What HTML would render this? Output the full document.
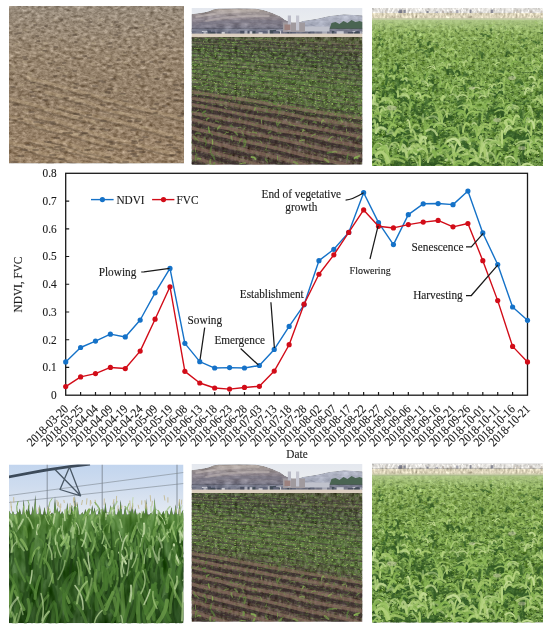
<!DOCTYPE html>
<html><head><meta charset="utf-8"><style>
html,body{margin:0;padding:0;background:#fff;}
svg{display:block;}
text{font-family:"Liberation Serif","Times New Roman",serif;font-size:11.3px;fill:#1a1a1a;stroke:#1a1a1a;stroke-width:0.12px;}
</style></head><body>
<svg width="550" height="630" viewBox="0 0 550 630">
<rect width="550" height="630" fill="#fff"/>
<defs><filter id="ftl" x="0" y="0" width="1" height="1" color-interpolation-filters="sRGB"><feTurbulence type="fractalNoise" baseFrequency="0.22 0.33" numOctaves="3" seed="4" result="n"/><feColorMatrix in="n" type="matrix" values="0.33 0.33 0.33 0 0 0.33 0.33 0.33 0 0 0.33 0.33 0.33 0 0 0 0 0 0 1" result="g"/><feComposite in="SourceGraphic" in2="g" operator="arithmetic" k1="0" k2="1" k3="0.75" k4="-0.375" result="c"/><feComposite in="c" in2="SourceGraphic" operator="in"/></filter><clipPath id="ctl"><rect width="175" height="157.5"/></clipPath><clipPath id="ctm"><rect width="171.0" height="156.7"/></clipPath><linearGradient id="tmsky" x1="0" y1="0" x2="0" y2="1"><stop offset="0" stop-color="#e4e8ef"/><stop offset="1" stop-color="#f2f2f0"/></linearGradient><linearGradient id="tmhill" x1="0" y1="0" x2="0" y2="1"><stop offset="0" stop-color="#aaa099"/><stop offset="0.45" stop-color="#908890"/><stop offset="1" stop-color="#707284"/></linearGradient><linearGradient id="tmhill2" x1="0" y1="0" x2="0" y2="1"><stop offset="0" stop-color="#b8bccb"/><stop offset="1" stop-color="#9a9fb0"/></linearGradient><linearGradient id="tmfield" gradientUnits="userSpaceOnUse" x1="100" y1="29" x2="78" y2="156.7"><stop offset="0" stop-color="#55583f"/><stop offset="0.12" stop-color="#4f5a3e"/><stop offset="0.35" stop-color="#5a7040"/><stop offset="0.5" stop-color="#55613e"/><stop offset="0.62" stop-color="#5b4c44"/><stop offset="1" stop-color="#574640"/></linearGradient><filter id="ftm" x="0" y="0" width="1" height="1" color-interpolation-filters="sRGB"><feTurbulence type="fractalNoise" baseFrequency="0.3 0.18" numOctaves="3" seed="9" result="n"/><feColorMatrix in="n" type="matrix" values="0.33 0.33 0.33 0 0 0.33 0.33 0.33 0 0 0.33 0.33 0.33 0 0 0 0 0 0 1" result="g"/><feComposite in="SourceGraphic" in2="g" operator="arithmetic" k1="0" k2="1" k3="0.7" k4="-0.35" result="c"/><feComposite in="c" in2="SourceGraphic" operator="in"/></filter><filter id="ftmh" x="0" y="0" width="1" height="1" color-interpolation-filters="sRGB"><feTurbulence type="fractalNoise" baseFrequency="0.12 0.3" numOctaves="3" seed="5" result="n"/><feColorMatrix in="n" type="matrix" values="0.33 0.33 0.33 0 0 0.33 0.33 0.33 0 0 0.33 0.33 0.33 0 0 0 0 0 0 1" result="g"/><feComposite in="SourceGraphic" in2="g" operator="arithmetic" k1="0" k2="1" k3="0.5" k4="-0.25" result="c"/><feComposite in="c" in2="SourceGraphic" operator="in"/></filter><linearGradient id="tmpm" gradientUnits="userSpaceOnUse" x1="100" y1="30" x2="78" y2="156.7"><stop offset="0" stop-color="#fff" stop-opacity="0.55"/><stop offset="0.2" stop-color="#fff" stop-opacity="0.75"/><stop offset="0.45" stop-color="#fff" stop-opacity="1"/><stop offset="0.6" stop-color="#fff" stop-opacity="0.35"/><stop offset="1" stop-color="#fff" stop-opacity="0.25"/></linearGradient><filter id="stm" x="0" y="0" width="1" height="1" color-interpolation-filters="sRGB"><feTurbulence type="fractalNoise" baseFrequency="0.22 0.5" numOctaves="2" seed="31"/><feColorMatrix type="matrix" values="0 0 0 0 0.392 0 0 0 0 0.541 0 0 0 0 0.259 1.5 0 0 0 -0.25"/><feComponentTransfer><feFuncA type="table" tableValues="0 0 0 0 0.4 1 1"/></feComponentTransfer><feComposite in2="SourceGraphic" operator="in"/></filter><filter id="stmb" x="0" y="0" width="1" height="1" color-interpolation-filters="sRGB"><feTurbulence type="fractalNoise" baseFrequency="0.35 0.7" numOctaves="2" seed="8"/><feColorMatrix type="matrix" values="0 0 0 0 0.588 0 0 0 0 0.725 0 0 0 0 0.373 1.5 0 0 0 -0.25"/><feComponentTransfer><feFuncA type="table" tableValues="0 0 0 0 0 0.6 1"/></feComponentTransfer><feComposite in2="SourceGraphic" operator="in"/></filter><clipPath id="ctr"><rect width="171" height="158"/></clipPath><linearGradient id="trg" x1="0" y1="0" x2="0" y2="1"><stop offset="0" stop-color="#9cbc6a"/><stop offset="0.2" stop-color="#82a552"/><stop offset="0.5" stop-color="#729a46"/><stop offset="1" stop-color="#668e3e"/></linearGradient><filter id="ftr" x="0" y="0" width="1" height="1" color-interpolation-filters="sRGB"><feTurbulence type="fractalNoise" baseFrequency="0.3 0.24" numOctaves="3" seed="13" result="n"/><feColorMatrix in="n" type="matrix" values="0.33 0.33 0.33 0 0 0.33 0.33 0.33 0 0 0.33 0.33 0.33 0 0 0 0 0 0 1" result="g"/><feComposite in="SourceGraphic" in2="g" operator="arithmetic" k1="0" k2="1" k3="0.8" k4="-0.4" result="c"/><feComposite in="c" in2="SourceGraphic" operator="in"/></filter><filter id="ftrt" x="0" y="0" width="1" height="1" color-interpolation-filters="sRGB"><feTurbulence type="fractalNoise" baseFrequency="0.5 0.25" numOctaves="2" seed="3" result="n"/><feColorMatrix in="n" type="matrix" values="0.33 0.33 0.33 0 0 0.33 0.33 0.33 0 0 0.33 0.33 0.33 0 0 0 0 0 0 1" result="g"/><feComposite in="SourceGraphic" in2="g" operator="arithmetic" k1="0" k2="1" k3="0.8" k4="-0.4" result="c"/><feComposite in="c" in2="SourceGraphic" operator="in"/></filter><filter id="strd" x="0" y="0" width="1" height="1" color-interpolation-filters="sRGB"><feTurbulence type="fractalNoise" baseFrequency="0.28 0.5" numOctaves="2" seed="41"/><feColorMatrix type="matrix" values="0 0 0 0 0.149 0 0 0 0 0.267 0 0 0 0 0.102 1.5 0 0 0 -0.25"/><feComponentTransfer><feFuncA type="table" tableValues="0 0 0 0 0.35 0.9 1"/></feComponentTransfer><feComposite in2="SourceGraphic" operator="in"/></filter><filter id="strl" x="0" y="0" width="1" height="1" color-interpolation-filters="sRGB"><feTurbulence type="fractalNoise" baseFrequency="0.4 0.7" numOctaves="2" seed="12"/><feColorMatrix type="matrix" values="0 0 0 0 0.647 0 0 0 0 0.776 0 0 0 0 0.439 1.5 0 0 0 -0.25"/><feComponentTransfer><feFuncA type="table" tableValues="0 0 0 0 0.15 0.8 1"/></feComponentTransfer><feComposite in2="SourceGraphic" operator="in"/></filter><linearGradient id="trm" x1="0" y1="0" x2="0" y2="1"><stop offset="0" stop-color="#fff" stop-opacity="0.45"/><stop offset="1" stop-color="#fff" stop-opacity="1"/></linearGradient><linearGradient id="trhz" x1="0" y1="0" x2="0" y2="1"><stop offset="0" stop-color="#b8cc94" stop-opacity="0.75"/><stop offset="1" stop-color="#a8c47e" stop-opacity="0"/></linearGradient><clipPath id="cbl"><rect width="174.5" height="158.79999999999995"/></clipPath><linearGradient id="blsky" x1="0" y1="0" x2="0" y2="1"><stop offset="0" stop-color="#c2d5ee"/><stop offset="0.15" stop-color="#d0ddef"/><stop offset="0.3" stop-color="#e3e9f1"/><stop offset="1" stop-color="#eef0f2"/></linearGradient><linearGradient id="blg" x1="0" y1="0" x2="0" y2="1"><stop offset="0" stop-color="#76a05a"/><stop offset="0.2" stop-color="#58863e"/><stop offset="0.5" stop-color="#3a6429"/><stop offset="1" stop-color="#2a4c1e"/></linearGradient><filter id="fbl" x="0" y="0" width="1" height="1" color-interpolation-filters="sRGB"><feTurbulence type="fractalNoise" baseFrequency="0.12 0.041999999999999996" numOctaves="3" seed="17" result="n"/><feColorMatrix in="n" type="matrix" values="0.33 0.33 0.33 0 0 0.33 0.33 0.33 0 0 0.33 0.33 0.33 0 0 0 0 0 0 1" result="g"/><feComposite in="SourceGraphic" in2="g" operator="arithmetic" k1="0" k2="1" k3="0.8" k4="-0.4" result="c"/><feComposite in="c" in2="SourceGraphic" operator="in"/></filter><clipPath id="cbm"><rect width="171.0" height="157.79999999999995"/></clipPath><linearGradient id="bmsky" x1="0" y1="0" x2="0" y2="1"><stop offset="0" stop-color="#e4e8ef"/><stop offset="1" stop-color="#f2f2f0"/></linearGradient><linearGradient id="bmhill" x1="0" y1="0" x2="0" y2="1"><stop offset="0" stop-color="#aaa099"/><stop offset="0.45" stop-color="#908890"/><stop offset="1" stop-color="#707284"/></linearGradient><linearGradient id="bmhill2" x1="0" y1="0" x2="0" y2="1"><stop offset="0" stop-color="#b8bccb"/><stop offset="1" stop-color="#9a9fb0"/></linearGradient><linearGradient id="bmfield" gradientUnits="userSpaceOnUse" x1="100" y1="29" x2="78" y2="157.79999999999995"><stop offset="0" stop-color="#55583f"/><stop offset="0.12" stop-color="#4f5a3e"/><stop offset="0.35" stop-color="#5a7040"/><stop offset="0.5" stop-color="#55613e"/><stop offset="0.62" stop-color="#5b4c44"/><stop offset="1" stop-color="#574640"/></linearGradient><filter id="fbm" x="0" y="0" width="1" height="1" color-interpolation-filters="sRGB"><feTurbulence type="fractalNoise" baseFrequency="0.3 0.18" numOctaves="3" seed="9" result="n"/><feColorMatrix in="n" type="matrix" values="0.33 0.33 0.33 0 0 0.33 0.33 0.33 0 0 0.33 0.33 0.33 0 0 0 0 0 0 1" result="g"/><feComposite in="SourceGraphic" in2="g" operator="arithmetic" k1="0" k2="1" k3="0.7" k4="-0.35" result="c"/><feComposite in="c" in2="SourceGraphic" operator="in"/></filter><filter id="fbmh" x="0" y="0" width="1" height="1" color-interpolation-filters="sRGB"><feTurbulence type="fractalNoise" baseFrequency="0.12 0.3" numOctaves="3" seed="5" result="n"/><feColorMatrix in="n" type="matrix" values="0.33 0.33 0.33 0 0 0.33 0.33 0.33 0 0 0.33 0.33 0.33 0 0 0 0 0 0 1" result="g"/><feComposite in="SourceGraphic" in2="g" operator="arithmetic" k1="0" k2="1" k3="0.5" k4="-0.25" result="c"/><feComposite in="c" in2="SourceGraphic" operator="in"/></filter><linearGradient id="bmpm" gradientUnits="userSpaceOnUse" x1="100" y1="30" x2="78" y2="157.79999999999995"><stop offset="0" stop-color="#fff" stop-opacity="0.55"/><stop offset="0.2" stop-color="#fff" stop-opacity="0.75"/><stop offset="0.45" stop-color="#fff" stop-opacity="1"/><stop offset="0.6" stop-color="#fff" stop-opacity="0.35"/><stop offset="1" stop-color="#fff" stop-opacity="0.25"/></linearGradient><filter id="sbm" x="0" y="0" width="1" height="1" color-interpolation-filters="sRGB"><feTurbulence type="fractalNoise" baseFrequency="0.22 0.5" numOctaves="2" seed="31"/><feColorMatrix type="matrix" values="0 0 0 0 0.392 0 0 0 0 0.541 0 0 0 0 0.259 1.5 0 0 0 -0.25"/><feComponentTransfer><feFuncA type="table" tableValues="0 0 0 0 0.4 1 1"/></feComponentTransfer><feComposite in2="SourceGraphic" operator="in"/></filter><filter id="sbmb" x="0" y="0" width="1" height="1" color-interpolation-filters="sRGB"><feTurbulence type="fractalNoise" baseFrequency="0.35 0.7" numOctaves="2" seed="8"/><feColorMatrix type="matrix" values="0 0 0 0 0.588 0 0 0 0 0.725 0 0 0 0 0.373 1.5 0 0 0 -0.25"/><feComponentTransfer><feFuncA type="table" tableValues="0 0 0 0 0 0.6 1"/></feComponentTransfer><feComposite in2="SourceGraphic" operator="in"/></filter><clipPath id="cbr"><rect width="171" height="159.0"/></clipPath><linearGradient id="brg" x1="0" y1="0" x2="0" y2="1"><stop offset="0" stop-color="#9cbc6a"/><stop offset="0.2" stop-color="#82a552"/><stop offset="0.5" stop-color="#729a46"/><stop offset="1" stop-color="#668e3e"/></linearGradient><filter id="fbr" x="0" y="0" width="1" height="1" color-interpolation-filters="sRGB"><feTurbulence type="fractalNoise" baseFrequency="0.3 0.24" numOctaves="3" seed="13" result="n"/><feColorMatrix in="n" type="matrix" values="0.33 0.33 0.33 0 0 0.33 0.33 0.33 0 0 0.33 0.33 0.33 0 0 0 0 0 0 1" result="g"/><feComposite in="SourceGraphic" in2="g" operator="arithmetic" k1="0" k2="1" k3="0.8" k4="-0.4" result="c"/><feComposite in="c" in2="SourceGraphic" operator="in"/></filter><filter id="fbrt" x="0" y="0" width="1" height="1" color-interpolation-filters="sRGB"><feTurbulence type="fractalNoise" baseFrequency="0.5 0.25" numOctaves="2" seed="3" result="n"/><feColorMatrix in="n" type="matrix" values="0.33 0.33 0.33 0 0 0.33 0.33 0.33 0 0 0.33 0.33 0.33 0 0 0 0 0 0 1" result="g"/><feComposite in="SourceGraphic" in2="g" operator="arithmetic" k1="0" k2="1" k3="0.8" k4="-0.4" result="c"/><feComposite in="c" in2="SourceGraphic" operator="in"/></filter><filter id="sbrd" x="0" y="0" width="1" height="1" color-interpolation-filters="sRGB"><feTurbulence type="fractalNoise" baseFrequency="0.28 0.5" numOctaves="2" seed="41"/><feColorMatrix type="matrix" values="0 0 0 0 0.149 0 0 0 0 0.267 0 0 0 0 0.102 1.5 0 0 0 -0.25"/><feComponentTransfer><feFuncA type="table" tableValues="0 0 0 0 0.35 0.9 1"/></feComponentTransfer><feComposite in2="SourceGraphic" operator="in"/></filter><filter id="sbrl" x="0" y="0" width="1" height="1" color-interpolation-filters="sRGB"><feTurbulence type="fractalNoise" baseFrequency="0.4 0.7" numOctaves="2" seed="12"/><feColorMatrix type="matrix" values="0 0 0 0 0.647 0 0 0 0 0.776 0 0 0 0 0.439 1.5 0 0 0 -0.25"/><feComponentTransfer><feFuncA type="table" tableValues="0 0 0 0 0.15 0.8 1"/></feComponentTransfer><feComposite in2="SourceGraphic" operator="in"/></filter><linearGradient id="brm" x1="0" y1="0" x2="0" y2="1"><stop offset="0" stop-color="#fff" stop-opacity="0.45"/><stop offset="1" stop-color="#fff" stop-opacity="1"/></linearGradient><linearGradient id="brhz" x1="0" y1="0" x2="0" y2="1"><stop offset="0" stop-color="#b8cc94" stop-opacity="0.75"/><stop offset="1" stop-color="#a8c47e" stop-opacity="0"/></linearGradient></defs>
<g transform="translate(9,6)"><g clip-path="url(#ctl)"><linearGradient id="tlg" x1="0" y1="0" x2="0" y2="1"><stop offset="0" stop-color="#9a8d7d"/><stop offset="0.3" stop-color="#988670"/><stop offset="0.6" stop-color="#927e67"/><stop offset="1" stop-color="#998268"/></linearGradient>
<linearGradient id="tlm" x1="0" y1="0" x2="0" y2="1"><stop offset="0" stop-color="#fff" stop-opacity="1"/><stop offset="0.25" stop-color="#fff" stop-opacity="0.6"/><stop offset="0.45" stop-color="#fff" stop-opacity="0"/></linearGradient>
<rect width="175" height="157.5" fill="url(#tlg)" filter="url(#ftl)"/>
<path d="M18 71.2L56 81.4L94 91.9L133 102.5L171 111.7L209 123.0M36 85.9L57 90.8L77 95.6L97 103.1L117 108.2L137 111.7M50 100.1L83 109.2L115 116.5L147 124.8L180 135.1L212 142.5M-8 90.3L11 95.2L30 100.2L48 106.4L67 110.5L86 115.9M26 109.6L54 116.5L82 126.3L110 133.8L138 140.9L166 148.1M-9 108.5L16 113.8L40 122.5L64 128.0L89 135.9L113 141.1M41 133.4L59 137.4L77 144.4L95 147.9L113 154.3L131 157.4M23 134.2L58 143.0L94 151.9L129 162.1L164 173.5L199 182.4M-7 135.1L13 139.2L33 146.9L53 150.5L74 157.1L94 162.2M32 154.9L52 160.9L73 165.0L94 171.5L115 176.6L136 182.4M37 168.5L62 176.4L87 181.0L111 188.2L136 196.3L161 202.3M52 178.1L75 183.5L98 191.1L120 195.9L143 202.0L166 207.4" stroke="#cbb38e" stroke-opacity="0.3" stroke-width="3" fill="none"/>
<path d="M15 73.8L53 84.0L91 94.5L130 105.1L168 114.3L206 125.6M33 88.5L54 93.4L74 98.2L94 105.7L114 110.8L134 114.3M47 102.7L80 111.8L112 119.1L144 127.4L177 137.7L209 145.1M-11 92.9L8 97.8L27 102.8L45 109.0L64 113.1L83 118.5M23 112.2L51 119.1L79 128.9L107 136.4L135 143.5L163 150.7M-12 111.1L13 116.4L37 125.1L61 130.6L86 138.5L110 143.7M38 136.0L56 140.0L74 147.0L92 150.5L110 156.9L128 160.0M20 136.8L55 145.6L91 154.5L126 164.7L161 176.1L196 185.0M-10 137.7L10 141.8L30 149.5L50 153.1L71 159.7L91 164.8M29 157.5L49 163.5L70 167.6L91 174.1L112 179.2L133 185.0M34 171.1L59 179.0L84 183.6L108 190.8L133 198.9L158 204.9M49 180.7L72 186.1L95 193.7L117 198.5L140 204.6L163 210.0" stroke="#5a4a3a" stroke-opacity="0.35" stroke-width="1.6" fill="none"/>
<path d="M65 78h4.5M101 138h4.4M159 131h4.4M154 100h4.0M45 132h5.1M31 117h3.7M98 136h5.2M161 42h1.9M78 21h1.8M172 108h4.7M73 127h5.5M127 69h3.9M5 99h4.1M154 68h3.6M124 150h4.8M79 52h2.5M172 78h2.8M153 18h2.7M54 127h3.8M80 16h2.9M25 19h2.6M120 41h2.8M2 81h4.1M48 62h3.7M165 79h4.0M150 63h2.5M96 124h4.7M142 21h3.0M59 127h4.1M166 84h4.7M112 88h4.5M36 136h5.9M100 41h2.9M106 16h3.2M70 129h4.9M121 22h2.5M167 146h4.7M162 31h3.1M34 45h3.3M21 86h3.4M93 76h3.4M38 157h6.2M42 118h4.1M146 73h4.1M70 112h3.5M119 145h6.1M33 22h1.7M97 87h4.0M81 123h4.3M90 75h3.8M123 135h4.3M129 71h2.9M123 137h5.2M122 124h5.2M126 22h2.1M41 149h5.6M115 95h4.1M45 70h2.6M96 86h4.7M174 105h4.9M28 81h3.1M107 21h3.2M92 99h3.9M52 14h1.7M13 144h5.0M106 29h2.8M36 20h2.4M78 109h4.3M102 73h4.1M175 151h5.7M63 52h3.4M104 104h4.7M7 21h1.9M109 27h2.6M65 82h3.2M130 134h4.1M142 103h4.7M74 50h3.6M114 156h5.1M131 146h5.0M17 139h4.2M99 83h4.1M64 29h3.0M161 149h6.0M141 56h2.8M164 142h4.6M64 65h3.2M34 94h4.6M154 53h2.2M91 123h4.5M169 110h4.4M126 115h5.3M92 115h5.1M66 36h2.2M51 153h4.5M20 106h4.8M6 28h1.9M41 116h4.7M55 92h4.6M46 141h5.9M96 151h5.3M9 150h5.8M115 47h2.0M28 35h2.4M14 51h3.5M84 80h4.6M150 56h3.7M160 25h3.1M54 57h2.4M145 107h3.4M124 47h3.1M2 156h6.0M108 54h2.9M45 41h3.3M165 94h4.4M145 25h1.8M119 115h3.9M146 98h3.3M27 30h2.4M134 131h4.6M158 92h3.7M25 116h5.4M110 41h2.0M24 144h5.2M51 143h4.6M145 39h2.9M67 98h4.7M35 80h3.0M100 37h2.8M99 60h3.5M147 136h4.8M99 144h5.2M76 144h4.8M127 143h5.6M132 56h3.4M22 77h3.6M9 113h4.5M54 70h3.0M22 90h4.8M43 56h2.8M157 131h4.6M157 40h3.5M9 27h3.0M158 139h5.4M122 148h5.1M39 57h3.6M65 108h5.1M77 89h4.0M15 53h3.6" stroke="#4a3c30" stroke-opacity="0.5" stroke-width="1.6" stroke-linecap="round" fill="none"/>
<path d="M16 97h3.6M129 149h4.7M7 152h4.8M100 31h2.4M25 17h1.4M123 152h4.4M84 118h4.2M13 91h4.4M129 114h5.0M62 112h5.2M109 68h3.6M14 105h5.2M77 134h4.1M122 84h4.0M45 14h1.8M35 37h3.5M77 142h4.8M35 75h4.2M24 84h4.4M110 84h3.4M110 107h4.9M108 122h4.4M159 25h3.3M23 78h3.9M66 95h4.8M126 131h5.1M37 143h6.0M94 127h4.4M90 117h5.2M39 89h3.5M55 67h4.1M22 75h4.2M83 58h2.6M62 102h3.4M93 35h2.1M112 89h4.6M150 46h3.4M158 58h2.9M88 122h4.7M32 42h3.5M162 26h1.7M90 14h3.0M105 85h4.8M45 145h5.6M143 71h4.3M2 64h3.6M175 105h4.7M172 15h2.5M66 26h2.0M105 122h3.8M115 94h3.6M27 122h4.4M131 19h3.3M170 47h3.0M126 80h4.6M20 142h5.6M44 155h6.2M15 110h4.5M136 23h1.9M14 56h3.6M50 33h2.4M146 94h3.4M95 95h4.9M141 21h2.5M15 24h2.9M15 104h3.6M114 48h2.4M145 109h5.0M146 141h6.0M74 33h3.1M11 79h3.8M32 53h2.5M92 87h3.4M65 128h5.2M152 87h4.1M47 90h3.3M0 132h5.5M95 88h3.2M82 116h4.2M19 69h3.4M52 61h3.1M161 74h3.6M72 14h2.0M172 127h5.1M3 60h3.0M19 67h3.4M144 101h3.5M125 134h4.3M101 113h4.1M63 79h3.0M98 50h3.8M143 100h3.4M6 38h3.7M115 57h3.5M117 33h3.5M82 72h3.8M133 121h4.6M159 153h5.6M74 129h4.3M99 143h4.4M102 19h1.4M54 85h4.6M83 42h2.5M83 37h3.5M35 104h3.7M32 46h3.3M40 56h4.0M48 105h3.5M105 53h2.6M49 92h3.4M173 17h2.2" stroke="#c8b698" stroke-opacity="0.35" stroke-width="1.4" stroke-linecap="round" fill="none"/></g></g>
<g transform="translate(191.5,8)"><g clip-path="url(#ctm)">
<rect width="171.0" height="30" fill="url(#tmsky)"/>
<polygon points="98,24 104,15.5 112,13 125,11 137.5,8.3 152.2,6.6 171,7.5 171,24" fill="url(#tmhill2)" filter="url(#ftmh)"/>
<polygon points="0,24 0,6.3 6,5.6 13,4.6 18,3.2 22,1.4 27,0.8 47.5,0.5 64,0.8 72.1,2.3 80.3,5 88.5,8.5 93.3,12 100.5,15 104,24" fill="url(#tmhill)" filter="url(#ftmh)"/>
<path d="M4,9 Q30,4 55,3.5 M14,13 Q45,7 78,8 M30,3 Q55,1.5 68,3" stroke="#d0c6c0" stroke-opacity="0.4" stroke-width="2.2" fill="none"/>
<path d="M8,16 Q40,12 90,14" stroke="#6b6a7c" stroke-opacity="0.35" stroke-width="3" fill="none"/>
<path d="M138,21 L140,15 L144,14 L148,16 L152,13 L156,15 L160,12 L164,14 L168,13 L171,14 L171,21 Z" fill="#4a6452"/>
<rect x="0" y="20.5" width="171.0" height="5.5" fill="#7a7d8e" filter="url(#ftmh)"/>
<rect x="55.4" y="22.9" width="2.8" height="3.1" fill="#4a5062"/><rect x="140.4" y="23.0" width="2.5" height="3.0" fill="#3f4a55"/><rect x="36.7" y="23.5" width="2.4" height="2.5" fill="#5f6478"/><rect x="15.5" y="22.4" width="4.1" height="3.6" fill="#4a5062"/><rect x="162.0" y="23.0" width="5.2" height="3.0" fill="#4a5062"/><rect x="98.7" y="22.1" width="4.0" height="3.9" fill="#4a5062"/><rect x="95.2" y="23.5" width="2.7" height="2.5" fill="#3f4a55"/><rect x="20.1" y="22.5" width="3.5" height="3.5" fill="#5f6478"/><rect x="17.6" y="24.0" width="4.9" height="2.0" fill="#4a5062"/><rect x="93.7" y="24.4" width="2.3" height="1.6" fill="#5f6478"/><rect x="84.9" y="22.6" width="4.7" height="3.4" fill="#c9cad2"/><rect x="100.1" y="23.8" width="4.3" height="2.2" fill="#5f6478"/><rect x="119.5" y="23.1" width="3.2" height="2.9" fill="#3f4a55"/><rect x="84.7" y="23.4" width="3.7" height="2.6" fill="#3f4a55"/><rect x="167.6" y="23.5" width="2.6" height="2.5" fill="#a9abb8"/><rect x="26.0" y="24.4" width="4.4" height="1.6" fill="#4a5062"/><rect x="130.7" y="22.3" width="4.9" height="3.7" fill="#a9abb8"/><rect x="58.2" y="23.3" width="3.8" height="2.7" fill="#c9cad2"/><rect x="11.8" y="23.8" width="2.5" height="2.2" fill="#4a5062"/><rect x="10.4" y="22.9" width="5.5" height="3.1" fill="#c9cad2"/><rect x="48.7" y="22.8" width="3.9" height="3.2" fill="#4a5062"/><rect x="160.9" y="23.0" width="3.8" height="3.0" fill="#c9cad2"/><rect x="10.1" y="24.2" width="5.8" height="1.8" fill="#5f6478"/><rect x="68.0" y="23.3" width="6.6" height="2.7" fill="#5f6478"/><rect x="76.8" y="22.3" width="4.7" height="3.7" fill="#c9cad2"/><rect x="147.7" y="23.5" width="3.4" height="2.5" fill="#a9abb8"/><rect x="116.7" y="23.9" width="3.9" height="2.1" fill="#4a5062"/><rect x="30.1" y="23.9" width="3.2" height="2.1" fill="#c9cad2"/><rect x="142.1" y="23.8" width="2.9" height="2.2" fill="#5f6478"/><rect x="71.6" y="23.1" width="3.8" height="2.9" fill="#5f6478"/><rect x="118.1" y="23.0" width="4.6" height="3.0" fill="#4a5062"/><rect x="78.1" y="22.1" width="6.4" height="3.9" fill="#3f4a55"/><rect x="67.1" y="24.2" width="4.0" height="1.8" fill="#c9cad2"/><rect x="10.6" y="24.0" width="2.3" height="2.0" fill="#5f6478"/><rect x="18.8" y="24.2" width="5.0" height="1.8" fill="#3f4a55"/><rect x="25.9" y="23.6" width="2.5" height="2.4" fill="#4a5062"/><rect x="12.0" y="23.6" width="3.0" height="2.4" fill="#a9abb8"/><rect x="163.4" y="23.3" width="5.0" height="2.7" fill="#4a5062"/><rect x="145.2" y="23.3" width="7.0" height="2.7" fill="#c9cad2"/><rect x="53.3" y="22.6" width="2.7" height="3.4" fill="#a9abb8"/><rect x="81.8" y="23.2" width="5.5" height="2.8" fill="#5f6478"/><rect x="162.6" y="24.1" width="4.6" height="1.9" fill="#3f4a55"/><rect x="156.3" y="23.8" width="5.8" height="2.2" fill="#4a5062"/><rect x="119.0" y="23.6" width="3.3" height="2.4" fill="#5f6478"/><rect x="60.8" y="23.1" width="3.1" height="2.9" fill="#3f4a55"/>
<rect x="110" y="18.5" width="28" height="5" fill="#c0c2cc"/>
<rect x="91.5" y="14.5" width="22" height="9.5" fill="#a09a9e"/>
<rect x="96.3" y="7.5" width="3.2" height="15" fill="#b9bac6"/>
<rect x="104.5" y="7.5" width="3.2" height="15" fill="#c4c5d0"/>
<rect x="93" y="16.5" width="6" height="5.5" fill="#9c817e"/>
<rect x="0" y="25.6" width="171.0" height="3.6" fill="#dccfc0"/>
<rect x="0" y="29" width="171.0" height="127.69999999999999" fill="url(#tmfield)" filter="url(#ftm)"/>
<path d="M0 29.3L28 30.2L57 31.4L86 33.3L114 34.2L142 35.5L171 36.9M0 34.4L28 35.8L57 37.3L86 39.1L114 40.3L142 41.9L171 43.4M0 50.3L28 53.2L57 55.6L86 57.2L114 59.7L142 62.6L171 64.6M0 53.6L28 57.0L57 59.9L86 62.7L114 64.6L142 68.0L171 70.6M0 58.7L28 61.8L57 63.9L86 67.7L114 70.0L142 73.1L171 76.7M0 67.4L28 71.0L57 74.4L86 77.7L114 81.4L142 85.4L171 88.1M0 72.5L28 75.9L57 80.1L86 84.3L114 88.0L142 91.3L171 96.2" stroke="#8c7668" stroke-opacity="0.45" stroke-width="1" fill="none"/>
<path d="M0 30.3L28 31.4L57 33.3L86 34.8L114 35.8L142 37.0L171 38.2M0 33.3L28 34.1L57 35.8L86 36.9L114 37.9L142 39.3L171 41.0M0 35.4L28 37.4L57 39.3L86 40.2L114 42.3L142 43.9L171 45.4M0 38.4L28 39.9L57 41.6L86 43.3L114 45.0L142 47.2L171 49.2M0 42.0L28 43.5L57 45.6L86 47.6L114 48.6L142 51.2L171 53.4M0 45.3L28 47.3L57 49.0L86 50.7L114 53.5L142 55.0L171 57.7M0 49.0L28 50.6L57 52.9L86 55.8L114 57.8L142 59.4L171 61.6M0 51.8L28 55.2L57 57.6L86 59.3L114 62.6L142 65.2L171 67.3M0 56.1L28 59.0L57 61.3L86 63.8L114 67.7L142 70.0L171 72.6M0 61.1L28 63.5L57 67.0L86 69.9L114 72.1L142 75.1L171 78.2M0 64.9L28 68.5L57 71.4L86 74.8L114 77.7L142 81.9L171 84.5M0 70.1L28 73.8L57 77.7L86 80.6L114 84.8L142 87.8L171 91.4M0 75.5L28 78.7L57 83.0L86 86.6L114 90.2L142 95.0L171 98.1M0 81.1L28 85.6L57 89.5L86 93.4L114 97.8L142 102.0L171 106.5" stroke="#40323a" stroke-opacity="0.55" stroke-width="1.3" fill="none"/>
<path d="M0 88.3L28 90.8L57 95.7L86 99.6L114 105.9L142 109.2L171 113.4M0 93.5L28 99.6L57 104.3L86 107.8L114 112.4L142 119.2L171 123.2M0 101.1L28 105.0L57 110.2L86 117.0L114 121.7L142 126.1L171 133.5M0 108.4L28 114.6L57 118.6L86 126.2L114 130.0L142 137.6L171 142.4M0 115.7L28 122.4L57 129.5L86 134.1L114 140.0L142 147.1L171 152.6M0 123.7L28 130.5L57 136.9L86 144.0L114 150.9L142 157.6L171 165.4M0 133.3L28 141.0L57 147.4L86 155.0L114 161.5L142 169.3L171 175.9M0 144.1L28 151.5L57 158.4L86 166.8L114 175.7L142 181.5L171 191.0M0 153.9L28 162.4L57 171.6L86 178.9L114 187.6L142 196.4L171 205.5M0 164.8L28 175.1L57 183.8L86 192.7L114 201.2L142 210.1L171 218.4M0 176.3L28 185.9L57 197.3L86 205.9L114 215.4L142 224.9L171 236.5M0 191.0L28 201.0L57 210.5L86 220.9L114 231.5L142 242.4L171 252.2M0 203.7L28 214.5L57 227.5L86 238.8L114 249.1L142 259.6L171 272.7" stroke="#30262a" stroke-opacity="0.6" stroke-width="3.6" fill="none"/>
<path d="M0 83.6L28 88.2L57 92.0L86 97.3L114 102.0L142 106.5L171 110.4M0 90.2L28 94.1L57 99.5L86 104.1L114 109.6L142 113.8L171 118.6M0 96.5L28 101.7L57 107.7L86 112.9L114 118.6L142 123.7L171 129.2M0 104.9L28 109.6L57 115.2L86 122.3L114 126.3L142 133.2L171 138.8M0 110.9L28 118.7L57 125.0L86 130.6L114 137.1L142 143.4L171 148.3M0 120.1L28 126.7L57 134.1L86 140.7L114 147.5L142 153.7L171 161.0M0 129.2L28 136.5L57 142.8L86 149.6L114 157.0L142 164.7L171 171.4M0 139.0L28 146.2L57 154.1L86 161.9L114 169.8L142 177.2L171 184.0M0 149.0L28 157.3L57 165.2L86 173.7L114 182.3L142 189.5L171 199.3M0 158.7L28 167.4L57 176.8L86 186.8L114 194.8L142 204.9L171 214.4M0 170.8L28 180.3L57 190.2L86 200.4L114 210.3L142 219.7L171 229.5M0 182.4L28 193.0L57 203.7L86 215.1L114 224.8L142 235.8L171 245.1M0 195.6L28 207.3L57 219.4L86 230.7L114 242.0L142 252.5L171 264.2" stroke="#8e7262" stroke-opacity="0.6" stroke-width="3.4" fill="none"/>
<rect y="30" width="171.0" height="126.69999999999999" fill="url(#tmpm)" filter="url(#stm)"/>
<rect y="30" width="171.0" height="126.69999999999999" fill="url(#tmpm)" filter="url(#stmb)"/>
<path d="M79 124Q78 124 77 125M9 126Q6 124 4 126M125 115Q124 113 122 114M110 112Q112 111 112 110M88 114Q88 115 86 117M48 134Q48 132 50 131M27 114Q26 113 24 113M74 151Q74 152 76 154M86 118Q85 116 85 114M5 146Q4 148 4 152" stroke="#6f9a45" stroke-width="1.5" stroke-opacity="0.6" fill="none" stroke-linecap="round"/><path d="M21 127Q20 125 17 124M156 152Q155 149 157 146M1 104Q-2 103 -2 103M19 144Q19 141 20 139M89 101Q88 100 86 100M15 134Q15 135 14 137M14 108Q13 107 12 107M13 130Q14 132 14 134M167 108Q168 107 169 106M41 119Q40 117 39 118" stroke="#5f8a3c" stroke-width="1.5" stroke-opacity="0.6" fill="none" stroke-linecap="round"/><path d="M157 125Q156 124 155 125M4 140Q4 142 4 144M99 117Q101 116 103 118M50 123Q52 125 52 127M48 112Q48 111 48 110M9 97Q10 96 12 97M4 104Q6 102 7 102M147 98Q147 96 148 95M150 133Q149 131 149 129M54 119Q53 120 52 122M86 152Q86 150 86 148M89 125Q87 125 86 125M168 128Q167 128 165 131M50 120Q49 118 46 120" stroke="#7fa84e" stroke-width="1" stroke-opacity="0.6" fill="none" stroke-linecap="round"/><path d="M63 102Q63 101 64 100M29 118Q28 118 26 121M9 151Q7 150 6 151M18 124Q17 121 17 119" stroke="#7fa84e" stroke-width="1.5" stroke-opacity="0.8" fill="none" stroke-linecap="round"/><path d="M158 113Q160 111 160 111M112 122Q112 123 111 124M176 152Q176 150 174 149M54 155Q50 155 48 156M114 123Q113 121 111 122M136 96Q134 96 134 97" stroke="#8fb656" stroke-width="1" stroke-opacity="0.8" fill="none" stroke-linecap="round"/><path d="M150 112Q150 113 151 114M108 133Q111 132 113 132M137 132Q138 130 140 129M130 115Q130 113 132 112M145 144Q144 143 141 144" stroke="#8fb656" stroke-width="1.5" stroke-opacity="0.6" fill="none" stroke-linecap="round"/><path d="M70 112Q70 114 70 115M134 114Q133 113 131 112M37 124Q35 124 33 126M155 121Q155 122 155 123M126 109Q126 109 128 111M137 120Q135 119 134 120M91 95Q90 95 90 96M33 99Q34 99 35 101" stroke="#8fb656" stroke-width="1" stroke-opacity="0.6" fill="none" stroke-linecap="round"/><path d="M66 105Q67 104 66 103M76 104Q75 103 75 102M162 109Q163 108 163 107M4 132Q2 129 2 128M113 115Q114 115 116 117" stroke="#5f8a3c" stroke-width="1" stroke-opacity="0.8" fill="none" stroke-linecap="round"/><path d="M32 96Q33 95 34 94M84 100Q82 99 81 101M74 142Q75 141 75 139M61 150Q63 149 63 149M140 99Q140 98 139 98M155 131Q157 129 158 129M115 95Q115 97 116 98M142 120Q142 118 143 118M62 118Q61 117 60 116M171 140Q172 137 174 136M114 107Q113 106 113 105M116 135Q118 137 119 139M81 129Q80 130 78 131" stroke="#6f9a45" stroke-width="1" stroke-opacity="0.6" fill="none" stroke-linecap="round"/><path d="M23 155Q22 156 21 158M53 138Q54 136 54 134" stroke="#6f9a45" stroke-width="2" stroke-opacity="0.6" fill="none" stroke-linecap="round"/><path d="M2 143Q1 143 -1 145M86 108Q88 106 88 104M85 96Q86 94 86 93M174 101Q174 102 173 104M15 97Q15 98 14 100M54 105Q55 106 56 108M149 112Q149 110 149 109" stroke="#5f8a3c" stroke-width="1" stroke-opacity="0.6" fill="none" stroke-linecap="round"/><path d="M70 135Q70 134 69 133M7 133Q5 130 4 130M145 105Q145 105 144 106M-5 107Q-7 107 -8 108M120 128Q123 126 124 126" stroke="#7fa84e" stroke-width="1" stroke-opacity="0.8" fill="none" stroke-linecap="round"/><path d="M-1 132Q-1 133 0 135M11 105Q12 104 14 103M52 134Q53 132 54 132M82 96Q84 95 85 97" stroke="#5f8a3c" stroke-width="1.5" stroke-opacity="0.8" fill="none" stroke-linecap="round"/><path d="M173 122Q172 121 171 121M41 132Q39 130 40 128M-4 151Q-5 152 -6 154M46 127Q44 124 43 124M-5 117Q-4 116 -3 115M65 125Q63 124 61 124" stroke="#7fa84e" stroke-width="1.5" stroke-opacity="0.6" fill="none" stroke-linecap="round"/><path d="M171 106Q172 105 173 105" stroke="#6f9a45" stroke-width="1" stroke-opacity="0.8" fill="none" stroke-linecap="round"/><path d="M17 110Q15 111 15 112" stroke="#6f9a45" stroke-width="1.5" stroke-opacity="0.8" fill="none" stroke-linecap="round"/><path d="M19 152Q18 154 19 156M102 154Q104 154 106 156" stroke="#7fa84e" stroke-width="2" stroke-opacity="0.6" fill="none" stroke-linecap="round"/><path d="M60 149Q63 149 64 151" stroke="#8fb656" stroke-width="2" stroke-opacity="0.8" fill="none" stroke-linecap="round"/><path d="M163 150Q164 149 166 150" stroke="#7fa84e" stroke-width="2" stroke-opacity="0.8" fill="none" stroke-linecap="round"/><path d="M133 151Q135 152 137 154" stroke="#8fb656" stroke-width="2" stroke-opacity="0.6" fill="none" stroke-linecap="round"/><path d="M163 150Q166 148 168 148M21 132Q21 134 21 136" stroke="#8fb656" stroke-width="1.5" stroke-opacity="0.8" fill="none" stroke-linecap="round"/><path d="M136 145Q138 144 140 144M23 151Q22 148 20 146" stroke="#5f8a3c" stroke-width="2" stroke-opacity="0.6" fill="none" stroke-linecap="round"/>
</g></g>
<g transform="translate(372,8)"><g clip-path="url(#ctr)">
<rect width="171" height="6" fill="#e4e2de" filter="url(#ftrt)"/>
<rect x="28.2" y="2.2" width="2.7" height="2.8" fill="#b0a8a0" opacity="0.8"/>
<rect x="144.2" y="2.6" width="3.5" height="2.4" fill="#c8c0b4" opacity="0.8"/>
<rect x="31.4" y="1.9" width="2.3" height="3.1" fill="#6f7080" opacity="0.8"/>
<rect x="63.4" y="3.4" width="2.5" height="1.6" fill="#9a9aa6" opacity="0.8"/>
<rect x="157.6" y="2.6" width="2.7" height="2.4" fill="#b0a8a0" opacity="0.8"/>
<rect x="105.3" y="2.8" width="1.1" height="2.2" fill="#b0a8a0" opacity="0.8"/>
<rect x="118.7" y="1.6" width="2.6" height="3.4" fill="#6f7080" opacity="0.8"/>
<rect x="26.5" y="3.3" width="3.0" height="1.7" fill="#6f7080" opacity="0.8"/>
<rect x="77.5" y="2.8" width="2.4" height="2.2" fill="#b0a8a0" opacity="0.8"/>
<rect x="25.8" y="2.6" width="2.7" height="2.4" fill="#9a9aa6" opacity="0.8"/>
<rect x="12.8" y="2.2" width="1.5" height="2.8" fill="#c8c0b4" opacity="0.8"/>
<rect x="169.1" y="2.4" width="1.2" height="2.6" fill="#c8c0b4" opacity="0.8"/>
<rect x="141.4" y="1.7" width="1.5" height="3.3" fill="#c8c0b4" opacity="0.8"/>
<rect x="70.0" y="2.6" width="1.9" height="2.4" fill="#b0a8a0" opacity="0.8"/>
<rect x="54.4" y="3.0" width="2.2" height="2.0" fill="#6f7080" opacity="0.8"/>
<rect x="27.2" y="1.5" width="2.8" height="3.5" fill="#6f7080" opacity="0.8"/>
<rect x="84.1" y="2.0" width="2.4" height="3.0" fill="#9a9aa6" opacity="0.8"/>
<rect x="97.7" y="1.5" width="1.8" height="3.5" fill="#6f7080" opacity="0.8"/>
<rect y="5" width="171" height="7" fill="#dcd4ba" filter="url(#ftrt)"/>
<rect y="10" width="171" height="2.5" fill="#c2c9a2" opacity="0.8"/>
<rect y="12" width="171" height="146" fill="url(#trg)" filter="url(#ftr)"/>
<rect y="13" width="171" height="145" fill="url(#trm)" filter="url(#strd)"/>
<rect y="12" width="171" height="146" fill="url(#trm)" filter="url(#strl)"/>
<rect y="11.5" width="171" height="14" fill="url(#trhz)"/>
<path d="M28 45Q28 40 27 42M59 44Q60 38 61 41M148 52Q148 48 149 49M148 52Q148 48 150 50M8 24Q8 22 7 23M166 36Q167 33 168 34M172 27Q172 23 170 25M174 26Q173 24 171 25M119 23Q119 21 121 22M119 23Q119 20 119 21M36 27Q35 22 33 24" stroke="#2c5220" stroke-width="1" stroke-opacity="0.4" fill="none" stroke-linecap="round"/><path d="M28 45Q29 43 31 44M27 30Q27 26 28 28M61 42Q61 37 61 39M61 42Q61 38 59 40M59 44Q59 39 58 41M134 48Q136 43 140 46M46 34Q48 30 50 32M58 46Q57 39 55 42M105 22Q104 19 104 21M44 25Q44 21 43 22M14 69Q16 61 19 65M172 27Q171 24 168 26M24 69Q26 66 30 68M37 25Q37 24 39 25M2 31Q2 29 3 30M48 39Q48 34 47 36" stroke="#2c5220" stroke-width="1" stroke-opacity="0.6" fill="none" stroke-linecap="round"/><path d="M28 45Q29 39 31 42M151 78Q148 72 143 76M-3 99Q-3 90 -5 93M-1 105Q2 101 7 104M66 112Q63 106 57 110M131 108Q127 101 118 106M23 65Q21 60 17 63M82 68Q80 58 75 63M162 65Q163 60 165 62M43 103Q41 89 37 95M87 101Q89 89 93 94M56 37Q56 34 56 35M8 37Q8 32 8 34M95 106Q94 94 94 99M24 90Q22 78 17 83M151 39Q152 36 153 38M58 46Q56 41 52 44M2 90Q1 80 0 84M93 82Q92 68 90 73M140 99Q141 93 143 95M123 89Q126 82 131 86M89 100Q92 94 97 98M6 38Q8 34 11 37M26 61Q25 53 24 56M119 84Q121 76 123 80M164 35Q163 32 161 34M110 50Q109 41 107 44M110 50Q109 43 108 46M95 113Q97 99 102 105M127 76Q127 70 125 72M55 49Q54 45 53 46M53 72Q50 69 46 72M48 78Q49 69 50 73M172 69Q172 60 173 63M172 69Q170 60 167 64M152 33Q151 30 149 32M13 80Q12 77 9 79M132 66Q132 58 132 61" stroke="#36602a" stroke-width="1.5" stroke-opacity="0.6" fill="none" stroke-linecap="round"/><path d="M25 128Q25 119 25 123M151 78Q148 69 144 73M151 78Q149 69 147 73M0 117Q-0 109 -1 112M-3 99Q-0 92 3 95M126 109Q126 100 125 103M46 134Q49 127 54 131M87 101Q89 85 92 91M61 75Q59 69 56 72M124 157Q121 144 115 150M70 115Q74 109 81 114M152 138Q149 125 144 130M89 100Q88 90 86 94M107 117Q108 100 109 106M40 78Q39 72 37 74M33 145Q38 132 47 140M4 125Q9 115 17 122M63 134Q62 115 60 122M48 114Q46 99 44 105M50 103Q53 95 57 99M120 103Q117 92 111 98M5 126Q2 119 -3 123M-0 90Q2 79 7 84M168 91Q167 84 164 87" stroke="#2c5220" stroke-width="2" stroke-opacity="0.4" fill="none" stroke-linecap="round"/><path d="M25 128Q22 122 16 126M142 163Q144 149 149 155M116 111Q112 105 106 109M59 110Q60 100 62 104M87 153Q87 133 86 141M5 118Q5 104 3 110M39 162Q37 138 33 147M166 108Q167 103 169 105M148 155Q148 144 148 148M60 121Q64 112 71 117" stroke="#36602a" stroke-width="3" stroke-opacity="0.4" fill="none" stroke-linecap="round"/><path d="M25 128Q23 118 20 122M0 117Q-2 110 -5 114M-1 105Q-3 100 -6 103M66 112Q62 105 57 110M66 112Q69 106 74 110M131 108Q128 96 123 102M85 150Q83 138 79 143M152 150Q151 130 149 138M130 82Q131 75 131 78M95 106Q95 98 95 101M2 90Q-0 82 -5 86M70 115Q73 107 77 111M7 101Q10 93 16 97M38 135Q36 114 33 122M131 130Q136 120 146 127M80 134Q75 124 65 131M99 147Q94 130 86 138M23 89Q25 80 29 84M4 125Q2 117 -2 120M11 88Q11 81 12 84M48 114Q50 106 53 110M39 162Q32 150 22 158M35 97Q37 90 41 93M35 97Q34 88 33 92M157 139Q156 127 154 132M166 108Q166 101 164 104M3 159Q1 148 -2 153M50 112Q49 102 47 106M95 147Q99 138 105 143M168 91Q168 82 168 86M74 145Q69 135 60 142M33 126Q38 119 49 125M72 113Q75 104 81 109M72 113Q76 106 81 111M72 113Q71 100 69 105" stroke="#2c5220" stroke-width="2.5" stroke-opacity="0.6" fill="none" stroke-linecap="round"/><path d="M27 30Q28 28 30 30M111 28Q112 25 112 26M151 39Q151 36 152 37M84 24Q83 21 83 22M84 24Q83 20 83 22M105 22Q104 19 104 20M172 27Q172 24 170 25M24 69Q23 62 20 65M174 26Q175 23 176 24M174 26Q175 24 176 25M164 35Q165 32 168 34M46 43Q47 41 50 42M2 31Q1 29 -0 30M88 68Q87 60 86 63M33 60Q33 55 32 57" stroke="#36602a" stroke-width="1" stroke-opacity="0.4" fill="none" stroke-linecap="round"/><path d="M61 42Q60 40 57 42M173 44Q173 39 171 41M173 44Q173 40 173 42M115 110Q112 100 108 105M148 52Q149 49 152 52M23 65Q21 62 18 64M5 124Q4 107 3 113M134 48Q135 39 136 43M56 37Q56 33 55 35M56 37Q57 33 58 35M171 58Q173 53 175 55M171 58Q174 54 178 57M61 83Q61 76 62 79M140 99Q137 93 132 96M107 117Q103 109 95 114M29 97Q31 89 35 93M14 69Q11 62 6 66M76 66Q78 62 82 65M119 84Q119 77 118 79M35 97Q38 89 42 93M157 81Q159 76 163 79M14 76Q16 70 18 73M152 33Q153 29 156 31M132 66Q131 62 128 64M48 39Q48 33 49 35" stroke="#36602a" stroke-width="1.5" stroke-opacity="0.4" fill="none" stroke-linecap="round"/><path d="M69 160Q64 147 54 154M69 160Q64 151 55 157M0 117Q2 107 5 111M59 110Q63 104 70 109M127 165Q131 159 139 164M127 165Q121 155 109 163M66 112Q65 102 65 106M26 161Q30 150 37 156M5 124Q5 111 5 116M89 125Q88 116 86 120M87 101Q86 84 84 91M-0 116Q-2 109 -6 112M156 121Q154 115 150 119M17 108Q19 104 22 107M123 89Q126 81 132 85M53 96Q56 91 61 95M99 147Q103 135 110 141M63 134Q64 122 65 126M39 162Q45 151 57 159M34 136Q32 119 29 126M166 108Q168 100 171 104M3 159Q6 148 12 154M29 155Q29 139 29 145M58 161Q62 153 69 158M140 135Q143 124 148 129M15 128Q13 111 10 118M94 141Q91 129 87 134M74 145Q79 131 87 139M143 130Q140 121 135 126M97 161Q100 149 104 154" stroke="#36602a" stroke-width="2.5" stroke-opacity="0.6" fill="none" stroke-linecap="round"/><path d="M54 92Q52 84 47 88M54 92Q54 83 54 86M173 44Q172 42 169 44M59 44Q59 40 59 41M148 52Q148 48 148 50M134 48Q135 42 137 44M102 91Q103 79 105 84M61 75Q61 68 61 71M56 37Q57 32 58 34M111 28Q111 25 109 26M8 37Q9 34 9 35M46 34Q46 31 45 32M95 106Q92 99 87 103M24 90Q23 79 21 83M58 46Q59 41 62 43M38 99Q38 82 38 89M123 89Q122 82 120 85M14 69Q12 60 9 64M26 61Q27 56 28 58M26 61Q25 54 23 57M11 88Q12 82 15 85M50 103Q50 93 51 97M110 50Q110 44 112 46M24 81Q24 74 25 77M127 76Q129 73 132 75M123 123Q126 114 130 119M14 76Q16 67 19 71M88 68Q87 62 86 64M33 60Q35 54 37 57M8 32Q9 31 10 32M8 32Q8 29 7 30M48 39Q49 35 50 37" stroke="#2c5220" stroke-width="1.5" stroke-opacity="0.6" fill="none" stroke-linecap="round"/><path d="M151 78Q148 71 144 75M108 131Q111 116 116 122M59 110Q56 99 52 104M115 110Q117 99 121 104M115 110Q117 101 121 105M131 108Q129 97 124 102M85 150Q88 134 94 141M162 65Q163 60 165 62M5 118Q6 107 8 111M5 118Q1 112 -5 117M24 90Q21 81 15 86M99 79Q101 74 104 76M152 96Q154 91 156 93M174 89Q177 80 181 84M2 90Q3 82 5 86M93 82Q92 73 92 76M70 115Q68 107 65 111M28 75Q31 71 35 74M40 78Q38 73 34 76M40 78Q38 74 34 76M99 147Q101 131 106 138M119 84Q121 78 125 81M27 77Q24 70 19 74M56 74Q55 69 52 72M56 74Q59 65 62 69M56 74Q57 66 59 69M35 97Q32 85 27 90M92 70Q92 62 93 65M92 70Q93 64 96 67M95 113Q97 105 101 109M148 155Q151 139 155 146M127 76Q126 70 124 73M85 108Q85 99 85 102M30 75Q32 64 36 69M158 138Q156 117 153 125M53 72Q53 64 54 68M50 112Q51 102 53 106M50 112Q51 105 54 108M123 123Q119 116 111 121M130 108Q130 96 131 101M157 81Q158 77 160 79M15 128Q20 118 30 124M21 134Q23 123 25 127M94 141Q99 131 109 138M14 76Q15 66 15 70M13 80Q12 76 12 78M132 66Q131 62 127 65M33 126Q37 118 44 123" stroke="#36602a" stroke-width="2" stroke-opacity="0.6" fill="none" stroke-linecap="round"/><path d="M142 163Q144 149 147 154M124 157Q125 143 127 148M109 153Q106 138 102 144M3 159Q4 141 5 148M62 162Q65 143 71 151M74 145Q68 136 57 143M97 161Q101 153 107 158" stroke="#2c5220" stroke-width="3.5" stroke-opacity="0.6" fill="none" stroke-linecap="round"/><path d="M142 163Q147 147 155 155M108 131Q104 116 96 123M174 153Q181 142 194 151M26 161Q25 150 23 155M152 150Q152 130 152 138M46 134Q43 130 38 133M89 125Q93 117 98 122M87 153Q87 136 86 143M99 147Q95 137 88 143M134 142Q129 134 121 140M157 139Q155 128 152 133M158 137Q157 123 156 128M158 137Q158 122 158 128M158 137Q157 119 155 126M58 161Q64 152 74 159M158 138Q154 121 149 128M140 135Q143 126 150 131M5 126Q6 111 7 117M15 128Q20 122 27 127M15 128Q13 110 10 117M88 157Q87 147 86 151" stroke="#2c5220" stroke-width="3" stroke-opacity="0.6" fill="none" stroke-linecap="round"/><path d="M108 131Q110 113 113 120M174 153Q174 128 175 138M46 134Q42 128 36 133M5 118Q7 103 11 109M70 115Q74 107 80 112M30 110Q30 96 29 102M38 135Q44 126 55 133M168 120Q169 105 172 111M149 112Q151 100 153 104M95 147Q93 138 89 143M21 134Q22 125 24 128" stroke="#2c5220" stroke-width="3" stroke-opacity="0.4" fill="none" stroke-linecap="round"/><path d="M108 131Q104 123 97 128M85 150Q85 137 85 142M66 126Q63 122 57 126M152 138Q155 132 161 136M131 130Q134 123 140 127M4 125Q-1 118 -9 124M63 134Q60 120 55 126M34 136Q30 128 22 134M58 161Q55 152 50 157M149 112Q149 99 148 104M5 126Q2 122 -4 126M94 141Q91 126 85 133M74 145Q73 132 71 137" stroke="#36602a" stroke-width="3" stroke-opacity="0.6" fill="none" stroke-linecap="round"/><path d="M173 44Q173 40 172 42M23 65Q24 59 26 61M82 68Q84 60 88 64M111 28Q113 25 115 27M111 28Q113 25 115 27M8 37Q10 35 11 36M8 37Q10 34 12 36M46 34Q47 30 49 32M151 39Q149 37 147 38M8 24Q7 23 6 24M166 36Q165 33 162 35M166 36Q167 34 168 35M166 36Q166 33 167 34M172 27Q172 24 171 25M24 69Q23 63 21 66M37 25Q36 22 36 23M110 50Q110 42 111 45M117 29Q116 27 115 28M117 29Q117 26 119 28M117 29Q117 26 116 27M46 43Q45 39 43 41M46 43Q48 40 51 42M119 23Q119 19 120 21M2 31Q3 29 3 30M36 27Q37 24 39 26M36 27Q36 23 38 25M36 27Q36 23 37 25M8 32Q9 29 11 31M65 39Q64 34 61 37M65 39Q65 34 65 36" stroke="#36602a" stroke-width="1" stroke-opacity="0.6" fill="none" stroke-linecap="round"/><path d="M116 111Q116 104 116 107M126 109Q125 93 122 99M20 133Q22 121 25 126M24 90Q25 81 27 85M140 99Q143 93 148 97M30 110Q28 102 25 106M107 117Q108 99 109 106M7 101Q5 88 1 93M45 106Q43 101 39 104M45 106Q43 103 40 106M50 103Q52 94 55 98M168 120Q171 104 176 111M140 135Q141 122 143 127M62 162Q59 148 55 154M5 126Q7 114 10 119M50 112Q51 106 53 108M130 108Q131 98 133 102M94 141Q95 125 96 131M33 126Q37 117 46 123" stroke="#36602a" stroke-width="2.5" stroke-opacity="0.4" fill="none" stroke-linecap="round"/><path d="M-3 99Q-4 94 -8 97M23 65Q24 62 27 64M134 48Q136 43 141 47M102 91Q102 79 102 83M99 79Q96 71 91 76M152 96Q154 92 158 94M62 105Q62 92 63 97M6 38Q7 35 9 36M28 75Q30 65 32 69M7 101Q9 91 14 96M26 61Q27 54 28 56M76 66Q76 55 77 59M168 120Q164 104 158 111M92 70Q90 66 86 68M166 108Q168 101 172 104M127 76Q128 68 130 71M55 49Q56 45 57 47M85 108Q83 102 80 105M130 108Q131 100 132 103M157 81Q158 76 162 79M48 78Q50 71 52 74M33 60Q33 56 33 57M8 32Q7 31 6 32" stroke="#2c5220" stroke-width="1.5" stroke-opacity="0.4" fill="none" stroke-linecap="round"/><path d="M-1 105Q-0 96 1 100M20 133Q23 124 29 128M157 129Q154 119 147 124M66 126Q70 119 76 123M87 101Q85 90 80 95M152 96Q150 90 146 93M-0 116Q-2 108 -6 112M109 153Q107 133 103 141M156 121Q155 112 153 116M17 108Q19 98 22 103M89 100Q90 92 91 95M131 130Q132 116 133 121M53 96Q55 88 59 92M27 77Q28 67 30 71M168 120Q167 101 166 109M24 81Q25 77 27 79M149 112Q151 107 155 110M168 91Q170 84 172 87M172 69Q170 64 166 67" stroke="#36602a" stroke-width="2" stroke-opacity="0.4" fill="none" stroke-linecap="round"/><path d="M-1 105Q-3 101 -6 104M126 109Q123 98 117 104M126 109Q130 96 135 102M131 108Q133 97 135 101M157 129Q161 123 168 128M82 68Q79 61 75 65M82 68Q79 59 75 63M66 126Q64 114 61 119M43 103Q44 89 45 94M130 82Q130 75 130 78M61 75Q59 70 55 73M95 106Q96 98 98 101M99 79Q98 70 96 74M174 89Q172 81 167 85M156 121Q154 112 151 116M61 83Q62 74 64 78M61 83Q62 79 65 81M31 114Q27 109 20 113M31 114Q33 106 36 110M50 159Q55 152 63 157M62 105Q60 97 57 100M28 75Q26 69 21 72M29 97Q30 86 32 90M38 135Q34 119 26 127M76 66Q74 58 71 61M80 134Q76 120 69 127M80 134Q82 124 85 128M23 89Q22 79 20 83M45 106Q45 99 45 102M4 125Q4 113 6 118M48 114Q44 107 37 112M39 162Q35 139 28 148M50 103Q46 98 40 102M24 81Q23 76 23 78M92 123Q89 111 83 117M30 75Q28 70 25 72M30 75Q32 70 36 73M140 135Q139 125 138 129M130 108Q127 102 123 106M157 81Q159 74 162 77M-0 90Q3 83 8 87M143 130Q144 116 146 122M88 68Q87 61 84 64M97 161Q97 145 97 151M72 113Q75 106 79 109" stroke="#2c5220" stroke-width="2" stroke-opacity="0.6" fill="none" stroke-linecap="round"/><path d="M127 165Q121 156 111 163M50 159Q47 139 43 147M134 142Q135 122 137 129M157 139Q154 125 148 131M158 137Q157 122 154 128M3 159Q3 144 4 150" stroke="#36602a" stroke-width="3.5" stroke-opacity="0.6" fill="none" stroke-linecap="round"/><path d="M85 150Q85 134 85 140M33 145Q32 124 32 132M29 155Q32 144 37 149M86 155Q83 139 77 146" stroke="#36602a" stroke-width="3.5" stroke-opacity="0.4" fill="none" stroke-linecap="round"/><path d="M-0 116Q-1 106 -2 110M2 90Q5 84 11 88M38 99Q34 91 27 96M123 89Q125 81 130 85M89 100Q91 95 93 97M29 97Q29 85 29 90M38 135Q42 118 49 126M80 134Q76 124 71 129M63 134Q63 122 64 126M34 136Q37 126 44 131M120 103Q122 90 126 96M92 123Q88 112 82 118M86 155Q82 145 75 151M60 121Q56 108 48 115M-0 90Q1 83 3 86M88 157Q86 149 81 153M97 161Q100 152 106 157" stroke="#2c5220" stroke-width="2.5" stroke-opacity="0.4" fill="none" stroke-linecap="round"/><path d="M44 25Q45 22 47 24" stroke="#2c5220" stroke-width="0.5" stroke-opacity="0.4" fill="none" stroke-linecap="round"/><path d="M117 29Q116 27 115 28" stroke="#36602a" stroke-width="0.5" stroke-opacity="0.6" fill="none" stroke-linecap="round"/><path d="M119 23Q118 19 118 20" stroke="#2c5220" stroke-width="0.5" stroke-opacity="0.6" fill="none" stroke-linecap="round"/><path d="M86 155Q89 137 94 144" stroke="#2c5220" stroke-width="3.5" stroke-opacity="0.4" fill="none" stroke-linecap="round"/>
<path d="M113 88Q116 83 123 87M79 84Q78 77 77 80M5 64Q3 58 0 61M161 109Q159 94 156 100M143 70Q142 63 139 66M154 81Q152 76 148 79M56 78Q58 75 61 77M95 93Q97 85 99 88M21 99Q20 91 17 95M75 109Q73 98 69 103M1 108Q-2 103 -8 108M14 95Q13 87 10 91M135 105Q139 95 146 101M135 105Q138 96 144 101M113 98Q115 93 118 96M127 137Q126 125 124 130M48 164Q43 142 35 152M86 92Q83 83 77 88M51 114Q51 103 51 107" stroke="#c2da92" stroke-width="1.5" stroke-opacity="0.6" fill="none" stroke-linecap="round"/><path d="M113 88Q111 80 108 84M113 88Q116 79 121 84M79 84Q78 75 74 79M65 103Q62 90 57 96M5 64Q7 60 10 62M159 139Q159 125 160 131M162 135Q163 127 167 130M132 77Q130 73 126 76M1 94Q3 85 7 89M1 94Q-2 88 -7 92M110 138Q110 127 112 131M110 113Q110 104 112 108M88 137Q87 121 86 127M132 67Q133 64 135 65M160 56Q160 47 160 50M1 108Q-1 97 -6 102M106 127Q109 122 114 125M38 101Q38 87 38 93M38 101Q39 91 42 95M62 49Q61 43 59 45M49 136Q47 123 43 129M53 126Q58 111 67 118M135 105Q135 97 136 100M-0 68Q-2 64 -5 66M62 119Q65 115 70 118M132 96Q135 92 140 96M109 77Q110 72 112 74M100 82Q98 76 96 79" stroke="#95be5e" stroke-width="1.5" stroke-opacity="0.8" fill="none" stroke-linecap="round"/><path d="M113 88Q112 80 111 83M75 60Q72 55 65 59M132 67Q133 62 134 64M96 90Q96 81 96 84M56 76Q52 69 45 74M100 100Q97 94 91 98M-3 74Q-6 70 -10 73M39 124Q37 119 32 123M172 127Q169 121 163 125M43 88Q41 83 37 86M91 124Q90 113 88 117M99 52Q99 48 100 49M166 79Q164 72 161 75M166 79Q167 68 168 72" stroke="#b4d27e" stroke-width="1.5" stroke-opacity="0.6" fill="none" stroke-linecap="round"/><path d="M79 84Q80 75 80 78M31 72Q31 63 31 66M161 109Q158 102 153 106M12 70Q14 62 17 65M73 56Q74 52 76 54M45 71Q44 63 42 66M35 83Q35 77 36 79M26 88Q26 80 26 83M86 56Q85 48 85 51M55 73Q54 68 53 70M22 63Q22 57 22 59M43 88Q40 84 34 87M43 88Q40 82 35 86M23 128Q27 120 34 125M54 72Q55 62 56 66M53 126Q55 113 57 118M115 101Q113 96 110 98M48 134Q44 127 37 132M172 127Q176 115 183 121" stroke="#86b250" stroke-width="1.5" stroke-opacity="0.8" fill="none" stroke-linecap="round"/><path d="M79 84Q82 75 86 79M132 85Q131 78 130 81M22 71Q21 66 17 69M162 135Q158 129 151 134M51 92Q49 87 46 90M132 77Q130 73 126 76M73 56Q71 53 70 55M133 126Q136 117 141 121M-2 98Q1 92 6 96M-2 98Q-0 93 3 95M101 88Q104 82 110 86M3 93Q4 80 6 85M60 164Q64 153 72 159M169 95Q167 88 164 91M160 83Q157 78 151 81M37 90Q35 83 30 86M37 90Q33 84 26 89M97 102Q93 94 86 99M28 140Q25 131 19 136M113 148Q112 138 112 142" stroke="#b4d27e" stroke-width="1.5" stroke-opacity="0.8" fill="none" stroke-linecap="round"/><path d="M75 60Q76 54 78 57M150 51Q151 48 154 50M135 101Q139 94 146 99M1 143Q4 131 10 137M159 139Q154 129 144 136M159 127Q155 118 148 123M110 138Q114 127 123 134M68 78Q69 72 70 75M35 83Q33 79 30 82M120 79Q121 75 124 77M73 136Q76 130 81 134M35 73Q33 69 29 72M160 56Q161 50 163 53M16 143Q15 135 13 138M96 90Q92 84 85 89M163 72Q161 67 158 69M35 149Q38 132 44 140M107 90Q109 86 114 89M160 83Q161 75 162 78M106 122Q104 112 100 116M13 102Q11 96 6 100M92 58Q93 50 95 54M100 82Q103 77 109 81" stroke="#c2da92" stroke-width="1.5" stroke-opacity="0.8" fill="none" stroke-linecap="round"/><path d="M75 60Q76 52 76 55M65 103Q70 94 77 99M44 131Q39 124 32 129M22 71Q24 64 27 68M130 139Q129 121 128 128M130 138Q128 121 124 128M98 136Q95 121 90 127M8 113Q7 96 4 103M169 95Q171 90 175 93M38 101Q35 91 29 96M160 83Q162 77 167 80M4 125Q-0 117 -8 123M170 94Q172 87 175 90M132 76Q132 67 131 71M109 77Q110 68 110 71M51 114Q53 107 56 110M87 127Q86 112 85 118" stroke="#a6c86c" stroke-width="1.5" stroke-opacity="0.6" fill="none" stroke-linecap="round"/><path d="M75 60Q72 54 67 58M150 51Q151 47 155 50M116 88Q115 78 113 82M125 85Q125 79 125 81M82 25Q81 23 79 24M2 54Q1 50 -0 52M168 59Q170 51 173 55M60 38Q60 34 59 35M34 61Q33 56 32 58M89 72Q91 67 94 70M69 91Q67 87 63 89M82 47Q80 45 77 47M21 38Q21 35 22 36M37 90Q38 82 41 85M41 63Q41 56 42 58M162 42Q163 38 165 40M166 39Q166 34 166 36" stroke="#a6c86c" stroke-width="1" stroke-opacity="0.6" fill="none" stroke-linecap="round"/><path d="M129 21Q130 17 132 19M5 27Q5 24 4 25M165 15Q164 14 163 15M126 27Q127 26 128 27M119 18Q120 16 120 17M88 40Q89 39 90 40" stroke="#95be5e" stroke-width="0.5" stroke-opacity="0.6" fill="none" stroke-linecap="round"/><path d="M129 21Q128 18 128 19M129 21Q130 19 131 20M31 72Q30 65 29 67M63 61Q61 58 58 61M165 64Q163 60 160 63M22 71Q22 65 22 68M153 86Q155 80 159 84M18 17Q19 15 21 17M165 15Q164 13 163 14M126 27Q127 24 128 26M126 27Q126 24 126 25M12 70Q10 65 6 68M56 78Q55 72 52 75M56 78Q55 73 53 76M41 26Q41 23 41 24M17 34Q18 28 19 30M125 85Q127 80 132 83M68 40Q70 38 73 40M86 56Q88 52 92 55M75 49Q76 42 77 45M34 61Q33 56 31 58M-3 74Q-4 67 -4 70M2 24Q2 20 2 21M21 38Q21 35 22 37M112 77Q113 71 114 74M123 57Q122 55 120 56M162 42Q162 39 161 40M166 39Q166 36 165 37M13 102Q16 95 22 99M166 79Q164 72 160 76" stroke="#c2da92" stroke-width="1" stroke-opacity="0.8" fill="none" stroke-linecap="round"/><path d="M129 21Q129 16 129 18M70 18Q70 16 71 17M83 42Q81 40 78 42M62 34Q62 31 62 32M135 31Q136 29 138 31M34 23Q33 19 32 21" stroke="#b4d27e" stroke-width="0.5" stroke-opacity="0.6" fill="none" stroke-linecap="round"/><path d="M5 149Q2 137 -5 143M96 156Q100 149 109 155" stroke="#95be5e" stroke-width="2.5" stroke-opacity="1" fill="none" stroke-linecap="round"/><path d="M5 149Q3 141 0 144M98 136Q94 128 87 133M148 161Q147 148 145 153M59 143Q62 136 66 140M16 124Q11 116 1 123M22 127Q20 123 15 126M154 123Q155 105 157 112" stroke="#c2da92" stroke-width="2.5" stroke-opacity="0.6" fill="none" stroke-linecap="round"/><path d="M5 149Q4 141 2 144M31 72Q29 65 26 68M102 107Q100 99 97 103M132 85Q132 78 131 81M86 72Q87 66 90 69M118 121Q119 113 122 116M20 95Q21 82 23 87M21 99Q18 90 12 95M156 146Q160 133 167 140M65 127Q67 116 69 121M62 119Q60 112 56 115" stroke="#86b250" stroke-width="1.5" stroke-opacity="0.6" fill="none" stroke-linecap="round"/><path d="M5 149Q3 142 -0 146M44 146Q40 141 35 145M4 125Q-0 119 -8 124M96 156Q95 141 93 147" stroke="#95be5e" stroke-width="2.5" stroke-opacity="0.8" fill="none" stroke-linecap="round"/><path d="M150 51Q152 48 155 51M5 27Q7 23 9 25M-1 49Q0 45 2 47M167 54Q166 49 165 51M167 54Q169 50 174 53M9 36Q10 30 12 32M41 26Q41 23 42 24M51 37Q52 33 54 35M156 36Q156 34 154 35M-4 24Q-4 21 -3 22M118 45Q117 41 115 43M138 55Q137 50 134 53M41 63Q39 57 37 60M122 28Q121 24 121 25M74 80Q75 71 78 75M132 76Q134 70 138 74" stroke="#86b250" stroke-width="1" stroke-opacity="0.6" fill="none" stroke-linecap="round"/><path d="M135 101Q131 95 123 100M5 64Q3 61 -0 63M154 81Q154 74 153 77M110 113Q110 99 112 105M125 85Q123 79 118 82M132 67Q134 64 138 66M98 136Q96 122 92 128M101 88Q100 77 98 81M94 109Q99 100 106 105M82 146Q78 138 71 143M3 93Q5 83 9 87M8 113Q10 99 13 105M153 146Q154 129 154 136M172 127Q174 123 177 125M162 120Q165 111 170 115M53 126Q54 111 56 117M113 98Q113 91 112 94M152 61Q151 55 150 58M141 116Q143 107 148 112M141 116Q138 112 133 115" stroke="#95be5e" stroke-width="1.5" stroke-opacity="0.6" fill="none" stroke-linecap="round"/><path d="M92 76Q91 71 89 73M31 72Q33 68 36 71M159 139Q157 120 154 128M6 106Q2 99 -5 104M6 106Q6 94 6 98M109 144Q111 134 114 138M35 83Q36 74 38 78M132 67Q129 64 125 66M168 59Q165 55 161 58M94 109Q98 100 105 105M163 72Q163 65 163 68M1 108Q4 103 9 106M70 115Q66 99 59 107M108 149Q103 139 95 146M39 124Q38 111 35 116M55 73Q56 69 58 71M142 53Q140 47 136 51M142 53Q143 45 145 48M48 75Q49 68 51 71M135 105Q130 99 123 104M152 61Q150 58 146 60M133 163Q134 141 135 150M154 123Q155 109 158 115M166 79Q168 69 172 74M113 148Q112 139 109 143" stroke="#a6c86c" stroke-width="1.5" stroke-opacity="0.8" fill="none" stroke-linecap="round"/><path d="M92 76Q92 69 92 72M83 42Q82 40 79 41M9 36Q9 32 11 33M61 27Q62 24 63 26M88 40Q89 38 90 40M142 53Q141 46 138 49M41 63Q39 55 35 58" stroke="#b4d27e" stroke-width="1" stroke-opacity="1" fill="none" stroke-linecap="round"/><path d="M92 76Q91 70 91 72M132 85Q132 73 131 78M86 72Q84 64 81 68M81 42Q79 39 76 42M174 16Q173 13 173 14M18 17Q18 15 17 16M41 26Q40 24 38 25M61 27Q60 24 57 25M156 36Q157 34 158 35M89 72Q86 68 82 71M89 72Q91 68 96 71M148 38Q149 35 151 36M54 72Q56 66 60 69M132 76Q133 65 134 69M92 58Q90 51 87 54" stroke="#b4d27e" stroke-width="1" stroke-opacity="0.8" fill="none" stroke-linecap="round"/><path d="M5 27Q6 22 6 24M83 42Q82 37 80 39M174 16Q174 14 175 15M79 24Q80 22 81 23M28 36Q27 32 26 34M28 36Q29 32 31 34M132 21Q132 18 132 19M135 31Q137 29 140 31" stroke="#86b250" stroke-width="0.5" stroke-opacity="0.8" fill="none" stroke-linecap="round"/><path d="M5 27Q5 21 4 23M137 37Q139 32 141 34M36 26Q36 23 35 24" stroke="#86b250" stroke-width="0.5" stroke-opacity="0.6" fill="none" stroke-linecap="round"/><path d="M75 43Q76 40 78 42M116 88Q118 76 121 81M83 42Q81 40 78 42M81 42Q80 38 79 39M139 58Q139 49 138 52M12 70Q11 63 8 66M95 93Q97 88 99 90M17 34Q16 31 14 33M34 61Q32 56 30 59M121 33Q123 30 126 32M89 72Q91 67 95 70M82 47Q83 43 86 45M40 30Q40 25 41 27M107 90Q104 84 99 88M115 101Q117 95 121 98M172 52Q174 49 177 51M171 50Q173 46 177 48" stroke="#b4d27e" stroke-width="1" stroke-opacity="0.6" fill="none" stroke-linecap="round"/><path d="M75 43Q76 41 77 42M63 61Q62 54 59 57M161 109Q159 99 156 104M165 64Q165 59 166 61M160 63Q162 61 164 63M52 30Q53 25 55 27M52 30Q52 27 53 28M82 25Q80 22 78 24M168 59Q170 53 173 56M160 56Q162 51 167 54M68 40Q68 36 69 38M75 49Q78 45 82 48M13 65Q11 58 8 61M3 93Q1 84 -3 88M55 73Q56 69 58 71M22 63Q22 54 23 57M21 38Q21 34 21 35M43 88Q41 78 36 83M41 63Q39 55 37 58M172 52Q171 45 169 48M171 50Q172 47 174 49M171 50Q170 44 167 47M-0 68Q0 63 1 65M34 23Q35 19 35 20M92 58Q93 51 96 55" stroke="#a6c86c" stroke-width="1" stroke-opacity="0.8" fill="none" stroke-linecap="round"/><path d="M75 43Q74 39 74 41M132 85Q131 79 127 82M165 64Q165 60 165 62M154 81Q153 74 151 77M52 30Q51 25 49 27M167 54Q166 49 163 51M125 85Q125 79 124 81M3 24Q4 22 5 23M62 34Q63 31 64 32M75 49Q74 43 71 46M13 65Q13 57 13 60M121 33Q121 29 121 30M38 101Q39 91 41 95M62 49Q64 42 67 45M123 57Q125 54 127 56M43 56Q44 51 46 53" stroke="#95be5e" stroke-width="1" stroke-opacity="0.6" fill="none" stroke-linecap="round"/><path d="M172 119Q169 109 165 114M54 136Q53 127 50 131M130 139Q125 129 118 135M120 79Q119 75 117 77M6 124Q6 112 5 117M2 54Q4 49 7 52M82 146Q84 130 88 136M3 93Q2 84 -0 88M8 113Q9 97 10 103M162 120Q163 108 163 112" stroke="#b4d27e" stroke-width="1.5" stroke-opacity="1" fill="none" stroke-linecap="round"/><path d="M172 119Q173 104 174 110M44 146Q45 132 47 138M135 119Q132 112 128 116M20 95Q17 87 10 92M92 105Q95 93 100 99M84 148Q88 138 95 144M75 109Q75 99 76 103M70 115Q69 99 66 105M39 124Q42 113 47 118M39 144Q40 133 43 137M23 128Q26 117 30 122M9 163Q7 149 3 155M20 109Q23 99 29 104M106 122Q111 112 121 119M127 137Q130 130 135 134M97 102Q100 96 104 100M56 154Q54 131 50 140" stroke="#a6c86c" stroke-width="2" stroke-opacity="0.8" fill="none" stroke-linecap="round"/><path d="M172 119Q170 108 168 113M1 143Q5 128 12 135M-2 154Q-2 138 -4 144M59 143Q62 135 68 140M100 100Q99 91 97 95M118 143Q122 136 128 141M105 153Q108 132 114 141M97 102Q101 95 108 100M67 112Q67 104 66 107" stroke="#86b250" stroke-width="2" stroke-opacity="0.6" fill="none" stroke-linecap="round"/><path d="M172 119Q174 112 177 115M8 113Q5 106 -2 110M22 127Q24 122 28 125M127 137Q128 119 130 126M67 112Q67 103 68 107M51 114Q49 106 46 110" stroke="#a6c86c" stroke-width="2" stroke-opacity="0.6" fill="none" stroke-linecap="round"/><path d="M54 136Q52 131 49 134M98 148Q94 137 87 143M124 154Q121 140 114 146M16 143Q19 133 23 138M133 126Q136 117 141 122M63 149Q62 134 59 140M170 143Q165 129 156 136M69 91Q71 87 73 89M37 90Q34 85 29 89M67 112Q62 105 54 111M170 94Q168 86 165 89M56 154Q61 141 71 148M113 148Q112 132 111 138" stroke="#c2da92" stroke-width="2" stroke-opacity="0.6" fill="none" stroke-linecap="round"/><path d="M21 117Q18 111 11 116M44 146Q47 140 52 144M102 107Q105 101 110 105M49 90Q48 82 46 85M6 124Q4 114 1 118M156 146Q160 129 168 137M16 143Q14 135 9 139M133 126Q130 113 126 118M94 109Q91 102 86 106M113 98Q110 92 104 96M20 109Q20 95 20 101M87 127Q82 115 73 122" stroke="#95be5e" stroke-width="2" stroke-opacity="0.8" fill="none" stroke-linecap="round"/><path d="M21 117Q23 105 27 110M48 164Q48 149 47 155" stroke="#86b250" stroke-width="2" stroke-opacity="1" fill="none" stroke-linecap="round"/><path d="M152 115Q154 105 157 109M139 58Q141 51 145 54M68 78Q68 72 69 74M96 90Q100 83 106 88M94 109Q92 100 88 104M132 124Q132 113 132 117M80 163Q85 151 93 158" stroke="#86b250" stroke-width="1.5" stroke-opacity="1" fill="none" stroke-linecap="round"/><path d="M152 115Q150 108 146 112M86 72Q87 67 89 69M22 71Q22 65 21 68M143 70Q143 62 142 65M51 92Q52 83 55 87M132 77Q135 73 138 76M45 71Q47 63 51 67M60 38Q61 34 62 35M170 50Q170 45 168 47M-3 74Q-2 71 1 73M69 91Q69 84 69 87M40 30Q38 27 36 28M138 55Q138 46 139 50M70 92Q69 86 68 88M133 103Q130 93 126 97M112 77Q114 74 117 76M123 57Q125 52 127 55M43 56Q43 51 41 53M100 82Q99 75 98 78" stroke="#95be5e" stroke-width="1" stroke-opacity="0.8" fill="none" stroke-linecap="round"/><path d="M44 146Q39 137 31 143M116 153Q114 136 110 143M55 144Q52 138 46 142M82 146Q80 132 77 138M82 156Q79 148 74 152M60 164Q65 156 73 161M35 149Q33 132 30 139M127 137Q124 131 118 135" stroke="#c2da92" stroke-width="2.5" stroke-opacity="0.8" fill="none" stroke-linecap="round"/><path d="M116 153Q111 146 102 152M44 131Q42 119 39 123M162 135Q165 129 170 133M105 129Q104 118 101 122M26 88Q26 81 25 84M84 148Q87 135 92 141M98 136Q94 125 86 132M82 156Q85 151 90 154M77 151Q81 142 89 148M169 95Q166 89 161 93M105 153Q98 141 87 149M4 125Q3 107 1 114M62 119Q66 112 73 117M170 94Q169 84 169 88" stroke="#b4d27e" stroke-width="2" stroke-opacity="0.8" fill="none" stroke-linecap="round"/><path d="M137 24Q136 21 136 22M116 88Q117 74 119 79M165 64Q164 59 163 61M153 86Q152 81 151 83M73 56Q71 53 69 55M168 59Q166 57 162 59M35 73Q34 67 34 70M68 40Q69 35 70 37M56 76Q53 71 47 75M70 115Q73 101 78 107M82 47Q83 43 84 45M21 38Q21 34 21 36M62 49Q63 40 65 44M36 26Q37 21 37 23M43 56Q43 50 43 52M86 92Q88 80 92 85" stroke="#c2da92" stroke-width="1" stroke-opacity="0.6" fill="none" stroke-linecap="round"/><path d="M137 24Q136 22 134 24M-1 49Q-2 43 -3 45M132 77Q132 71 132 73M9 36Q9 31 9 33M2 54Q4 52 6 53M2 54Q4 49 6 52M160 56Q157 52 153 54M-2 98Q-4 93 -6 95M68 40Q69 35 71 37M-4 24Q-3 22 -3 23M-4 24Q-3 22 -1 23M2 24Q3 22 4 23M82 47Q81 40 78 43M148 38Q146 36 144 38M67 64Q66 58 63 61M62 49Q60 43 57 46M112 77Q112 70 111 73M170 94Q168 86 165 89" stroke="#86b250" stroke-width="1" stroke-opacity="0.8" fill="none" stroke-linecap="round"/><path d="M1 143Q4 134 9 139M162 135Q161 126 160 130M130 139Q134 126 141 132M110 138Q105 127 96 134M108 149Q108 136 107 141M35 149Q39 139 44 144M53 126Q53 109 53 115M154 123Q149 117 141 122M68 143Q67 135 65 139M108 164Q111 154 117 159" stroke="#86b250" stroke-width="2.5" stroke-opacity="0.8" fill="none" stroke-linecap="round"/><path d="M122 15Q122 13 123 14M122 15Q122 13 122 14M146 19Q146 17 146 18M165 15Q165 12 165 13M61 27Q61 23 61 24M119 18Q119 16 118 17M2 24Q1 21 -0 22M171 50Q172 46 174 48M67 30Q66 27 65 28M166 39Q166 35 166 36M34 23Q35 18 36 20" stroke="#b4d27e" stroke-width="0.5" stroke-opacity="0.8" fill="none" stroke-linecap="round"/><path d="M63 61Q62 56 61 58M63 61Q60 56 55 60M62 34Q62 32 61 33M170 50Q170 45 170 47M160 83Q161 75 163 78M123 57Q125 53 128 55" stroke="#c2da92" stroke-width="1" stroke-opacity="1" fill="none" stroke-linecap="round"/><path d="M98 148Q96 139 93 143M135 119Q136 106 138 111M118 121Q120 109 123 114M105 129Q105 114 104 119M92 105Q88 100 82 104M63 149Q65 140 68 144M148 161Q154 152 163 159M1 108Q5 103 12 108M38 120Q39 107 41 112M14 95Q18 89 24 94M105 153Q100 145 91 151M113 98Q115 91 119 95M111 124Q111 115 111 118M111 124Q108 117 102 121M28 140Q30 127 35 133M17 154Q23 143 35 151" stroke="#86b250" stroke-width="2" stroke-opacity="0.8" fill="none" stroke-linecap="round"/><path d="M70 18Q69 16 68 17M18 17Q19 15 21 17M52 30Q51 24 50 26M28 36Q28 32 28 33M137 37Q139 34 142 36M41 26Q41 23 42 24M17 34Q18 29 19 31M34 23Q35 20 37 22" stroke="#a6c86c" stroke-width="0.5" stroke-opacity="0.8" fill="none" stroke-linecap="round"/><path d="M70 18Q70 16 69 17M135 31Q133 28 130 31" stroke="#a6c86c" stroke-width="0.5" stroke-opacity="0.6" fill="none" stroke-linecap="round"/><path d="M70 18Q71 16 72 17M174 16Q174 14 176 15M79 24Q80 22 81 23M55 16Q55 13 55 14" stroke="#c2da92" stroke-width="0.5" stroke-opacity="0.6" fill="none" stroke-linecap="round"/><path d="M81 42Q79 40 76 42M154 81Q157 77 161 80M101 88Q101 79 102 83M100 100Q98 87 95 93M121 33Q120 30 117 32M48 75Q46 69 43 72M132 96Q130 86 126 90M132 96Q130 87 128 91M36 26Q37 21 38 23" stroke="#a6c86c" stroke-width="1" stroke-opacity="1" fill="none" stroke-linecap="round"/><path d="M-2 154Q2 149 8 153M153 86Q154 78 157 81M49 90Q48 83 44 86M-2 98Q0 94 5 97M108 149Q112 129 119 138M65 127Q61 118 54 123M4 125Q7 116 13 121M108 164Q105 155 100 160" stroke="#c2da92" stroke-width="2" stroke-opacity="0.8" fill="none" stroke-linecap="round"/><path d="M159 139Q154 131 145 138M20 95Q16 89 8 94M59 143Q59 130 57 135M49 136Q48 123 47 128M49 136Q50 128 53 131M22 127Q20 119 16 123M20 109Q18 97 14 102M133 163Q129 148 122 155M96 156Q101 147 111 154M154 123Q150 117 142 122" stroke="#b4d27e" stroke-width="2" stroke-opacity="0.6" fill="none" stroke-linecap="round"/><path d="M124 154Q127 142 130 147M156 146Q156 131 156 137M16 124Q19 113 24 118M140 116Q139 104 137 108M9 163Q5 152 -1 158" stroke="#95be5e" stroke-width="2" stroke-opacity="1" fill="none" stroke-linecap="round"/><path d="M124 154Q123 133 121 141M88 137Q84 131 78 136M100 100Q97 92 92 96M106 127Q103 115 97 121M70 115Q70 105 70 109M115 101Q112 97 107 100M62 119Q64 115 69 118M172 127Q176 121 181 125M67 112Q68 100 71 105" stroke="#95be5e" stroke-width="2" stroke-opacity="0.6" fill="none" stroke-linecap="round"/><path d="M146 19Q146 16 146 17M9 36Q8 32 6 34M132 21Q132 18 132 19M82 25Q81 21 80 23M61 27Q60 24 59 25M62 34Q62 30 63 31M148 38Q147 34 145 36M122 28Q123 26 125 28" stroke="#c2da92" stroke-width="0.5" stroke-opacity="0.8" fill="none" stroke-linecap="round"/><path d="M146 19Q145 16 144 18M3 24Q2 23 -0 24M55 16Q55 14 55 15" stroke="#c2da92" stroke-width="0.5" stroke-opacity="1" fill="none" stroke-linecap="round"/><path d="M160 63Q159 58 158 60M86 56Q84 51 80 54M48 75Q46 68 43 71M67 64Q69 58 71 60M140 116Q136 106 129 111M133 103Q135 94 140 98" stroke="#95be5e" stroke-width="1.5" stroke-opacity="1" fill="none" stroke-linecap="round"/><path d="M130 139Q130 116 130 125M16 143Q13 137 6 141M70 92Q71 86 72 89M141 116Q138 109 133 113M141 116Q143 104 147 109" stroke="#b4d27e" stroke-width="2" stroke-opacity="1" fill="none" stroke-linecap="round"/><path d="M55 144Q51 135 43 141M84 148Q81 137 75 143M77 151Q73 141 66 147M133 163Q137 152 144 158M144 154Q143 135 140 142" stroke="#95be5e" stroke-width="2.5" stroke-opacity="0.6" fill="none" stroke-linecap="round"/><path d="M135 119Q134 112 133 115" stroke="#b4d27e" stroke-width="2.5" stroke-opacity="1" fill="none" stroke-linecap="round"/><path d="M174 16Q174 14 175 15M-4 24Q-4 20 -3 22" stroke="#b4d27e" stroke-width="0.5" stroke-opacity="1" fill="none" stroke-linecap="round"/><path d="M159 127Q160 109 162 116M49 90Q52 85 58 89M49 136Q49 124 50 129M48 164Q48 142 47 150M91 124Q93 111 97 117" stroke="#a6c86c" stroke-width="2" stroke-opacity="1" fill="none" stroke-linecap="round"/><path d="M118 121Q118 113 118 116M74 80Q75 73 76 76M99 52Q99 48 100 50" stroke="#a6c86c" stroke-width="1.5" stroke-opacity="1" fill="none" stroke-linecap="round"/><path d="M165 15Q164 14 163 14M51 37Q52 33 54 35M119 18Q118 16 117 17M122 28Q122 25 123 26M67 30Q68 28 69 29" stroke="#86b250" stroke-width="0.5" stroke-opacity="1" fill="none" stroke-linecap="round"/><path d="M167 54Q165 48 162 51M86 56Q87 52 90 54M118 45Q119 40 120 42M48 75Q46 67 42 71" stroke="#95be5e" stroke-width="1" stroke-opacity="1" fill="none" stroke-linecap="round"/><path d="M73 56Q71 51 68 54M68 78Q70 74 72 76M162 42Q163 39 165 41M132 76Q134 70 138 73" stroke="#86b250" stroke-width="1" stroke-opacity="1" fill="none" stroke-linecap="round"/><path d="M109 144Q108 131 105 136M73 136Q77 125 85 131M77 151Q74 138 68 144M22 127Q25 119 31 123" stroke="#a6c86c" stroke-width="2.5" stroke-opacity="0.6" fill="none" stroke-linecap="round"/><path d="M109 144Q110 134 111 138M110 138Q109 124 108 130M35 149Q32 137 27 143M105 153Q102 136 98 143M153 146Q158 139 166 145M9 163Q6 159 -0 163" stroke="#b4d27e" stroke-width="2.5" stroke-opacity="0.8" fill="none" stroke-linecap="round"/><path d="M1 94Q2 84 2 88M163 72Q161 67 157 70M38 120Q37 109 35 113M132 124Q135 115 139 119M144 154Q140 145 133 150" stroke="#c2da92" stroke-width="1.5" stroke-opacity="1" fill="none" stroke-linecap="round"/><path d="M130 138Q124 130 114 137M77 151Q82 142 92 149M162 120Q158 112 151 118M15 155Q14 142 13 147" stroke="#86b250" stroke-width="2.5" stroke-opacity="0.6" fill="none" stroke-linecap="round"/><path d="M88 137Q84 127 76 133M48 134Q50 126 54 130" stroke="#c2da92" stroke-width="2.5" stroke-opacity="1" fill="none" stroke-linecap="round"/><path d="M63 149Q62 140 61 144M68 143Q71 135 76 139" stroke="#86b250" stroke-width="2.5" stroke-opacity="1" fill="none" stroke-linecap="round"/><path d="M170 143Q175 133 185 141M118 143Q120 134 123 137M39 144Q42 134 48 139M48 134Q49 123 49 127M48 134Q44 129 37 134M108 164Q103 156 94 162" stroke="#b4d27e" stroke-width="2.5" stroke-opacity="0.6" fill="none" stroke-linecap="round"/><path d="M148 161Q153 152 161 158M162 120Q161 110 157 114" stroke="#c2da92" stroke-width="2" stroke-opacity="1" fill="none" stroke-linecap="round"/><path d="M82 156Q82 142 83 147M106 127Q110 115 116 120M15 155Q21 147 32 154M113 148Q113 137 112 141M17 154Q15 137 11 144" stroke="#a6c86c" stroke-width="2.5" stroke-opacity="0.8" fill="none" stroke-linecap="round"/><path d="M121 33Q121 29 121 30M36 26Q37 23 39 24" stroke="#95be5e" stroke-width="0.5" stroke-opacity="0.8" fill="none" stroke-linecap="round"/><path d="M119 18Q120 16 122 17" stroke="#95be5e" stroke-width="0.5" stroke-opacity="1" fill="none" stroke-linecap="round"/><path d="M60 164Q57 158 52 161M80 163Q84 149 92 156M144 154Q145 133 146 141" stroke="#86b250" stroke-width="3" stroke-opacity="0.6" fill="none" stroke-linecap="round"/><path d="M15 155Q11 138 5 146" stroke="#a6c86c" stroke-width="2.5" stroke-opacity="1" fill="none" stroke-linecap="round"/><path d="M17 154Q14 133 9 142" stroke="#95be5e" stroke-width="3" stroke-opacity="0.8" fill="none" stroke-linecap="round"/><path d="M17 154Q12 139 4 147" stroke="#b4d27e" stroke-width="3" stroke-opacity="0.8" fill="none" stroke-linecap="round"/>
<ellipse cx="20" cy="100" rx="4.800000000000001" ry="2.4000000000000004" fill="#d0cdb5" opacity="0.45"/>
<ellipse cx="140" cy="70" rx="4.0" ry="2.0" fill="#d0cdb5" opacity="0.45"/>
<ellipse cx="100" cy="80" rx="3.2" ry="1.6" fill="#d0cdb5" opacity="0.45"/>
<ellipse cx="150" cy="140" rx="4.0" ry="2.0" fill="#d0cdb5" opacity="0.45"/>
<ellipse cx="125" cy="112" rx="4.0" ry="2.0" fill="#d0cdb5" opacity="0.45"/>
</g></g>
<g transform="translate(9,464.5)"><g clip-path="url(#cbl)">
<rect width="174.5" height="158.79999999999995" fill="url(#blsky)"/>
<path d="M0,31 L174.5,8 M0,38 L174.5,19" stroke="#8a939e" stroke-width="0.7" fill="none"/>
<path d="M38.2,0 L38.2,44 M93.2,0 L93.2,44 M168,0 L168,44" stroke="#77808c" stroke-width="0.8" fill="none"/>
<path d="M-2,12.8 Q40,4 81,-0.5" stroke="#3c4a5a" stroke-width="2.8" fill="none"/>
<path d="M46,5 L71.6,31.3 M60.5,2.5 L51,25 L71.6,31.3 L60.5,2.5" stroke="#4a5866" stroke-width="1.3" fill="none" stroke-linejoin="round"/>
<polygon points="0.0,46.0 2.4,50.0 3.9,45.9 5.4,50.0 7.2,50.0 8.7,45.9 10.2,50.0 9.3,50.0 10.8,43.7 12.3,50.0 13.2,50.0 14.7,34.7 16.2,50.0 16.0,50.0 17.5,44.4 19.0,50.0 18.0,50.0 19.5,39.2 21.0,50.0 22.3,50.0 23.8,41.3 25.3,50.0 24.7,50.0 26.2,30.0 27.7,50.0 29.3,50.0 30.8,39.8 32.3,50.0 34.0,50.0 35.5,42.3 37.0,50.0 37.6,50.0 39.1,39.4 40.6,50.0 41.6,50.0 43.1,47.7 44.6,50.0 44.5,50.0 46.0,31.5 47.5,50.0 46.7,50.0 48.2,42.4 49.7,50.0 48.7,50.0 50.2,45.4 51.7,50.0 51.7,50.0 53.2,46.5 54.7,50.0 54.6,50.0 56.1,43.8 57.6,50.0 56.8,50.0 58.3,37.5 59.8,50.0 61.3,50.0 62.8,40.1 64.3,50.0 64.4,50.0 65.9,30.5 67.4,50.0 67.0,50.0 68.5,37.6 70.0,50.0 71.8,50.0 73.3,47.5 74.8,50.0 74.8,50.0 76.3,44.2 77.8,50.0 77.1,50.0 78.6,46.0 80.1,50.0 81.7,50.0 83.2,40.3 84.7,50.0 84.0,50.0 85.5,42.7 87.0,50.0 88.8,50.0 90.3,42.7 91.8,50.0 92.4,50.0 93.9,42.5 95.4,50.0 94.9,50.0 96.4,36.9 97.9,50.0 99.9,50.0 101.4,39.9 102.9,50.0 103.5,50.0 105.0,35.9 106.5,50.0 108.0,50.0 109.5,43.6 111.0,50.0 110.2,50.0 111.7,34.9 113.2,50.0 114.7,50.0 116.2,41.0 117.7,50.0 119.5,50.0 121.0,45.0 122.5,50.0 121.8,50.0 123.3,38.4 124.8,50.0 124.7,50.0 126.2,43.6 127.7,50.0 129.3,50.0 130.8,47.8 132.3,50.0 132.7,50.0 134.2,45.8 135.7,50.0 135.6,50.0 137.1,33.8 138.6,50.0 140.6,50.0 142.1,47.7 143.6,50.0 144.1,50.0 145.6,32.7 147.1,50.0 148.4,50.0 149.9,46.9 151.4,50.0 152.8,50.0 154.3,46.2 155.8,50.0 156.8,50.0 158.3,46.1 159.8,50.0 160.9,50.0 162.4,42.2 163.9,50.0 165.2,50.0 166.7,39.5 168.2,50.0 169.2,50.0 170.7,35.5 172.2,50.0 171.9,50.0 173.4,45.4 174.9,50.0 176.4,50.0 177.9,45.2 179.4,50.0 174.5,50.0 174.5,158.8 0.0,158.8" fill="url(#blg)" filter="url(#fbl)"/>
<path d="M60.7 45.0l0.5 -6.3M61.1 47.8l0.7 -5.8M170.3 49.4l0.0 -5.1M29.0 47.7l0.9 -4.9M120.7 46.1l0.5 -3.7M136.2 44.1l0.3 -4.7M108.8 46.8l0.3 -5.9M4.8 38.2l-0.1 -5.6M38.2 45.6l0.3 -3.2M82.3 39.2l-0.9 -3.5M55.4 38.5l-0.6 -3.1M81.2 41.3l0.2 -5.4M41.5 48.6l-1.0 -4.6M48.6 41.7l-0.8 -6.3M65.2 36.5l0.2 -3.4M95.1 40.8l0.2 -6.8M142.8 41.9l0.6 -5.6M64.5 38.0l0.2 -5.3M167.0 49.6l0.2 -4.4M155.9 36.0l-0.8 -5.3M107.3 38.0l0.3 -6.6M65.6 42.0l-0.5 -4.2M169.7 41.3l0.9 -6.7M104.0 39.6l1.0 -5.0M72.5 40.5l1.0 -5.0M50.0 42.7l-0.8 -5.5M77.4 40.1l0.6 -6.3M2.3 43.5l-0.5 -6.7M136.4 39.4l-0.5 -3.6M172.5 40.1l0.2 -4.9M112.5 44.5l0.5 -3.5M132.7 40.2l0.1 -4.3M51.8 43.4l-0.1 -4.4M130.0 44.3l-0.9 -4.0M79.5 48.8l0.8 -5.2M2.5 46.9l-0.1 -5.3M123.6 44.9l-0.0 -6.6M67.3 41.5l0.7 -3.8M51.7 47.6l-0.9 -6.3M121.2 42.1l-0.4 -6.1M158.9 38.0l-0.0 -5.2M86.8 40.6l-0.7 -5.3M141.7 37.0l-0.5 -6.3M138.2 45.3l-0.9 -5.9M170.8 50.0l0.4 -3.2" stroke="#c2b98e" stroke-width="1" opacity="0.85" fill="none"/>
<path d="M150 109Q156 93 154 78M68 97Q63 88 67 81M38 95Q37 83 41 72M99 130Q101 115 96 102M58 102Q64 84 60 67M145 104Q141 92 144 80M73 114Q74 100 71 86M99 108Q92 94 96 81M18 132Q22 113 19 95" stroke="#234619" stroke-width="1.5" stroke-opacity="0.6" fill="none" stroke-linecap="round"/><path d="M108 128Q103 116 108 104M169 129Q163 109 172 90M82 173Q81 151 81 129M145 152Q142 127 139 105M108 125Q109 114 109 103M76 119Q82 100 73 83M145 107Q149 94 143 83M-2 130Q6 113 -2 96M152 108Q152 92 152 77" stroke="#1c3a14" stroke-width="2" stroke-opacity="0.6" fill="none" stroke-linecap="round"/><path d="M100 99Q95 87 101 75M36 94Q34 83 38 74M-3 160Q10 138 2 117M2 104Q6 95 3 85M67 118Q65 108 66 99M2 90Q7 76 1 61M20 111Q14 92 25 74M116 120Q120 108 114 96M123 158Q120 144 127 132M63 97Q61 86 60 77" stroke="#234619" stroke-width="2" stroke-opacity="0.6" fill="none" stroke-linecap="round"/><path d="M168 124Q165 113 169 103M67 101Q67 92 66 84M-4 94Q-11 79 -5 64M54 117Q52 107 54 96M91 95Q90 85 91 76M-1 103Q5 87 -1 71M98 130Q101 118 96 108M128 147Q135 127 125 108M145 139Q149 126 142 114" stroke="#2a5020" stroke-width="2" stroke-opacity="0.8" fill="none" stroke-linecap="round"/><path d="M39 172Q44 152 37 132" stroke="#1c3a14" stroke-width="3" stroke-opacity="0.8" fill="none" stroke-linecap="round"/><path d="M110 122Q111 109 109 97M89 127Q84 110 85 95M140 129Q138 107 142 86M51 114Q48 97 55 82M83 98Q78 87 81 78M97 129Q103 117 99 105M169 164Q159 139 169 114" stroke="#1c3a14" stroke-width="2" stroke-opacity="0.8" fill="none" stroke-linecap="round"/><path d="M61 116Q61 100 65 84M95 150Q91 130 93 110" stroke="#1c3a14" stroke-width="2.5" stroke-opacity="0.8" fill="none" stroke-linecap="round"/><path d="M155 171Q148 151 156 132M168 157Q163 141 171 127M170 183Q176 164 167 146" stroke="#2a5020" stroke-width="3" stroke-opacity="0.6" fill="none" stroke-linecap="round"/><path d="M84 91Q90 75 83 59M35 115Q33 103 35 92M151 138Q148 126 151 115M122 91Q122 79 120 69M102 93Q104 76 101 60M86 88Q92 73 88 59M131 104Q133 94 131 84M92 107Q90 91 95 76" stroke="#234619" stroke-width="1.5" stroke-opacity="0.8" fill="none" stroke-linecap="round"/><path d="M24 163Q19 146 23 130M137 108Q139 95 134 85M174 107Q172 88 170 73M16 139Q18 127 19 116" stroke="#2a5020" stroke-width="2" stroke-opacity="0.6" fill="none" stroke-linecap="round"/><path d="M178 133Q171 113 175 94M100 148Q99 128 101 109M46 163Q52 139 43 118" stroke="#2a5020" stroke-width="2.5" stroke-opacity="0.8" fill="none" stroke-linecap="round"/><path d="M68 94Q66 83 68 73M-2 89Q-1 78 -3 67" stroke="#1c3a14" stroke-width="1" stroke-opacity="0.6" fill="none" stroke-linecap="round"/><path d="M153 109Q153 100 153 91M114 124Q115 110 114 96M42 104Q41 89 42 74" stroke="#2a5020" stroke-width="1.5" stroke-opacity="0.6" fill="none" stroke-linecap="round"/><path d="M138 167Q129 149 134 133M174 89Q165 73 171 58M95 124Q94 113 96 102M88 146Q85 125 83 104M126 96Q121 80 128 65M37 114Q38 105 38 96M36 97Q40 84 37 70M72 151Q78 130 76 111" stroke="#234619" stroke-width="2" stroke-opacity="0.8" fill="none" stroke-linecap="round"/><path d="M118 114Q120 99 116 86M27 156Q34 138 31 120M75 130Q78 109 80 92M47 120Q44 100 43 82M150 153Q151 136 152 121" stroke="#1c3a14" stroke-width="2.5" stroke-opacity="0.6" fill="none" stroke-linecap="round"/><path d="M137 124Q130 104 132 88M109 97Q109 84 112 72M158 118Q164 105 157 93M146 92Q143 75 151 61M137 99Q132 86 135 75" stroke="#1c3a14" stroke-width="1.5" stroke-opacity="0.6" fill="none" stroke-linecap="round"/><path d="M146 151Q152 126 149 103" stroke="#234619" stroke-width="3" stroke-opacity="0.8" fill="none" stroke-linecap="round"/><path d="M0 93Q3 84 -1 75M24 109Q22 97 27 86" stroke="#1c3a14" stroke-width="1.5" stroke-opacity="0.8" fill="none" stroke-linecap="round"/><path d="M18 107Q18 95 16 83" stroke="#234619" stroke-width="2.5" stroke-opacity="0.8" fill="none" stroke-linecap="round"/><path d="M152 154Q156 139 148 125M31 179Q26 165 31 152" stroke="#234619" stroke-width="3" stroke-opacity="0.6" fill="none" stroke-linecap="round"/><path d="M82 139Q83 127 80 116M140 144Q131 120 141 98M8 161Q-1 138 6 116M-4 161Q-11 143 -9 127M125 145Q135 121 130 100M76 138Q81 122 73 107M81 153Q76 130 80 108" stroke="#2a5020" stroke-width="2.5" stroke-opacity="0.6" fill="none" stroke-linecap="round"/><path d="M122 168Q116 145 123 122" stroke="#1c3a14" stroke-width="3.5" stroke-opacity="0.6" fill="none" stroke-linecap="round"/><path d="M51 115Q48 99 55 84M128 100Q129 84 127 69M91 90Q94 75 93 61" stroke="#2a5020" stroke-width="1.5" stroke-opacity="0.8" fill="none" stroke-linecap="round"/><path d="M3 157Q4 141 3 125" stroke="#2a5020" stroke-width="3.5" stroke-opacity="0.8" fill="none" stroke-linecap="round"/><path d="M17 160Q9 144 15 129M-5 129Q-11 113 -7 98" stroke="#234619" stroke-width="2.5" stroke-opacity="0.6" fill="none" stroke-linecap="round"/><path d="M140 168Q134 151 136 135" stroke="#234619" stroke-width="3.5" stroke-opacity="0.6" fill="none" stroke-linecap="round"/><path d="M127 171Q135 157 130 144" stroke="#2a5020" stroke-width="3" stroke-opacity="0.8" fill="none" stroke-linecap="round"/>
<path d="M62 50Q59 47 58 45M82 55Q83 52 83 50M40 42Q40 37 43 34" stroke="#8fb86a" stroke-width="1" stroke-opacity="0.8" fill="none" stroke-linecap="round"/><path d="M81 90Q87 80 86 73M77 83Q77 77 72 75" stroke="#8fb86a" stroke-width="2" stroke-opacity="0.8" fill="none" stroke-linecap="round"/><path d="M63 93Q66 87 64 82" stroke="#7aa656" stroke-width="3" stroke-opacity="0.6" fill="none" stroke-linecap="round"/><path d="M74 68Q70 60 70 55M2 57Q-2 53 -2 49M103 58Q103 53 99 48M141 55Q142 48 147 45M94 67Q95 62 98 60" stroke="#7aa656" stroke-width="1.5" stroke-opacity="0.6" fill="none" stroke-linecap="round"/><path d="M118 76Q118 72 120 69M144 81Q145 76 143 72M3 87Q3 78 2 70M174 75Q170 67 170 63M122 77Q124 68 127 62" stroke="#8fb86a" stroke-width="2.5" stroke-opacity="0.8" fill="none" stroke-linecap="round"/><path d="M120 49Q119 44 116 42M82 77Q79 69 76 65M65 66Q67 60 64 55M86 68Q86 64 89 62M158 59Q158 56 159 53" stroke="#8fb86a" stroke-width="1.5" stroke-opacity="0.8" fill="none" stroke-linecap="round"/><path d="M157 55Q157 51 157 47M47 80Q45 72 50 64M89 67Q83 60 83 57M153 76Q159 68 161 65" stroke="#a6c886" stroke-width="2" stroke-opacity="1" fill="none" stroke-linecap="round"/><path d="M148 76Q147 72 147 68M28 99Q29 94 31 90M173 92Q175 86 172 81M46 62Q44 57 42 53" stroke="#7aa656" stroke-width="2" stroke-opacity="0.6" fill="none" stroke-linecap="round"/><path d="M58 54Q56 49 58 45M100 68Q100 62 102 57M122 76Q124 72 126 68M176 66Q176 60 180 57M177 54Q178 49 175 46M91 46Q89 41 86 38M119 81Q116 75 117 69M172 69Q177 63 177 59M31 55Q31 51 28 50M91 54Q92 49 93 45M175 63Q173 57 175 51M37 96Q38 86 41 78M152 52Q152 49 149 46" stroke="#7aa656" stroke-width="1.5" stroke-opacity="0.8" fill="none" stroke-linecap="round"/><path d="M167 77Q165 68 163 62M7 65Q9 58 6 51M146 61Q148 56 148 53M58 84Q59 78 60 72" stroke="#8fb86a" stroke-width="2" stroke-opacity="1" fill="none" stroke-linecap="round"/><path d="M2 88Q3 81 8 77M147 54Q149 50 149 48" stroke="#bcd4a0" stroke-width="1.5" stroke-opacity="0.6" fill="none" stroke-linecap="round"/><path d="M15 86Q7 76 6 71M155 70Q156 63 151 57M170 67Q174 60 176 57M113 99Q110 92 112 86M160 95Q161 87 165 83M40 79Q42 72 41 66" stroke="#a6c886" stroke-width="2" stroke-opacity="0.6" fill="none" stroke-linecap="round"/><path d="M79 51Q80 47 81 45M66 69Q65 63 63 58M-3 60Q-1 56 1 54M106 82Q106 76 110 74" stroke="#7aa656" stroke-width="1.5" stroke-opacity="1" fill="none" stroke-linecap="round"/><path d="M28 70Q27 64 29 60M44 61Q45 54 46 49M56 56Q55 51 56 46M97 55Q97 52 97 49" stroke="#bcd4a0" stroke-width="1.5" stroke-opacity="1" fill="none" stroke-linecap="round"/><path d="M168 65Q170 57 176 54M159 77Q158 70 153 65M38 74Q41 67 43 63M86 57Q86 53 89 52" stroke="#7aa656" stroke-width="2" stroke-opacity="0.8" fill="none" stroke-linecap="round"/><path d="M65 53Q65 50 64 47M42 52Q39 48 39 46M100 94Q97 86 97 80M67 53Q66 47 68 43" stroke="#8fb86a" stroke-width="1.5" stroke-opacity="1" fill="none" stroke-linecap="round"/><path d="M139 60Q138 55 140 52" stroke="#7aa656" stroke-width="1" stroke-opacity="0.6" fill="none" stroke-linecap="round"/><path d="M83 54Q85 48 89 45M130 58Q129 53 129 49M156 52Q156 47 161 42M139 75Q135 68 132 65M103 45Q107 40 108 37" stroke="#8fb86a" stroke-width="1.5" stroke-opacity="0.6" fill="none" stroke-linecap="round"/><path d="M18 53Q15 47 15 42M156 60Q155 54 150 50" stroke="#bcd4a0" stroke-width="1" stroke-opacity="1" fill="none" stroke-linecap="round"/><path d="M124 42Q123 38 124 33M171 51Q171 45 173 41" stroke="#bcd4a0" stroke-width="1" stroke-opacity="0.8" fill="none" stroke-linecap="round"/><path d="M76 60Q77 56 77 52M131 82Q133 78 133 74M104 51Q103 48 105 45M132 53Q132 50 133 47M73 82Q77 74 77 68" stroke="#bcd4a0" stroke-width="1.5" stroke-opacity="0.8" fill="none" stroke-linecap="round"/><path d="M169 100Q165 95 164 91M100 100Q104 93 103 87" stroke="#7aa656" stroke-width="3" stroke-opacity="0.8" fill="none" stroke-linecap="round"/><path d="M150 95Q149 89 151 84M150 60Q150 55 147 52M153 83Q152 76 148 72M149 99Q145 90 143 83M62 67Q63 61 67 59" stroke="#bcd4a0" stroke-width="2" stroke-opacity="0.6" fill="none" stroke-linecap="round"/><path d="M60 82Q54 75 52 71M18 85Q15 78 12 75M22 97Q23 89 30 83" stroke="#7aa656" stroke-width="2.5" stroke-opacity="1" fill="none" stroke-linecap="round"/><path d="M171 78Q172 74 171 70M7 67Q12 60 14 55M3 62Q3 57 -0 55M55 74Q54 67 52 62" stroke="#bcd4a0" stroke-width="2" stroke-opacity="0.8" fill="none" stroke-linecap="round"/><path d="M141 92Q141 87 141 82" stroke="#8fb86a" stroke-width="3" stroke-opacity="1" fill="none" stroke-linecap="round"/><path d="M174 71Q175 65 176 60" stroke="#bcd4a0" stroke-width="2.5" stroke-opacity="0.6" fill="none" stroke-linecap="round"/><path d="M39 59Q42 54 42 52M20 44Q21 40 19 36" stroke="#7aa656" stroke-width="1" stroke-opacity="0.8" fill="none" stroke-linecap="round"/><path d="M93 79Q95 74 95 71M92 65Q90 61 89 59M113 63Q112 58 111 55M99 90Q99 84 95 81M24 64Q22 57 19 53" stroke="#a6c886" stroke-width="1.5" stroke-opacity="0.8" fill="none" stroke-linecap="round"/><path d="M8 47Q7 42 9 37M38 52Q40 49 41 47" stroke="#7aa656" stroke-width="1" stroke-opacity="1" fill="none" stroke-linecap="round"/><path d="M118 45Q119 41 120 39" stroke="#8fb86a" stroke-width="1" stroke-opacity="1" fill="none" stroke-linecap="round"/><path d="M74 55Q78 48 80 45" stroke="#7aa656" stroke-width="2" stroke-opacity="1" fill="none" stroke-linecap="round"/><path d="M134 72Q136 65 135 59M117 99Q113 91 110 88M176 75Q172 70 171 67" stroke="#bcd4a0" stroke-width="2" stroke-opacity="1" fill="none" stroke-linecap="round"/><path d="M122 94Q123 88 122 83" stroke="#bcd4a0" stroke-width="2.5" stroke-opacity="0.8" fill="none" stroke-linecap="round"/><path d="M142 47Q142 44 142 42M40 60Q37 55 36 51" stroke="#a6c886" stroke-width="1" stroke-opacity="0.8" fill="none" stroke-linecap="round"/><path d="M73 69Q75 64 76 60" stroke="#a6c886" stroke-width="2" stroke-opacity="0.8" fill="none" stroke-linecap="round"/><path d="M101 49Q102 46 103 43M60 49Q61 46 61 43" stroke="#a6c886" stroke-width="1.5" stroke-opacity="1" fill="none" stroke-linecap="round"/><path d="M66 50Q66 44 63 41" stroke="#8fb86a" stroke-width="1" stroke-opacity="0.6" fill="none" stroke-linecap="round"/><path d="M174 97Q181 87 183 84" stroke="#8fb86a" stroke-width="3" stroke-opacity="0.6" fill="none" stroke-linecap="round"/><path d="M52 81Q58 73 58 70" stroke="#8fb86a" stroke-width="2.5" stroke-opacity="1" fill="none" stroke-linecap="round"/><path d="M64 73Q63 67 66 62" stroke="#a6c886" stroke-width="2.5" stroke-opacity="0.8" fill="none" stroke-linecap="round"/><path d="M28 66Q32 60 31 56M46 93Q47 87 45 82" stroke="#a6c886" stroke-width="1.5" stroke-opacity="0.6" fill="none" stroke-linecap="round"/><path d="M140 76Q141 72 139 69" stroke="#8fb86a" stroke-width="2.5" stroke-opacity="0.6" fill="none" stroke-linecap="round"/><path d="M45 58Q44 54 46 50" stroke="#a6c886" stroke-width="1" stroke-opacity="0.6" fill="none" stroke-linecap="round"/><path d="M171 99Q164 88 165 80" stroke="#bcd4a0" stroke-width="2.5" stroke-opacity="1" fill="none" stroke-linecap="round"/>
<path d="M-1 71Q-4 63 -3 56M131 63Q130 58 132 54" stroke="#3f6c2a" stroke-width="1" stroke-opacity="0.6" fill="none" stroke-linecap="round"/><path d="M95 63Q98 58 97 53M87 80Q91 71 94 66M113 85Q113 74 106 66M128 73Q125 67 128 61M91 83Q84 72 85 64M65 62Q64 56 65 50" stroke="#3f6c2a" stroke-width="1.5" stroke-opacity="0.6" fill="none" stroke-linecap="round"/><path d="M96 149Q89 132 85 119M115 152Q114 135 113 120M110 156Q108 144 105 134" stroke="#6b9a48" stroke-width="3.5" stroke-opacity="0.6" fill="none" stroke-linecap="round"/><path d="M78 128Q73 117 73 108M78 134Q84 126 84 121M133 89Q131 79 137 70" stroke="#5a8a3c" stroke-width="2.5" stroke-opacity="0.8" fill="none" stroke-linecap="round"/><path d="M141 163Q138 145 131 131" stroke="#6b9a48" stroke-width="4" stroke-opacity="0.6" fill="none" stroke-linecap="round"/><path d="M79 137Q79 125 77 113M145 155Q143 145 146 136M87 127Q85 117 87 106M60 138Q57 129 52 124M15 145Q9 134 6 127" stroke="#6b9a48" stroke-width="3" stroke-opacity="0.8" fill="none" stroke-linecap="round"/><path d="M49 157Q56 139 57 124M144 91Q141 81 138 77M80 141Q80 132 84 126M133 110Q130 102 131 95" stroke="#3f6c2a" stroke-width="2.5" stroke-opacity="0.6" fill="none" stroke-linecap="round"/><path d="M136 149Q149 132 146 119M164 93Q168 87 168 82M120 90Q124 83 124 79M113 150Q115 139 107 130M175 96Q179 89 177 83" stroke="#5a8a3c" stroke-width="2.5" stroke-opacity="0.6" fill="none" stroke-linecap="round"/><path d="M112 96Q110 86 111 77M81 144Q76 130 69 123M27 128Q19 119 18 112M167 70Q167 64 172 61" stroke="#4a7a30" stroke-width="2" stroke-opacity="0.8" fill="none" stroke-linecap="round"/><path d="M-0 134Q5 122 5 111M140 141Q138 127 147 119M159 123Q151 111 153 104M48 162Q49 149 46 139M86 106Q82 93 80 84" stroke="#4a7a30" stroke-width="2.5" stroke-opacity="0.8" fill="none" stroke-linecap="round"/><path d="M168 83Q165 71 159 65M146 151Q143 142 143 135M147 109Q147 100 154 95M-3 109Q-5 96 0 85M121 73Q120 65 124 59M18 126Q23 114 24 105M33 130Q32 122 34 114M152 109Q151 101 152 93" stroke="#3f6c2a" stroke-width="2" stroke-opacity="0.8" fill="none" stroke-linecap="round"/><path d="M4 163Q8 145 12 130M88 145Q87 137 88 129" stroke="#4a7a30" stroke-width="4" stroke-opacity="0.6" fill="none" stroke-linecap="round"/><path d="M1 112Q-0 105 0 99M160 155Q156 142 150 131M164 113Q166 99 163 87M11 138Q9 122 6 110" stroke="#3f6c2a" stroke-width="3" stroke-opacity="0.8" fill="none" stroke-linecap="round"/><path d="M31 103Q33 92 36 84M108 115Q110 105 106 96M16 71Q15 66 15 61M125 87Q120 80 120 76M94 117Q92 105 95 93M16 117Q8 102 6 94M35 99Q37 88 37 79" stroke="#5a8a3c" stroke-width="2" stroke-opacity="0.8" fill="none" stroke-linecap="round"/><path d="M7 74Q5 67 8 60M142 103Q145 94 143 86M-0 78Q-2 69 -6 64M48 76Q48 67 43 59M168 65Q165 56 167 49M37 145Q40 136 39 128M134 127Q126 115 127 108M153 143Q147 132 148 125M90 74Q87 66 91 58" stroke="#4a7a30" stroke-width="2" stroke-opacity="0.6" fill="none" stroke-linecap="round"/><path d="M128 90Q132 80 128 71M140 118Q137 111 136 105M161 66Q165 58 164 51M102 122Q100 112 98 104M133 103Q136 97 134 92M96 141Q109 122 109 113M18 73Q18 66 16 62M57 97Q59 89 60 84M-0 79Q-2 68 -7 62" stroke="#6b9a48" stroke-width="2" stroke-opacity="0.6" fill="none" stroke-linecap="round"/><path d="M160 162Q152 145 148 136M63 152Q52 136 55 121" stroke="#3f6c2a" stroke-width="3.5" stroke-opacity="0.8" fill="none" stroke-linecap="round"/><path d="M135 120Q125 104 126 95M161 156Q155 146 158 137M155 141Q144 129 144 121M163 120Q167 108 173 100" stroke="#4a7a30" stroke-width="3.5" stroke-opacity="0.6" fill="none" stroke-linecap="round"/><path d="M66 145Q63 132 57 126M133 124Q131 111 132 99M106 81Q102 74 104 68M8 69Q9 63 4 57M9 126Q3 114 -0 108" stroke="#3f6c2a" stroke-width="2" stroke-opacity="0.6" fill="none" stroke-linecap="round"/><path d="M138 163Q133 154 135 145M109 162Q109 152 102 146M97 119Q96 111 102 103M107 109Q103 98 102 90M103 159Q111 143 109 130M57 130Q62 116 66 108M168 117Q173 104 171 94" stroke="#4a7a30" stroke-width="3" stroke-opacity="0.6" fill="none" stroke-linecap="round"/><path d="M97 125Q97 113 108 104M113 163Q120 144 122 129M90 132Q99 117 95 103" stroke="#4a7a30" stroke-width="3.5" stroke-opacity="0.8" fill="none" stroke-linecap="round"/><path d="M27 161Q28 142 39 131M89 86Q84 76 82 68M133 107Q137 96 132 85" stroke="#6b9a48" stroke-width="2.5" stroke-opacity="0.6" fill="none" stroke-linecap="round"/><path d="M140 82Q136 75 135 71M56 101Q54 89 50 79M107 65Q108 58 104 54M26 64Q27 59 29 57M151 64Q151 57 157 54M65 91Q67 85 68 81" stroke="#4a7a30" stroke-width="1.5" stroke-opacity="0.6" fill="none" stroke-linecap="round"/><path d="M2 75Q6 70 6 67M139 106Q140 99 145 94" stroke="#3f6c2a" stroke-width="1.5" stroke-opacity="0.8" fill="none" stroke-linecap="round"/><path d="M14 163Q22 149 23 139M176 157Q172 148 175 139M51 93Q45 83 44 76M128 149Q127 139 131 132M150 140Q150 124 158 113M28 98Q26 92 28 86M165 94Q166 89 165 83" stroke="#3f6c2a" stroke-width="2.5" stroke-opacity="0.8" fill="none" stroke-linecap="round"/><path d="M124 134Q123 119 130 108M44 118Q43 105 35 94M173 142Q164 125 162 118M2 152Q-0 135 5 121M145 71Q144 66 148 62" stroke="#6b9a48" stroke-width="2.5" stroke-opacity="0.8" fill="none" stroke-linecap="round"/><path d="M29 142Q25 125 20 113M99 138Q90 127 89 121M140 154Q141 136 138 119M90 117Q92 108 94 100M33 163Q38 148 45 137" stroke="#4a7a30" stroke-width="2.5" stroke-opacity="0.6" fill="none" stroke-linecap="round"/><path d="M94 100Q96 91 100 86M50 135Q54 116 64 109M56 160Q57 149 61 142" stroke="#3f6c2a" stroke-width="3" stroke-opacity="0.6" fill="none" stroke-linecap="round"/><path d="M130 161Q128 144 130 128" stroke="#5a8a3c" stroke-width="4" stroke-opacity="0.8" fill="none" stroke-linecap="round"/><path d="M21 99Q22 89 24 79M59 156Q53 142 55 130" stroke="#4a7a30" stroke-width="3" stroke-opacity="0.8" fill="none" stroke-linecap="round"/><path d="M123 74Q125 67 127 63M72 111Q72 101 69 93M127 107Q129 100 129 94" stroke="#6b9a48" stroke-width="2" stroke-opacity="0.8" fill="none" stroke-linecap="round"/><path d="M35 83Q35 76 30 74M30 70Q25 61 27 55M-4 80Q-5 70 -11 65" stroke="#5a8a3c" stroke-width="1.5" stroke-opacity="0.6" fill="none" stroke-linecap="round"/><path d="M147 159Q141 140 135 127M42 166Q44 152 46 140M115 168Q128 147 127 131" stroke="#3f6c2a" stroke-width="4" stroke-opacity="0.6" fill="none" stroke-linecap="round"/><path d="M9 133Q7 115 -6 106M90 105Q90 93 99 85M78 161Q74 145 66 138" stroke="#5a8a3c" stroke-width="3" stroke-opacity="0.6" fill="none" stroke-linecap="round"/><path d="M43 70Q45 65 43 59M111 126Q114 114 121 107M103 119Q101 111 104 103M55 70Q51 62 52 54M-5 71Q-4 65 -0 63M105 115Q107 103 103 93" stroke="#5a8a3c" stroke-width="2" stroke-opacity="0.6" fill="none" stroke-linecap="round"/><path d="M145 63Q145 56 147 50M41 93Q49 82 49 75" stroke="#4a7a30" stroke-width="1.5" stroke-opacity="0.8" fill="none" stroke-linecap="round"/><path d="M139 154Q145 144 148 138M97 145Q101 135 104 128M0 139Q-0 124 -4 110" stroke="#6b9a48" stroke-width="3.5" stroke-opacity="0.8" fill="none" stroke-linecap="round"/><path d="M18 156Q22 145 19 135M26 134Q27 122 31 112M106 151Q112 137 107 123M-2 110Q-2 102 -3 94" stroke="#5a8a3c" stroke-width="3" stroke-opacity="0.8" fill="none" stroke-linecap="round"/><path d="M179 167Q181 149 181 132M158 127Q158 116 161 105" stroke="#5a8a3c" stroke-width="3.5" stroke-opacity="0.8" fill="none" stroke-linecap="round"/><path d="M163 74Q162 67 166 62M139 91Q145 79 149 72M90 71Q88 65 85 60" stroke="#6b9a48" stroke-width="1.5" stroke-opacity="0.6" fill="none" stroke-linecap="round"/><path d="M67 65Q65 59 67 53M10 83Q10 72 2 66M128 92Q127 87 128 82" stroke="#6b9a48" stroke-width="1.5" stroke-opacity="0.8" fill="none" stroke-linecap="round"/><path d="M149 158Q158 146 158 136" stroke="#6b9a48" stroke-width="4" stroke-opacity="0.8" fill="none" stroke-linecap="round"/><path d="M137 147Q143 132 144 121" stroke="#4a7a30" stroke-width="4" stroke-opacity="0.8" fill="none" stroke-linecap="round"/><path d="M161 148Q161 130 169 117" stroke="#6b9a48" stroke-width="3" stroke-opacity="0.6" fill="none" stroke-linecap="round"/>
<path d="M49 115Q56 103 56 96M14 150Q12 140 8 132M91 62Q91 56 90 50M-2 136Q-5 126 -6 117M150 96Q144 88 144 82" stroke="#a9c78a" stroke-width="1.5" stroke-opacity="0.6" fill="none" stroke-linecap="round"/><path d="M81 105Q79 96 79 88M174 116Q182 106 181 98M21 119Q23 111 23 106M135 140Q140 130 141 125M74 145Q75 132 66 121M113 85Q114 76 118 71" stroke="#c5dbaa" stroke-width="1.5" stroke-opacity="0.8" fill="none" stroke-linecap="round"/><path d="M132 70Q127 63 128 58" stroke="#a9c78a" stroke-width="1" stroke-opacity="0.6" fill="none" stroke-linecap="round"/><path d="M135 99Q135 91 138 84M179 101Q184 91 181 81" stroke="#c5dbaa" stroke-width="1" stroke-opacity="0.6" fill="none" stroke-linecap="round"/><path d="M6 167Q8 157 3 148" stroke="#9cc078" stroke-width="2.5" stroke-opacity="0.6" fill="none" stroke-linecap="round"/><path d="M178 138Q178 127 175 119M-1 161Q-2 143 9 133" stroke="#c5dbaa" stroke-width="2" stroke-opacity="0.6" fill="none" stroke-linecap="round"/><path d="M2 165Q6 155 8 149M40 122Q43 115 44 109M166 133Q167 121 160 110M70 120Q71 108 68 97M101 83Q96 73 94 67M140 72Q142 67 140 63" stroke="#9cc078" stroke-width="1.5" stroke-opacity="0.6" fill="none" stroke-linecap="round"/><path d="M152 77Q150 72 150 69M53 66Q54 60 54 54" stroke="#a9c78a" stroke-width="1" stroke-opacity="0.8" fill="none" stroke-linecap="round"/><path d="M173 156Q174 142 174 128M166 124Q169 117 168 112M113 112Q110 99 118 91M33 168Q31 156 40 147" stroke="#a9c78a" stroke-width="2" stroke-opacity="0.8" fill="none" stroke-linecap="round"/><path d="M151 59Q151 55 149 53M168 64Q170 58 169 51" stroke="#9cc078" stroke-width="1" stroke-opacity="0.6" fill="none" stroke-linecap="round"/><path d="M148 144Q143 135 144 127M161 68Q162 62 165 57M118 95Q119 88 116 83" stroke="#9cc078" stroke-width="1.5" stroke-opacity="0.8" fill="none" stroke-linecap="round"/><path d="M112 166Q115 158 112 151M123 103Q127 96 128 90M178 69Q180 62 178 55M85 163Q85 153 93 146M33 156Q36 142 32 129M132 129Q139 117 134 106M52 92Q48 84 48 78M43 95Q43 86 39 80" stroke="#a9c78a" stroke-width="1.5" stroke-opacity="0.8" fill="none" stroke-linecap="round"/><path d="M68 139Q69 125 78 117M81 109Q78 101 75 95" stroke="#9cc078" stroke-width="2" stroke-opacity="0.8" fill="none" stroke-linecap="round"/><path d="M70 70Q71 63 67 58M115 109Q113 101 113 94M113 77Q111 71 110 67" stroke="#c5dbaa" stroke-width="1" stroke-opacity="0.8" fill="none" stroke-linecap="round"/><path d="M118 111Q120 102 120 95M178 133Q178 125 179 117" stroke="#c5dbaa" stroke-width="1.5" stroke-opacity="0.6" fill="none" stroke-linecap="round"/><path d="M6 165Q10 153 12 144M77 136Q82 124 83 114" stroke="#9cc078" stroke-width="2" stroke-opacity="0.6" fill="none" stroke-linecap="round"/><path d="M135 68Q135 64 135 60M8 80Q9 73 5 67M160 73Q157 69 158 65" stroke="#9cc078" stroke-width="1" stroke-opacity="0.8" fill="none" stroke-linecap="round"/><path d="M121 137Q123 129 122 121" stroke="#c5dbaa" stroke-width="2" stroke-opacity="0.8" fill="none" stroke-linecap="round"/>
</g></g>
<g transform="translate(191.5,464)"><g clip-path="url(#cbm)">
<rect width="171.0" height="30" fill="url(#bmsky)"/>
<polygon points="98,24 104,15.5 112,13 125,11 137.5,8.3 152.2,6.6 171,7.5 171,24" fill="url(#bmhill2)" filter="url(#fbmh)"/>
<polygon points="0,24 0,6.3 6,5.6 13,4.6 18,3.2 22,1.4 27,0.8 47.5,0.5 64,0.8 72.1,2.3 80.3,5 88.5,8.5 93.3,12 100.5,15 104,24" fill="url(#bmhill)" filter="url(#fbmh)"/>
<path d="M4,9 Q30,4 55,3.5 M14,13 Q45,7 78,8 M30,3 Q55,1.5 68,3" stroke="#d0c6c0" stroke-opacity="0.4" stroke-width="2.2" fill="none"/>
<path d="M8,16 Q40,12 90,14" stroke="#6b6a7c" stroke-opacity="0.35" stroke-width="3" fill="none"/>
<path d="M138,21 L140,15 L144,14 L148,16 L152,13 L156,15 L160,12 L164,14 L168,13 L171,14 L171,21 Z" fill="#4a6452"/>
<rect x="0" y="20.5" width="171.0" height="5.5" fill="#7a7d8e" filter="url(#fbmh)"/>
<rect x="55.4" y="22.9" width="2.8" height="3.1" fill="#4a5062"/><rect x="140.4" y="23.0" width="2.5" height="3.0" fill="#3f4a55"/><rect x="36.7" y="23.5" width="2.4" height="2.5" fill="#5f6478"/><rect x="15.5" y="22.4" width="4.1" height="3.6" fill="#4a5062"/><rect x="162.0" y="23.0" width="5.2" height="3.0" fill="#4a5062"/><rect x="98.7" y="22.1" width="4.0" height="3.9" fill="#4a5062"/><rect x="95.2" y="23.5" width="2.7" height="2.5" fill="#3f4a55"/><rect x="20.1" y="22.5" width="3.5" height="3.5" fill="#5f6478"/><rect x="17.6" y="24.0" width="4.9" height="2.0" fill="#4a5062"/><rect x="93.7" y="24.4" width="2.3" height="1.6" fill="#5f6478"/><rect x="84.9" y="22.6" width="4.7" height="3.4" fill="#c9cad2"/><rect x="100.1" y="23.8" width="4.3" height="2.2" fill="#5f6478"/><rect x="119.5" y="23.1" width="3.2" height="2.9" fill="#3f4a55"/><rect x="84.7" y="23.4" width="3.7" height="2.6" fill="#3f4a55"/><rect x="167.6" y="23.5" width="2.6" height="2.5" fill="#a9abb8"/><rect x="26.0" y="24.4" width="4.4" height="1.6" fill="#4a5062"/><rect x="130.7" y="22.3" width="4.9" height="3.7" fill="#a9abb8"/><rect x="58.2" y="23.3" width="3.8" height="2.7" fill="#c9cad2"/><rect x="11.8" y="23.8" width="2.5" height="2.2" fill="#4a5062"/><rect x="10.4" y="22.9" width="5.5" height="3.1" fill="#c9cad2"/><rect x="48.7" y="22.8" width="3.9" height="3.2" fill="#4a5062"/><rect x="160.9" y="23.0" width="3.8" height="3.0" fill="#c9cad2"/><rect x="10.1" y="24.2" width="5.8" height="1.8" fill="#5f6478"/><rect x="68.0" y="23.3" width="6.6" height="2.7" fill="#5f6478"/><rect x="76.8" y="22.3" width="4.7" height="3.7" fill="#c9cad2"/><rect x="147.7" y="23.5" width="3.4" height="2.5" fill="#a9abb8"/><rect x="116.7" y="23.9" width="3.9" height="2.1" fill="#4a5062"/><rect x="30.1" y="23.9" width="3.2" height="2.1" fill="#c9cad2"/><rect x="142.1" y="23.8" width="2.9" height="2.2" fill="#5f6478"/><rect x="71.6" y="23.1" width="3.8" height="2.9" fill="#5f6478"/><rect x="118.1" y="23.0" width="4.6" height="3.0" fill="#4a5062"/><rect x="78.1" y="22.1" width="6.4" height="3.9" fill="#3f4a55"/><rect x="67.1" y="24.2" width="4.0" height="1.8" fill="#c9cad2"/><rect x="10.6" y="24.0" width="2.3" height="2.0" fill="#5f6478"/><rect x="18.8" y="24.2" width="5.0" height="1.8" fill="#3f4a55"/><rect x="25.9" y="23.6" width="2.5" height="2.4" fill="#4a5062"/><rect x="12.0" y="23.6" width="3.0" height="2.4" fill="#a9abb8"/><rect x="163.4" y="23.3" width="5.0" height="2.7" fill="#4a5062"/><rect x="145.2" y="23.3" width="7.0" height="2.7" fill="#c9cad2"/><rect x="53.3" y="22.6" width="2.7" height="3.4" fill="#a9abb8"/><rect x="81.8" y="23.2" width="5.5" height="2.8" fill="#5f6478"/><rect x="162.6" y="24.1" width="4.6" height="1.9" fill="#3f4a55"/><rect x="156.3" y="23.8" width="5.8" height="2.2" fill="#4a5062"/><rect x="119.0" y="23.6" width="3.3" height="2.4" fill="#5f6478"/><rect x="60.8" y="23.1" width="3.1" height="2.9" fill="#3f4a55"/>
<rect x="110" y="18.5" width="28" height="5" fill="#c0c2cc"/>
<rect x="91.5" y="14.5" width="22" height="9.5" fill="#a09a9e"/>
<rect x="96.3" y="7.5" width="3.2" height="15" fill="#b9bac6"/>
<rect x="104.5" y="7.5" width="3.2" height="15" fill="#c4c5d0"/>
<rect x="93" y="16.5" width="6" height="5.5" fill="#9c817e"/>
<rect x="0" y="25.6" width="171.0" height="3.6" fill="#dccfc0"/>
<rect x="0" y="29" width="171.0" height="128.79999999999995" fill="url(#bmfield)" filter="url(#fbm)"/>
<path d="M0 34.4L28 35.8L57 37.3L86 39.1L114 40.3L142 41.9L171 43.4M0 50.2L28 53.2L57 55.5L86 57.1L114 59.6L142 62.5L171 64.5M0 53.5L28 56.9L57 59.8L86 62.6L114 64.4L142 67.8L171 70.5M0 58.6L28 61.7L57 63.8L86 67.6L114 69.9L142 72.9L171 76.5M0 67.3L28 70.9L57 74.2L86 77.5L114 81.2L142 85.1L171 87.8M0 72.4L28 75.7L57 79.9L86 84.0L114 87.7L142 90.9L171 95.9" stroke="#8c7668" stroke-opacity="0.45" stroke-width="1" fill="none"/>
<path d="M0 30.3L28 31.4L57 33.3L86 34.8L114 35.8L142 37.0L171 38.2M0 33.3L28 34.0L57 35.8L86 36.9L114 37.9L142 39.3L171 41.0M0 35.4L28 37.4L57 39.3L86 40.2L114 42.3L142 43.9L171 45.4M0 38.4L28 39.9L57 41.6L86 43.3L114 45.0L142 47.1L171 49.2M0 42.0L28 43.5L57 45.5L86 47.6L114 48.6L142 51.1L171 53.3M0 45.2L28 47.3L57 49.0L86 50.7L114 53.5L142 55.0L171 57.6M0 49.0L28 50.5L57 52.8L86 55.7L114 57.7L142 59.3L171 61.5M0 51.7L28 55.1L57 57.5L86 59.2L114 62.5L142 65.1L171 67.2M0 56.0L28 58.9L57 61.2L86 63.7L114 67.6L142 69.9L171 72.4M0 61.0L28 63.4L57 66.8L86 69.7L114 71.9L142 74.9L171 77.9M0 64.8L28 68.4L57 71.2L86 74.6L114 77.5L142 81.7L171 84.2M0 70.0L28 73.6L57 77.5L86 80.4L114 84.5L142 87.5L171 91.0M0 75.3L28 78.5L57 82.8L86 86.3L114 89.9L142 94.6L171 97.7M0 80.9L28 85.3L57 89.2L86 93.1L114 97.4L142 101.6L171 106.0M0 86.5L28 91.5L57 95.6L86 100.1L114 105.2L142 109.3L171 113.8" stroke="#40323a" stroke-opacity="0.55" stroke-width="1.3" fill="none"/>
<path d="M0 92.4L28 97.7L57 102.0L86 108.6L114 112.2L142 116.7L171 122.3M0 101.3L28 106.3L57 110.2L86 115.2L114 122.3L142 126.7L171 132.2M0 106.7L28 112.3L57 119.4L86 124.5L114 129.3L142 137.0L171 142.0M0 116.3L28 120.7L57 128.7L86 132.9L114 140.9L142 146.0L171 151.9M0 124.1L28 131.6L57 136.7L86 142.9L114 150.5L142 156.4L171 162.7M0 132.2L28 139.1L57 146.6L86 154.0L114 161.1L142 169.3L171 175.3M0 142.7L28 149.6L57 157.7L86 164.6L114 172.8L142 180.0L171 189.4M0 153.2L28 160.6L57 169.6L86 178.9L114 185.2L142 195.2L171 202.6M0 164.1L28 173.8L57 181.7L86 190.9L114 200.2L142 209.9L171 217.2M0 176.8L28 186.1L57 195.5L86 204.5L114 214.0L142 222.9L171 232.7M0 187.6L28 199.5L57 208.7L86 218.8L114 228.9L142 241.1L171 251.5M0 202.6L28 212.8L57 223.8L86 235.0L114 246.5L142 256.9L171 268.7M0 216.1L28 229.7L57 241.7L86 252.6L114 263.8L142 277.5L171 287.9" stroke="#30262a" stroke-opacity="0.6" stroke-width="3.6" fill="none"/>
<path d="M0 89.6L28 93.8L57 99.4L86 104.4L114 109.3L142 113.6L171 119.0M0 95.6L28 101.4L57 106.3L86 112.1L114 116.6L142 121.8L171 127.6M0 103.2L28 109.6L57 115.1L86 121.2L114 126.7L142 132.5L171 138.5M0 111.1L28 117.1L57 124.5L86 129.0L114 136.3L142 142.2L171 147.1M0 120.2L28 126.9L57 133.0L86 139.8L114 146.5L142 151.8L171 159.2M0 128.2L28 136.0L57 143.1L86 150.2L114 156.9L142 164.6L171 171.3M0 137.9L28 144.7L57 152.0L86 159.9L114 168.0L142 175.2L171 184.3M0 147.6L28 156.1L57 164.3L86 172.7L114 180.6L142 187.9L171 197.8M0 158.7L28 167.1L57 176.1L86 185.3L114 193.0L142 203.3L171 211.2M0 168.8L28 178.8L57 189.3L86 197.8L114 208.5L142 218.6L171 227.2M0 181.6L28 192.1L57 202.9L86 213.4L114 223.4L142 233.8L171 243.0M0 194.2L28 205.6L57 217.6L86 227.9L114 239.5L142 249.5L171 260.7M0 208.5L28 221.2L57 233.2L86 245.1L114 256.3L142 268.7L171 280.5" stroke="#8e7262" stroke-opacity="0.6" stroke-width="3.4" fill="none"/>
<rect y="30" width="171.0" height="127.79999999999995" fill="url(#bmpm)" filter="url(#sbm)"/>
<rect y="30" width="171.0" height="127.79999999999995" fill="url(#bmpm)" filter="url(#sbmb)"/>
<path d="M79 102Q80 100 78 99M70 113Q70 114 70 115M134 114Q133 113 131 112M37 125Q35 125 33 126M155 121Q155 122 155 123M126 109Q126 109 128 111M137 120Q135 119 134 120M91 95Q90 95 90 96M33 100Q34 100 35 101" stroke="#8fb656" stroke-width="1" stroke-opacity="0.6" fill="none" stroke-linecap="round"/><path d="M87 157Q90 153 92 153M32 96Q33 95 34 94M84 100Q82 100 81 101M74 143Q75 141 75 140M61 151Q63 150 63 150M140 99Q140 98 139 98M155 131Q157 130 158 129M115 95Q115 97 116 98M142 120Q142 119 143 118M62 119Q61 117 60 116M171 140Q172 138 174 137M114 107Q113 106 113 106M116 136Q118 137 119 140M81 130Q80 130 78 132" stroke="#6f9a45" stroke-width="1" stroke-opacity="0.6" fill="none" stroke-linecap="round"/><path d="M90 155Q89 156 88 158M19 153Q18 155 19 157M102 155Q104 155 106 157" stroke="#7fa84e" stroke-width="2" stroke-opacity="0.6" fill="none" stroke-linecap="round"/><path d="M154 120Q153 120 151 121M108 133Q111 132 113 133M137 132Q138 131 140 130M130 116Q130 113 132 112M145 145Q144 144 141 145" stroke="#8fb656" stroke-width="1.5" stroke-opacity="0.6" fill="none" stroke-linecap="round"/><path d="M52 148Q53 149 52 151" stroke="#6f9a45" stroke-width="2" stroke-opacity="0.8" fill="none" stroke-linecap="round"/><path d="M47 118Q46 118 44 118M66 106Q67 104 66 103M76 104Q75 103 75 103M162 109Q163 108 163 108M4 133Q2 130 2 128M113 115Q114 115 116 117" stroke="#5f8a3c" stroke-width="1" stroke-opacity="0.8" fill="none" stroke-linecap="round"/><path d="M46 98Q46 99 48 100M2 144Q1 144 -1 146M86 108Q88 106 88 104M85 96Q86 94 86 93M174 101Q174 102 173 104M15 97Q15 98 14 100M54 105Q55 106 56 108M149 112Q149 110 149 109" stroke="#5f8a3c" stroke-width="1" stroke-opacity="0.6" fill="none" stroke-linecap="round"/><path d="M63 155Q62 157 60 161M163 151Q164 150 166 151" stroke="#7fa84e" stroke-width="2" stroke-opacity="0.8" fill="none" stroke-linecap="round"/><path d="M4 141Q4 143 4 145M99 118Q101 117 103 118M50 124Q52 125 52 128M48 113Q48 111 48 110M9 97Q10 96 12 97M4 104Q6 102 7 102M147 98Q147 96 148 95M150 134Q149 132 149 130M54 119Q53 120 52 122M86 153Q86 151 86 149M89 126Q87 126 86 126M168 129Q167 129 165 131M50 120Q49 119 46 121" stroke="#7fa84e" stroke-width="1" stroke-opacity="0.6" fill="none" stroke-linecap="round"/><path d="M112 122Q112 123 111 125M176 154Q176 151 174 150M54 157Q50 156 48 157M114 123Q113 122 111 123M136 96Q134 96 134 97" stroke="#8fb656" stroke-width="1" stroke-opacity="0.8" fill="none" stroke-linecap="round"/><path d="M23 156Q22 157 21 159M53 139Q54 136 54 135" stroke="#6f9a45" stroke-width="2" stroke-opacity="0.6" fill="none" stroke-linecap="round"/><path d="M70 136Q70 134 69 133M7 134Q5 131 4 131M145 105Q145 106 144 107M-5 108Q-7 107 -8 108M120 128Q123 126 124 127" stroke="#7fa84e" stroke-width="1" stroke-opacity="0.8" fill="none" stroke-linecap="round"/><path d="M-1 132Q-1 134 0 136M11 105Q12 104 14 104M52 134Q53 133 54 133M82 96Q84 95 85 97" stroke="#5f8a3c" stroke-width="1.5" stroke-opacity="0.8" fill="none" stroke-linecap="round"/><path d="M173 123Q172 122 171 122M41 133Q39 130 40 129M-4 152Q-5 153 -6 155M46 128Q44 125 43 125M-5 117Q-4 116 -3 116M65 126Q63 124 61 125" stroke="#7fa84e" stroke-width="1.5" stroke-opacity="0.6" fill="none" stroke-linecap="round"/><path d="M125 115Q124 114 122 115M110 112Q112 111 112 111M88 114Q88 115 86 118M48 134Q48 132 50 132M27 114Q26 113 24 114M74 152Q74 153 76 155M86 119Q85 117 85 115M5 147Q4 149 4 153" stroke="#6f9a45" stroke-width="1.5" stroke-opacity="0.6" fill="none" stroke-linecap="round"/><path d="M171 106Q172 105 173 105" stroke="#6f9a45" stroke-width="1" stroke-opacity="0.8" fill="none" stroke-linecap="round"/><path d="M17 111Q15 111 15 113" stroke="#6f9a45" stroke-width="1.5" stroke-opacity="0.8" fill="none" stroke-linecap="round"/><path d="M60 150Q63 150 64 152" stroke="#8fb656" stroke-width="2" stroke-opacity="0.8" fill="none" stroke-linecap="round"/><path d="M156 153Q155 150 157 147M1 104Q-2 103 -2 103M19 145Q19 142 20 140M89 101Q88 100 86 100M15 135Q15 136 14 138M14 108Q13 107 12 107M13 131Q14 133 14 135M167 108Q168 107 169 106M41 119Q40 118 39 118" stroke="#5f8a3c" stroke-width="1.5" stroke-opacity="0.6" fill="none" stroke-linecap="round"/><path d="M9 152Q7 151 6 152M18 124Q17 122 17 120" stroke="#7fa84e" stroke-width="1.5" stroke-opacity="0.8" fill="none" stroke-linecap="round"/><path d="M133 152Q135 153 137 155" stroke="#8fb656" stroke-width="2" stroke-opacity="0.6" fill="none" stroke-linecap="round"/><path d="M163 151Q166 149 168 149M21 133Q21 135 21 136" stroke="#8fb656" stroke-width="1.5" stroke-opacity="0.8" fill="none" stroke-linecap="round"/><path d="M136 146Q138 145 140 145M23 152Q22 149 20 147" stroke="#5f8a3c" stroke-width="2" stroke-opacity="0.6" fill="none" stroke-linecap="round"/>
</g></g>
<g transform="translate(372,463.6)"><g clip-path="url(#cbr)">
<rect width="171" height="6" fill="#e4e2de" filter="url(#fbrt)"/>
<rect x="28.2" y="2.2" width="2.7" height="2.8" fill="#b0a8a0" opacity="0.8"/>
<rect x="144.2" y="2.6" width="3.5" height="2.4" fill="#c8c0b4" opacity="0.8"/>
<rect x="31.4" y="1.9" width="2.3" height="3.1" fill="#6f7080" opacity="0.8"/>
<rect x="63.4" y="3.4" width="2.5" height="1.6" fill="#9a9aa6" opacity="0.8"/>
<rect x="157.6" y="2.6" width="2.7" height="2.4" fill="#b0a8a0" opacity="0.8"/>
<rect x="105.3" y="2.8" width="1.1" height="2.2" fill="#b0a8a0" opacity="0.8"/>
<rect x="118.7" y="1.6" width="2.6" height="3.4" fill="#6f7080" opacity="0.8"/>
<rect x="26.5" y="3.3" width="3.0" height="1.7" fill="#6f7080" opacity="0.8"/>
<rect x="77.5" y="2.8" width="2.4" height="2.2" fill="#b0a8a0" opacity="0.8"/>
<rect x="25.8" y="2.6" width="2.7" height="2.4" fill="#9a9aa6" opacity="0.8"/>
<rect x="12.8" y="2.2" width="1.5" height="2.8" fill="#c8c0b4" opacity="0.8"/>
<rect x="169.1" y="2.4" width="1.2" height="2.6" fill="#c8c0b4" opacity="0.8"/>
<rect x="141.4" y="1.7" width="1.5" height="3.3" fill="#c8c0b4" opacity="0.8"/>
<rect x="70.0" y="2.6" width="1.9" height="2.4" fill="#b0a8a0" opacity="0.8"/>
<rect x="54.4" y="3.0" width="2.2" height="2.0" fill="#6f7080" opacity="0.8"/>
<rect x="27.2" y="1.5" width="2.8" height="3.5" fill="#6f7080" opacity="0.8"/>
<rect x="84.1" y="2.0" width="2.4" height="3.0" fill="#9a9aa6" opacity="0.8"/>
<rect x="97.7" y="1.5" width="1.8" height="3.5" fill="#6f7080" opacity="0.8"/>
<rect y="5" width="171" height="7" fill="#dcd4ba" filter="url(#fbrt)"/>
<rect y="10" width="171" height="2.5" fill="#c2c9a2" opacity="0.8"/>
<rect y="12" width="171" height="147.0" fill="url(#brg)" filter="url(#fbr)"/>
<rect y="13" width="171" height="146.0" fill="url(#brm)" filter="url(#sbrd)"/>
<rect y="12" width="171" height="147.0" fill="url(#brm)" filter="url(#sbrl)"/>
<rect y="11.5" width="171" height="14" fill="url(#brhz)"/>
<path d="M28 45Q28 40 27 42M59 44Q60 39 61 41M148 52Q148 48 149 50M148 52Q148 48 150 50M8 24Q8 22 7 23M166 36Q167 33 168 34M172 27Q172 23 170 25M174 26Q173 24 171 25M119 23Q119 21 121 22M119 23Q119 20 119 21M36 27Q35 22 33 25" stroke="#2c5220" stroke-width="1" stroke-opacity="0.4" fill="none" stroke-linecap="round"/><path d="M28 45Q29 43 31 44M27 30Q27 26 28 28M61 43Q61 37 61 39M61 43Q61 38 59 40M59 44Q59 40 58 41M134 48Q136 43 140 46M46 34Q48 31 50 32M58 46Q57 39 55 42M105 23Q104 19 104 21M44 25Q44 21 43 22M14 69Q16 62 19 65M172 27Q171 24 168 26M24 70Q26 66 30 69M37 25Q37 24 39 25M2 31Q2 29 3 30M48 39Q48 34 47 36" stroke="#2c5220" stroke-width="1" stroke-opacity="0.6" fill="none" stroke-linecap="round"/><path d="M28 45Q29 40 31 42M151 78Q148 73 143 76M-3 100Q-3 90 -5 94M-1 106Q2 101 7 105M66 112Q63 106 57 110M131 108Q127 101 118 107M23 65Q21 61 17 64M82 68Q80 58 75 63M162 65Q163 61 165 63M43 103Q41 90 37 95M87 101Q89 90 93 95M56 37Q56 34 56 35M8 37Q8 32 8 34M95 107Q94 95 94 99M24 90Q22 79 17 84M151 39Q152 37 153 38M58 46Q56 42 52 44M2 91Q1 81 0 85M93 82Q92 68 90 73M140 99Q141 93 143 96M123 90Q126 83 131 87M89 100Q92 95 97 98M6 38Q8 35 11 37M26 61Q25 54 24 57M119 84Q121 77 123 80M164 36Q163 32 161 34M110 50Q109 41 107 45M110 50Q109 43 108 46M95 114Q97 100 102 106M127 76Q127 70 125 73M55 49Q54 45 53 47M53 73Q50 70 46 72M48 78Q49 70 50 73M172 69Q172 60 173 64M172 69Q170 60 167 64M152 33Q151 30 149 32M13 81Q12 78 9 80M132 66Q132 59 132 62" stroke="#36602a" stroke-width="1.5" stroke-opacity="0.6" fill="none" stroke-linecap="round"/><path d="M25 129Q25 120 25 123M151 78Q148 69 144 74M151 78Q149 70 147 73M0 117Q-0 109 -1 112M-3 100Q-0 92 3 96M126 109Q126 100 125 104M46 135Q49 127 54 132M87 101Q89 86 92 92M61 75Q59 69 56 72M124 158Q121 145 115 151M70 116Q74 110 81 114M152 138Q149 125 144 131M89 100Q88 91 86 94M107 118Q108 100 109 107M40 78Q39 72 37 75M33 146Q38 133 47 140M4 126Q9 116 17 122M63 135Q62 116 60 123M48 115Q46 100 44 106M50 104Q53 95 57 100M120 104Q117 93 111 98M5 127Q2 120 -3 124M-0 91Q2 79 7 85M168 92Q167 84 164 88" stroke="#2c5220" stroke-width="2" stroke-opacity="0.4" fill="none" stroke-linecap="round"/><path d="M25 129Q22 122 16 127M142 164Q144 150 149 156M116 111Q112 106 106 110M59 110Q60 101 62 105M87 154Q87 134 86 142M5 119Q5 105 3 110M39 163Q37 139 33 148M166 109Q167 103 169 106M148 156Q148 145 148 149M60 121Q64 113 71 118" stroke="#36602a" stroke-width="3" stroke-opacity="0.4" fill="none" stroke-linecap="round"/><path d="M25 129Q23 118 20 123M0 117Q-2 111 -5 114M-1 106Q-3 100 -6 103M66 112Q62 106 57 110M66 112Q69 107 74 111M131 108Q128 97 123 102M85 151Q83 139 79 144M152 151Q151 131 149 139M130 82Q131 76 131 78M95 107Q95 98 95 102M2 91Q-0 82 -5 87M70 116Q73 108 77 112M7 102Q10 93 16 98M38 136Q36 115 33 123M131 130Q136 121 146 127M80 135Q75 125 65 131M99 148Q94 131 86 139M23 89Q25 81 29 85M4 126Q2 117 -2 121M11 88Q11 81 12 84M48 115Q50 107 53 110M39 163Q32 151 22 159M35 97Q37 90 41 94M35 97Q34 89 33 92M157 139Q156 128 154 132M166 109Q166 102 164 105M3 160Q1 149 -2 154M50 112Q49 103 47 106M95 148Q99 139 105 144M168 92Q168 83 168 86M74 146Q69 136 60 142M33 127Q38 119 49 126M72 114Q75 105 81 110M72 114Q76 107 81 111M72 114Q71 100 69 106" stroke="#2c5220" stroke-width="2.5" stroke-opacity="0.6" fill="none" stroke-linecap="round"/><path d="M27 30Q28 28 30 30M111 28Q112 25 112 26M151 39Q151 36 152 37M84 24Q83 21 83 22M84 24Q83 20 83 22M105 23Q104 19 104 20M172 27Q172 24 170 25M24 70Q23 63 20 66M174 26Q175 23 176 24M174 26Q175 24 176 25M164 36Q165 33 168 34M46 43Q47 41 50 43M2 31Q1 29 -0 30M88 68Q87 60 86 63M33 60Q33 56 32 57" stroke="#36602a" stroke-width="1" stroke-opacity="0.4" fill="none" stroke-linecap="round"/><path d="M61 43Q60 40 57 42M173 44Q173 40 171 42M173 44Q173 40 173 42M115 110Q112 101 108 105M148 52Q149 50 152 52M23 65Q21 62 18 64M5 125Q4 108 3 114M134 48Q135 39 136 43M56 37Q56 33 55 35M56 37Q57 34 58 35M171 58Q173 53 175 55M171 58Q174 54 178 57M61 84Q61 76 62 79M140 99Q137 93 132 97M107 118Q103 110 95 115M29 97Q31 90 35 94M14 69Q11 62 6 66M76 66Q78 62 82 65M119 84Q119 77 118 80M35 97Q38 89 42 93M157 81Q159 76 163 79M14 77Q16 70 18 73M152 33Q153 30 156 32M132 66Q131 62 128 65M48 39Q48 33 49 35" stroke="#36602a" stroke-width="1.5" stroke-opacity="0.4" fill="none" stroke-linecap="round"/><path d="M69 161Q64 148 54 155M69 161Q64 152 55 158M0 117Q2 107 5 112M59 110Q63 105 70 109M127 166Q131 160 139 165M127 166Q121 156 109 164M66 112Q65 103 65 106M26 162Q30 151 37 157M5 125Q5 112 5 117M89 126Q88 116 86 120M87 101Q86 85 84 91M-0 117Q-2 110 -6 113M156 122Q154 116 150 119M17 109Q19 105 22 107M123 90Q126 81 132 86M53 96Q56 92 61 96M99 148Q103 136 110 142M63 135Q64 122 65 127M39 163Q45 152 57 160M34 137Q32 120 29 127M166 109Q168 101 171 104M3 160Q6 149 12 155M29 156Q29 140 29 146M58 162Q62 154 69 159M140 136Q143 125 148 130M15 129Q13 112 10 118M94 142Q91 130 87 135M74 146Q79 132 87 140M143 131Q140 122 135 126M97 162Q100 150 104 155" stroke="#36602a" stroke-width="2.5" stroke-opacity="0.6" fill="none" stroke-linecap="round"/><path d="M54 93Q52 85 47 89M54 93Q54 83 54 87M173 44Q172 42 169 44M59 44Q59 40 59 41M148 52Q148 49 148 50M134 48Q135 42 137 44M102 91Q103 80 105 84M61 75Q61 69 61 71M56 37Q57 32 58 34M111 28Q111 25 109 26M8 37Q9 34 9 35M46 34Q46 31 45 32M95 107Q92 99 87 103M24 90Q23 79 21 84M58 46Q59 41 62 43M38 100Q38 83 38 89M123 90Q122 83 120 86M14 69Q12 60 9 64M26 61Q27 57 28 58M26 61Q25 54 23 57M11 88Q12 83 15 85M50 104Q50 94 51 97M110 50Q110 44 112 46M24 81Q24 75 25 77M127 76Q129 74 132 76M123 124Q126 115 130 120M14 77Q16 67 19 71M88 68Q87 62 86 64M33 60Q35 55 37 57M8 33Q9 31 10 32M8 33Q8 29 7 30M48 39Q49 35 50 37" stroke="#2c5220" stroke-width="1.5" stroke-opacity="0.6" fill="none" stroke-linecap="round"/><path d="M151 78Q148 71 144 75M108 132Q111 116 116 123M59 110Q56 99 52 104M115 110Q117 100 121 104M115 110Q117 102 121 106M131 108Q129 98 124 103M85 151Q88 135 94 142M162 65Q163 60 165 63M5 119Q6 107 8 112M5 119Q1 113 -5 117M24 90Q21 81 15 86M99 80Q101 74 104 77M152 96Q154 91 156 94M174 90Q177 81 181 85M2 91Q3 83 5 86M93 82Q92 74 92 77M70 116Q68 107 65 111M28 75Q31 71 35 74M40 78Q38 73 34 76M40 78Q38 74 34 76M99 148Q101 132 106 139M119 84Q121 79 125 82M27 77Q24 71 19 75M56 74Q55 70 52 72M56 74Q59 65 62 69M56 74Q57 66 59 70M35 97Q32 85 27 91M92 70Q92 62 93 65M92 70Q93 65 96 67M95 114Q97 105 101 110M148 156Q151 140 155 147M127 76Q126 71 124 73M85 109Q85 99 85 103M30 75Q32 65 36 69M158 139Q156 117 153 126M53 73Q53 65 54 68M50 112Q51 103 53 107M50 112Q51 106 54 109M123 124Q119 117 111 122M130 109Q130 97 131 101M157 81Q158 78 160 80M15 129Q20 118 30 125M21 135Q23 124 25 128M94 142Q99 131 109 138M14 77Q15 67 15 70M13 81Q12 76 12 78M132 66Q131 62 127 65M33 127Q37 118 44 124" stroke="#36602a" stroke-width="2" stroke-opacity="0.6" fill="none" stroke-linecap="round"/><path d="M142 164Q144 150 147 155M124 158Q125 144 127 149M109 154Q106 138 102 145M3 160Q4 142 5 149M62 163Q65 144 71 152M74 146Q68 137 57 144M97 162Q101 154 107 159" stroke="#2c5220" stroke-width="3.5" stroke-opacity="0.6" fill="none" stroke-linecap="round"/><path d="M142 164Q147 148 155 156M108 132Q104 117 96 124M174 154Q181 143 194 152M26 162Q25 151 23 155M152 151Q152 130 152 138M46 135Q43 131 38 134M89 126Q93 118 98 123M87 154Q87 137 86 143M99 148Q95 138 88 144M134 143Q129 135 121 141M157 139Q155 129 152 133M158 138Q157 124 156 129M158 138Q158 123 158 129M158 138Q157 119 155 127M58 162Q64 153 74 160M158 139Q154 122 149 129M140 136Q143 127 150 132M5 127Q6 112 7 117M15 129Q20 123 27 128M15 129Q13 111 10 118M88 158Q87 148 86 152" stroke="#2c5220" stroke-width="3" stroke-opacity="0.6" fill="none" stroke-linecap="round"/><path d="M108 132Q110 114 113 121M174 154Q174 129 175 139M46 135Q42 129 36 134M5 119Q7 104 11 110M70 116Q74 108 80 113M30 111Q30 97 29 102M38 136Q44 127 55 134M168 121Q169 106 172 112M149 112Q151 100 153 105M95 148Q93 139 89 143M21 135Q22 126 24 129" stroke="#2c5220" stroke-width="3" stroke-opacity="0.4" fill="none" stroke-linecap="round"/><path d="M108 132Q104 124 97 129M85 151Q85 138 85 143M66 127Q63 123 57 126M152 138Q155 133 161 137M131 130Q134 124 140 128M4 126Q-1 119 -9 124M63 135Q60 121 55 127M34 137Q30 129 22 135M58 162Q55 153 50 157M149 112Q149 99 148 104M5 127Q2 122 -4 126M94 142Q91 127 85 134M74 146Q73 132 71 138" stroke="#36602a" stroke-width="3" stroke-opacity="0.6" fill="none" stroke-linecap="round"/><path d="M173 44Q173 40 172 42M23 65Q24 59 26 62M82 68Q84 60 88 64M111 28Q113 25 115 27M111 28Q113 25 115 27M8 37Q10 35 11 37M8 37Q10 34 12 36M46 34Q47 31 49 32M151 39Q149 37 147 39M8 24Q7 23 6 24M166 36Q165 33 162 35M166 36Q167 34 168 35M166 36Q166 34 167 35M172 27Q172 24 171 25M24 70Q23 63 21 66M37 25Q36 22 36 23M110 50Q110 42 111 45M117 29Q116 27 115 28M117 29Q117 26 119 28M117 29Q117 26 116 27M46 43Q45 39 43 41M46 43Q48 40 51 42M119 23Q119 19 120 21M2 31Q3 29 3 30M36 27Q37 24 39 26M36 27Q36 23 38 25M36 27Q36 23 37 25M8 33Q9 29 11 31M65 39Q64 34 61 37M65 39Q65 34 65 36" stroke="#36602a" stroke-width="1" stroke-opacity="0.6" fill="none" stroke-linecap="round"/><path d="M116 111Q116 105 116 107M126 109Q125 94 122 100M20 133Q22 122 25 127M24 90Q25 82 27 85M140 99Q143 94 148 97M30 111Q28 103 25 106M107 118Q108 99 109 106M7 102Q5 89 1 94M45 107Q43 102 39 105M45 107Q43 104 40 106M50 104Q52 95 55 99M168 121Q171 105 176 112M140 136Q141 123 143 128M62 163Q59 149 55 155M5 127Q7 115 10 120M50 112Q51 106 53 109M130 109Q131 99 133 103M94 142Q95 126 96 132M33 127Q37 118 46 124" stroke="#36602a" stroke-width="2.5" stroke-opacity="0.4" fill="none" stroke-linecap="round"/><path d="M-3 100Q-4 94 -8 97M23 65Q24 62 27 64M134 48Q136 44 141 47M102 91Q102 80 102 84M99 80Q96 71 91 76M152 96Q154 92 158 95M62 105Q62 92 63 97M6 38Q7 35 9 37M28 75Q30 65 32 69M7 102Q9 91 14 96M26 61Q27 54 28 57M76 66Q76 56 77 60M168 121Q164 105 158 112M92 70Q90 66 86 69M166 109Q168 101 172 105M127 76Q128 69 130 72M55 49Q56 45 57 47M85 109Q83 103 80 106M130 109Q131 101 132 104M157 81Q158 77 162 79M48 78Q50 71 52 74M33 60Q33 56 33 58M8 33Q7 31 6 32" stroke="#2c5220" stroke-width="1.5" stroke-opacity="0.4" fill="none" stroke-linecap="round"/><path d="M-1 106Q-0 97 1 100M20 133Q23 125 29 129M157 130Q154 119 147 125M66 127Q70 119 76 124M87 101Q85 91 80 96M152 96Q150 91 146 94M-0 117Q-2 108 -6 112M109 154Q107 134 103 142M156 122Q155 113 153 116M17 109Q19 99 22 103M89 100Q90 93 91 96M131 130Q132 116 133 122M53 96Q55 88 59 92M27 77Q28 67 30 71M168 121Q167 102 166 109M24 81Q25 77 27 79M149 112Q151 107 155 110M168 92Q170 85 172 88M172 69Q170 65 166 68" stroke="#36602a" stroke-width="2" stroke-opacity="0.4" fill="none" stroke-linecap="round"/><path d="M-1 106Q-3 102 -6 104M126 109Q123 99 117 104M126 109Q130 97 135 103M131 108Q133 98 135 102M157 130Q161 124 168 129M82 68Q79 61 75 65M82 68Q79 59 75 63M66 127Q64 115 61 120M43 103Q44 90 45 95M130 82Q130 75 130 78M61 75Q59 70 55 73M95 107Q96 99 98 102M99 80Q98 71 96 75M174 90Q172 81 167 85M156 122Q154 113 151 117M61 84Q62 75 64 78M61 84Q62 79 65 82M31 115Q27 109 20 114M31 115Q33 106 36 110M50 160Q55 152 63 158M62 105Q60 97 57 101M28 75Q26 69 21 73M29 97Q30 86 32 91M38 136Q34 120 26 128M76 66Q74 58 71 61M80 135Q76 121 69 127M80 135Q82 124 85 129M23 89Q22 80 20 84M45 107Q45 99 45 102M4 126Q4 114 6 119M48 115Q44 108 37 113M39 163Q35 140 28 149M50 104Q46 98 40 103M24 81Q23 77 23 78M92 124Q89 112 83 118M30 75Q28 70 25 73M30 75Q32 70 36 73M140 136Q139 126 138 130M130 109Q127 103 123 106M157 81Q159 75 162 78M-0 91Q3 83 8 87M143 131Q144 117 146 122M88 68Q87 61 84 64M97 162Q97 146 97 152M72 114Q75 106 79 110" stroke="#2c5220" stroke-width="2" stroke-opacity="0.6" fill="none" stroke-linecap="round"/><path d="M127 166Q121 157 111 164M50 160Q47 140 43 148M134 143Q135 123 137 130M157 139Q154 126 148 132M158 138Q157 122 154 129M3 160Q3 145 4 151" stroke="#36602a" stroke-width="3.5" stroke-opacity="0.6" fill="none" stroke-linecap="round"/><path d="M85 151Q85 135 85 141M33 146Q32 124 32 133M29 156Q32 145 37 150M86 156Q83 140 77 147" stroke="#36602a" stroke-width="3.5" stroke-opacity="0.4" fill="none" stroke-linecap="round"/><path d="M-0 117Q-1 106 -2 110M2 91Q5 85 11 89M38 100Q34 91 27 96M123 90Q125 82 130 86M89 100Q91 96 93 98M29 97Q29 86 29 90M38 136Q42 119 49 126M80 135Q76 125 71 130M63 135Q63 123 64 127M34 137Q37 127 44 132M120 104Q122 91 126 96M92 124Q88 113 82 119M86 156Q82 146 75 152M60 121Q56 109 48 116M-0 91Q1 83 3 86M88 158Q86 150 81 154M97 162Q100 153 106 158" stroke="#2c5220" stroke-width="2.5" stroke-opacity="0.4" fill="none" stroke-linecap="round"/><path d="M44 25Q45 22 47 24" stroke="#2c5220" stroke-width="0.5" stroke-opacity="0.4" fill="none" stroke-linecap="round"/><path d="M117 29Q116 27 115 28" stroke="#36602a" stroke-width="0.5" stroke-opacity="0.6" fill="none" stroke-linecap="round"/><path d="M119 23Q118 19 118 20" stroke="#2c5220" stroke-width="0.5" stroke-opacity="0.6" fill="none" stroke-linecap="round"/><path d="M86 156Q89 137 94 145" stroke="#2c5220" stroke-width="3.5" stroke-opacity="0.4" fill="none" stroke-linecap="round"/>
<path d="M113 89Q116 84 123 88M79 84Q78 78 77 80M5 64Q3 59 0 61M161 110Q159 95 156 101M143 70Q142 64 139 67M154 82Q152 76 148 80M56 79Q58 76 61 78M95 93Q97 86 99 89M21 99Q20 92 17 95M75 110Q73 98 69 103M1 109Q-2 104 -8 108M14 96Q13 88 10 91M135 106Q139 96 146 102M135 106Q138 96 144 101M113 99Q115 93 118 96M127 138Q126 125 124 130M48 165Q43 143 35 153M86 93Q83 84 77 89M51 115Q51 104 51 108" stroke="#c2da92" stroke-width="1.5" stroke-opacity="0.6" fill="none" stroke-linecap="round"/><path d="M113 89Q111 81 108 84M113 89Q116 80 121 85M79 84Q78 76 74 79M65 103Q62 90 57 96M5 64Q7 60 10 63M159 140Q159 126 160 131M162 136Q163 127 167 131M132 78Q130 73 126 76M1 95Q3 85 7 90M1 95Q-2 88 -7 92M110 139Q110 127 112 132M110 114Q110 105 112 108M88 138Q87 122 86 128M132 67Q133 64 135 66M160 56Q160 47 160 51M1 109Q-1 97 -6 103M106 127Q109 122 114 126M38 101Q38 88 38 93M38 101Q39 92 42 96M62 49Q61 43 59 45M49 137Q47 124 43 130M53 127Q58 111 67 119M135 106Q135 97 136 101M-0 69Q-2 64 -5 67M62 120Q65 115 70 119M132 97Q135 92 140 96M109 77Q110 73 112 75M100 83Q98 77 96 80" stroke="#95be5e" stroke-width="1.5" stroke-opacity="0.8" fill="none" stroke-linecap="round"/><path d="M113 89Q112 81 111 84M75 60Q72 55 65 59M132 67Q133 62 134 64M96 91Q96 81 96 85M56 77Q52 69 45 74M100 100Q97 94 91 98M-3 74Q-6 71 -10 74M39 124Q37 120 32 123M172 128Q169 121 163 126M43 89Q41 84 37 87M91 125Q90 114 88 118M99 53Q99 48 100 50M166 80Q164 73 161 76M166 80Q167 68 168 73" stroke="#b4d27e" stroke-width="1.5" stroke-opacity="0.6" fill="none" stroke-linecap="round"/><path d="M79 84Q80 75 80 79M31 72Q31 63 31 67M161 110Q158 102 153 106M12 70Q14 62 17 66M73 56Q74 52 76 54M45 71Q44 63 42 66M35 84Q35 77 36 80M26 89Q26 80 26 84M86 57Q85 48 85 51M55 73Q54 68 53 70M22 63Q22 58 22 60M43 89Q40 84 34 88M43 89Q40 83 35 87M23 128Q27 121 34 126M54 73Q55 62 56 66M53 127Q55 114 57 119M115 102Q113 96 110 99M48 135Q44 128 37 133M172 128Q176 115 183 122" stroke="#86b250" stroke-width="1.5" stroke-opacity="0.8" fill="none" stroke-linecap="round"/><path d="M79 84Q82 75 86 79M132 85Q131 78 130 81M22 72Q21 67 17 69M162 136Q158 130 151 134M51 92Q49 88 46 90M132 78Q130 74 126 77M73 56Q71 53 70 55M133 126Q136 118 141 122M-2 98Q1 93 6 97M-2 98Q-0 93 3 96M101 89Q104 83 110 87M3 93Q4 80 6 85M60 165Q64 154 72 160M169 95Q167 88 164 92M160 83Q157 78 151 82M37 90Q35 83 30 87M37 90Q33 85 26 89M97 103Q93 94 86 100M28 141Q25 132 19 137M113 149Q112 139 112 143" stroke="#b4d27e" stroke-width="1.5" stroke-opacity="0.8" fill="none" stroke-linecap="round"/><path d="M75 60Q76 55 78 57M150 51Q151 49 154 51M135 102Q139 95 146 100M1 144Q4 132 10 138M159 140Q154 130 144 137M159 128Q155 119 148 124M110 139Q114 128 123 135M68 78Q69 73 70 75M35 84Q33 79 30 82M120 80Q121 75 124 78M73 137Q76 131 81 135M35 74Q33 69 29 72M160 56Q161 50 163 53M16 144Q15 136 13 139M96 91Q92 85 85 89M163 72Q161 67 158 70M35 150Q38 133 44 140M107 90Q109 86 114 89M160 83Q161 75 162 78M106 123Q104 112 100 117M13 103Q11 97 6 100M92 59Q93 51 95 54M100 83Q103 77 109 81" stroke="#c2da92" stroke-width="1.5" stroke-opacity="0.8" fill="none" stroke-linecap="round"/><path d="M75 60Q76 52 76 55M65 103Q70 95 77 100M44 131Q39 124 32 130M22 72Q24 65 27 68M130 140Q129 122 128 129M130 139Q128 122 124 129M98 137Q95 122 90 128M8 114Q7 97 4 104M169 95Q171 91 175 93M38 101Q35 91 29 97M160 83Q162 77 167 81M4 126Q-0 118 -8 124M170 94Q172 88 175 91M132 77Q132 68 131 71M109 77Q110 68 110 71M51 115Q53 108 56 111M87 128Q86 113 85 119" stroke="#a6c86c" stroke-width="1.5" stroke-opacity="0.6" fill="none" stroke-linecap="round"/><path d="M75 60Q72 54 67 58M150 51Q151 48 155 50M116 88Q115 79 113 82M125 85Q125 80 125 82M82 25Q81 23 79 24M2 54Q1 50 -0 52M168 60Q170 51 173 55M60 38Q60 34 59 35M34 61Q33 56 32 58M89 72Q91 67 94 70M69 92Q67 87 63 90M82 47Q80 45 77 47M21 38Q21 35 22 36M37 90Q38 82 41 86M41 63Q41 56 42 59M162 42Q163 38 165 40M166 39Q166 35 166 36" stroke="#a6c86c" stroke-width="1" stroke-opacity="0.6" fill="none" stroke-linecap="round"/><path d="M129 21Q130 17 132 19M5 27Q5 24 4 25M165 15Q164 14 163 15M126 27Q127 26 128 27M119 18Q120 16 120 17M88 40Q89 39 90 40" stroke="#95be5e" stroke-width="0.5" stroke-opacity="0.6" fill="none" stroke-linecap="round"/><path d="M129 21Q128 18 128 19M129 21Q130 19 131 20M31 72Q30 65 29 68M63 62Q61 59 58 61M165 65Q163 61 160 63M22 72Q22 66 22 68M153 87Q155 81 159 84M18 17Q19 15 21 17M165 15Q164 13 163 14M126 27Q127 25 128 26M126 27Q126 24 126 25M12 70Q10 65 6 68M56 79Q55 73 52 76M56 79Q55 74 53 76M41 26Q41 23 41 24M17 34Q18 28 19 30M125 85Q127 80 132 83M68 40Q70 38 73 40M86 57Q88 53 92 56M75 49Q76 42 77 45M34 61Q33 57 31 59M-3 74Q-4 68 -4 70M2 24Q2 20 2 21M21 38Q21 36 22 37M112 77Q113 72 114 74M123 58Q122 55 120 57M162 42Q162 39 161 41M166 39Q166 36 165 37M13 103Q16 95 22 100M166 80Q164 72 160 76" stroke="#c2da92" stroke-width="1" stroke-opacity="0.8" fill="none" stroke-linecap="round"/><path d="M129 21Q129 16 129 18M70 18Q70 16 71 17M83 43Q81 40 78 42M62 34Q62 31 62 32M135 31Q136 29 138 31M34 23Q33 19 32 21" stroke="#b4d27e" stroke-width="0.5" stroke-opacity="0.6" fill="none" stroke-linecap="round"/><path d="M5 150Q2 138 -5 144M96 157Q100 149 109 155" stroke="#95be5e" stroke-width="2.5" stroke-opacity="1" fill="none" stroke-linecap="round"/><path d="M5 150Q3 142 0 145M98 137Q94 129 87 134M148 162Q147 149 145 154M59 144Q62 137 66 141M16 125Q11 117 1 123M22 128Q20 124 15 127M154 124Q155 106 157 113" stroke="#c2da92" stroke-width="2.5" stroke-opacity="0.6" fill="none" stroke-linecap="round"/><path d="M5 150Q4 142 2 145M31 72Q29 65 26 68M102 108Q100 100 97 103M132 85Q132 78 131 81M86 72Q87 67 90 69M118 122Q119 114 122 117M20 96Q21 83 23 88M21 99Q18 91 12 95M156 147Q160 134 167 141M65 128Q67 117 69 121M62 120Q60 112 56 116" stroke="#86b250" stroke-width="1.5" stroke-opacity="0.6" fill="none" stroke-linecap="round"/><path d="M5 150Q3 143 -0 147M44 147Q40 142 35 146M4 126Q-0 120 -8 125M96 157Q95 142 93 148" stroke="#95be5e" stroke-width="2.5" stroke-opacity="0.8" fill="none" stroke-linecap="round"/><path d="M150 51Q152 48 155 51M5 27Q7 24 9 25M-1 49Q0 45 2 47M167 55Q166 50 165 52M167 55Q169 50 174 53M9 36Q10 30 12 33M41 26Q41 23 42 24M51 38Q52 33 54 35M156 36Q156 34 154 35M-4 24Q-4 21 -3 22M118 45Q117 41 115 43M138 55Q137 51 134 53M41 63Q39 57 37 60M122 28Q121 24 121 25M74 81Q75 72 78 75M132 77Q134 71 138 74" stroke="#86b250" stroke-width="1" stroke-opacity="0.6" fill="none" stroke-linecap="round"/><path d="M135 102Q131 95 123 101M5 64Q3 61 -0 64M154 82Q154 75 153 78M110 114Q110 100 112 105M125 85Q123 79 118 83M132 67Q134 64 138 67M98 137Q96 123 92 128M101 89Q100 78 98 82M94 110Q99 100 106 106M82 147Q78 139 71 144M3 93Q5 83 9 88M8 114Q10 100 13 105M153 147Q154 130 154 136M172 128Q174 123 177 126M162 121Q165 111 170 116M53 127Q54 112 56 118M113 99Q113 91 112 94M152 61Q151 56 150 58M141 117Q143 108 148 112M141 117Q138 113 133 116" stroke="#95be5e" stroke-width="1.5" stroke-opacity="0.6" fill="none" stroke-linecap="round"/><path d="M92 77Q91 71 89 74M31 72Q33 69 36 71M159 140Q157 121 154 129M6 106Q2 100 -5 104M6 106Q6 94 6 99M109 145Q111 135 114 139M35 84Q36 74 38 78M132 67Q129 64 125 67M168 60Q165 56 161 59M94 110Q98 100 105 106M163 72Q163 66 163 68M1 109Q4 103 9 107M70 116Q66 100 59 107M108 150Q103 140 95 146M39 124Q38 111 35 116M55 73Q56 70 58 71M142 54Q140 48 136 51M142 54Q143 45 145 48M48 75Q49 68 51 71M135 106Q130 100 123 105M152 61Q150 58 146 61M133 164Q134 142 135 151M154 124Q155 110 158 115M166 80Q168 70 172 74M113 149Q112 140 109 144" stroke="#a6c86c" stroke-width="1.5" stroke-opacity="0.8" fill="none" stroke-linecap="round"/><path d="M92 77Q92 69 92 72M83 43Q82 40 79 42M9 36Q9 32 11 33M61 27Q62 25 63 26M88 40Q89 39 90 40M142 54Q141 47 138 50M41 63Q39 55 35 59" stroke="#b4d27e" stroke-width="1" stroke-opacity="1" fill="none" stroke-linecap="round"/><path d="M92 77Q91 70 91 73M132 85Q132 74 131 78M86 72Q84 64 81 68M81 42Q79 40 76 42M174 16Q173 13 173 14M18 17Q18 15 17 16M41 26Q40 24 38 25M61 27Q60 24 57 26M156 36Q157 34 158 35M89 72Q86 69 82 71M89 72Q91 69 96 71M148 38Q149 35 151 37M54 73Q56 67 60 70M132 77Q133 66 134 70M92 59Q90 52 87 55" stroke="#b4d27e" stroke-width="1" stroke-opacity="0.8" fill="none" stroke-linecap="round"/><path d="M5 27Q6 23 6 24M83 43Q82 37 80 39M174 16Q174 14 175 15M79 24Q80 22 81 23M28 36Q27 32 26 34M28 36Q29 32 31 34M132 21Q132 18 132 19M135 31Q137 29 140 31" stroke="#86b250" stroke-width="0.5" stroke-opacity="0.8" fill="none" stroke-linecap="round"/><path d="M5 27Q5 21 4 23M137 37Q139 32 141 35M36 26Q36 23 35 24" stroke="#86b250" stroke-width="0.5" stroke-opacity="0.6" fill="none" stroke-linecap="round"/><path d="M75 43Q76 40 78 42M116 88Q118 77 121 82M83 43Q81 40 78 42M81 42Q80 38 79 40M139 58Q139 50 138 53M12 70Q11 63 8 66M95 93Q97 89 99 91M17 34Q16 31 14 33M34 61Q32 57 30 59M121 33Q123 30 126 32M89 72Q91 68 95 70M82 47Q83 43 86 45M40 30Q40 26 41 27M107 90Q104 85 99 88M115 102Q117 96 121 99M172 52Q174 49 177 52M171 50Q173 46 177 48" stroke="#b4d27e" stroke-width="1" stroke-opacity="0.6" fill="none" stroke-linecap="round"/><path d="M75 43Q76 41 77 42M63 62Q62 54 59 57M161 110Q159 100 156 104M165 65Q165 60 166 62M160 63Q162 61 164 63M52 30Q53 25 55 27M52 30Q52 27 53 28M82 25Q80 22 78 24M168 60Q170 53 173 56M160 56Q162 51 167 55M68 40Q68 36 69 38M75 49Q78 45 82 48M13 65Q11 58 8 61M3 93Q1 84 -3 88M55 73Q56 69 58 71M22 63Q22 54 23 58M21 38Q21 34 21 36M43 89Q41 79 36 83M41 63Q39 55 37 58M172 52Q171 45 169 48M171 50Q172 47 174 49M171 50Q170 45 167 47M-0 69Q0 63 1 65M34 23Q35 19 35 20M92 59Q93 52 96 55" stroke="#a6c86c" stroke-width="1" stroke-opacity="0.8" fill="none" stroke-linecap="round"/><path d="M75 43Q74 40 74 41M132 85Q131 80 127 82M165 65Q165 60 165 62M154 82Q153 75 151 78M52 30Q51 25 49 27M167 55Q166 49 163 52M125 85Q125 80 124 82M3 24Q4 22 5 23M62 34Q63 31 64 33M75 49Q74 43 71 46M13 65Q13 57 13 60M121 33Q121 29 121 30M38 101Q39 91 41 95M62 49Q64 42 67 45M123 58Q125 54 127 56M43 56Q44 51 46 53" stroke="#95be5e" stroke-width="1" stroke-opacity="0.6" fill="none" stroke-linecap="round"/><path d="M172 120Q169 110 165 115M54 137Q53 128 50 132M130 140Q125 130 118 136M120 80Q119 76 117 78M6 125Q6 113 5 117M2 54Q4 50 7 52M82 147Q84 131 88 137M3 93Q2 85 -0 88M8 114Q9 98 10 104M162 121Q163 108 163 113" stroke="#b4d27e" stroke-width="1.5" stroke-opacity="1" fill="none" stroke-linecap="round"/><path d="M172 120Q173 105 174 111M44 147Q45 133 47 138M135 120Q132 113 128 117M20 96Q17 87 10 92M92 105Q95 94 100 99M84 148Q88 139 95 145M75 110Q75 100 76 104M70 116Q69 100 66 106M39 124Q42 114 47 119M39 145Q40 134 43 138M23 128Q26 118 30 123M9 164Q7 150 3 156M20 110Q23 99 29 105M106 123Q111 112 121 119M127 138Q130 131 135 135M97 103Q100 97 104 100M56 154Q54 132 50 141" stroke="#a6c86c" stroke-width="2" stroke-opacity="0.8" fill="none" stroke-linecap="round"/><path d="M172 120Q170 109 168 113M1 144Q5 129 12 136M-2 154Q-2 139 -4 145M59 144Q62 136 68 140M100 100Q99 92 97 95M118 143Q122 137 128 142M105 154Q108 133 114 142M97 103Q101 95 108 100M67 113Q67 104 66 108" stroke="#86b250" stroke-width="2" stroke-opacity="0.6" fill="none" stroke-linecap="round"/><path d="M172 120Q174 113 177 116M8 114Q5 106 -2 111M22 128Q24 123 28 126M127 138Q128 119 130 127M67 113Q67 104 68 107M51 115Q49 107 46 110" stroke="#a6c86c" stroke-width="2" stroke-opacity="0.6" fill="none" stroke-linecap="round"/><path d="M54 137Q52 132 49 135M98 149Q94 138 87 144M124 155Q121 141 114 147M16 144Q19 134 23 139M133 126Q136 118 141 123M63 150Q62 135 59 141M170 144Q165 130 156 137M69 92Q71 87 73 89M37 90Q34 85 29 89M67 113Q62 106 54 111M170 94Q168 86 165 90M56 154Q61 141 71 149M113 149Q112 133 111 139" stroke="#c2da92" stroke-width="2" stroke-opacity="0.6" fill="none" stroke-linecap="round"/><path d="M21 118Q18 112 11 116M44 147Q47 141 52 145M102 108Q105 102 110 105M49 90Q48 82 46 85M6 125Q4 114 1 119M156 147Q160 130 168 138M16 144Q14 136 9 140M133 126Q130 114 126 119M94 110Q91 102 86 106M113 99Q110 92 104 97M20 110Q20 96 20 101M87 128Q82 116 73 123" stroke="#95be5e" stroke-width="2" stroke-opacity="0.8" fill="none" stroke-linecap="round"/><path d="M21 118Q23 106 27 111M48 165Q48 149 47 156" stroke="#86b250" stroke-width="2" stroke-opacity="1" fill="none" stroke-linecap="round"/><path d="M152 115Q154 105 157 110M139 58Q141 51 145 55M68 78Q68 73 69 75M96 91Q100 84 106 88M94 110Q92 100 88 104M132 124Q132 114 132 118M80 164Q85 152 93 159" stroke="#86b250" stroke-width="1.5" stroke-opacity="1" fill="none" stroke-linecap="round"/><path d="M152 115Q150 109 146 113M86 72Q87 67 89 70M22 72Q22 66 21 68M143 70Q143 63 142 66M51 92Q52 83 55 87M132 78Q135 74 138 76M45 71Q47 64 51 67M60 38Q61 34 62 35M170 50Q170 45 168 47M-3 74Q-2 72 1 74M69 92Q69 84 69 87M40 30Q38 27 36 29M138 55Q138 47 139 50M70 93Q69 86 68 89M133 103Q130 93 126 98M112 77Q114 74 117 77M123 58Q125 53 127 55M43 56Q43 51 41 53M100 83Q99 75 98 78" stroke="#95be5e" stroke-width="1" stroke-opacity="0.8" fill="none" stroke-linecap="round"/><path d="M44 147Q39 138 31 144M116 154Q114 137 110 144M55 145Q52 139 46 143M82 147Q80 133 77 139M82 157Q79 148 74 153M60 165Q65 157 73 162M35 150Q33 133 30 140M127 138Q124 131 118 136" stroke="#c2da92" stroke-width="2.5" stroke-opacity="0.8" fill="none" stroke-linecap="round"/><path d="M116 154Q111 147 102 153M44 131Q42 119 39 124M162 136Q165 130 170 134M105 129Q104 118 101 123M26 89Q26 81 25 84M84 148Q87 136 92 141M98 137Q94 126 86 132M82 157Q85 152 90 155M77 152Q81 143 89 149M169 95Q166 90 161 93M105 154Q98 142 87 150M4 126Q3 108 1 115M62 120Q66 112 73 118M170 94Q169 84 169 88" stroke="#b4d27e" stroke-width="2" stroke-opacity="0.8" fill="none" stroke-linecap="round"/><path d="M137 24Q136 21 136 22M116 88Q117 74 119 80M165 65Q164 60 163 62M153 87Q152 81 151 84M73 56Q71 54 69 56M168 60Q166 57 162 59M35 74Q34 68 34 70M68 40Q69 35 70 37M56 77Q53 72 47 76M70 116Q73 102 78 108M82 47Q83 43 84 45M21 38Q21 35 21 36M62 49Q63 41 65 44M36 26Q37 21 37 23M43 56Q43 51 43 53M86 93Q88 81 92 86" stroke="#c2da92" stroke-width="1" stroke-opacity="0.6" fill="none" stroke-linecap="round"/><path d="M137 24Q136 23 134 24M-1 49Q-2 43 -3 46M132 78Q132 71 132 74M9 36Q9 31 9 33M2 54Q4 52 6 54M2 54Q4 50 6 52M160 56Q157 52 153 55M-2 98Q-4 94 -6 96M68 40Q69 35 71 38M-4 24Q-3 22 -3 23M-4 24Q-3 22 -1 24M2 24Q3 22 4 23M82 47Q81 40 78 43M148 38Q146 36 144 38M67 64Q66 58 63 61M62 49Q60 43 57 46M112 77Q112 70 111 73M170 94Q168 86 165 90" stroke="#86b250" stroke-width="1" stroke-opacity="0.8" fill="none" stroke-linecap="round"/><path d="M1 144Q4 135 9 140M162 136Q161 127 160 131M130 140Q134 126 141 133M110 139Q105 128 96 135M108 150Q108 136 107 142M35 150Q39 140 44 145M53 127Q53 110 53 116M154 124Q149 118 141 123M68 144Q67 136 65 139M108 165Q111 155 117 160" stroke="#86b250" stroke-width="2.5" stroke-opacity="0.8" fill="none" stroke-linecap="round"/><path d="M122 15Q122 13 123 14M122 15Q122 13 122 14M146 19Q146 17 146 18M165 15Q165 12 165 13M61 27Q61 23 61 24M119 18Q119 16 118 17M2 24Q1 21 -0 22M171 50Q172 46 174 48M67 30Q66 27 65 28M166 39Q166 35 166 37M34 23Q35 18 36 20" stroke="#b4d27e" stroke-width="0.5" stroke-opacity="0.8" fill="none" stroke-linecap="round"/><path d="M63 62Q62 56 61 59M63 62Q60 57 55 60M62 34Q62 32 61 33M170 50Q170 46 170 47M160 83Q161 76 163 79M123 58Q125 53 128 56" stroke="#c2da92" stroke-width="1" stroke-opacity="1" fill="none" stroke-linecap="round"/><path d="M98 149Q96 140 93 144M135 120Q136 106 138 112M118 122Q120 109 123 115M105 129Q105 114 104 120M92 105Q88 101 82 105M63 150Q65 140 68 145M148 162Q154 153 163 160M1 109Q5 104 12 108M38 121Q39 108 41 113M14 96Q18 90 24 94M105 154Q100 146 91 152M113 99Q115 92 119 95M111 125Q111 116 111 119M111 125Q108 118 102 122M28 141Q30 128 35 134M17 155Q23 144 35 152" stroke="#86b250" stroke-width="2" stroke-opacity="0.8" fill="none" stroke-linecap="round"/><path d="M70 18Q69 16 68 17M18 17Q19 15 21 17M52 30Q51 24 50 26M28 36Q28 32 28 34M137 37Q139 35 142 37M41 26Q41 23 42 24M17 34Q18 30 19 31M34 23Q35 20 37 22" stroke="#a6c86c" stroke-width="0.5" stroke-opacity="0.8" fill="none" stroke-linecap="round"/><path d="M70 18Q70 16 69 17M135 31Q133 29 130 31" stroke="#a6c86c" stroke-width="0.5" stroke-opacity="0.6" fill="none" stroke-linecap="round"/><path d="M70 18Q71 16 72 17M174 16Q174 14 176 15M79 24Q80 23 81 23M55 16Q55 13 55 14" stroke="#c2da92" stroke-width="0.5" stroke-opacity="0.6" fill="none" stroke-linecap="round"/><path d="M81 42Q79 40 76 42M154 82Q157 77 161 80M101 89Q101 80 102 83M100 100Q98 88 95 93M121 33Q120 30 117 32M48 75Q46 69 43 72M132 97Q130 86 126 91M132 97Q130 88 128 91M36 26Q37 21 38 23" stroke="#a6c86c" stroke-width="1" stroke-opacity="1" fill="none" stroke-linecap="round"/><path d="M-2 154Q2 149 8 154M153 87Q154 79 157 82M49 90Q48 83 44 87M-2 98Q0 95 5 98M108 150Q112 130 119 139M65 128Q61 118 54 124M4 126Q7 117 13 122M108 165Q105 156 100 161" stroke="#c2da92" stroke-width="2" stroke-opacity="0.8" fill="none" stroke-linecap="round"/><path d="M159 140Q154 132 145 138M20 96Q16 89 8 95M59 144Q59 130 57 136M49 137Q48 124 47 129M49 137Q50 129 53 132M22 128Q20 120 16 124M20 110Q18 97 14 103M133 164Q129 149 122 156M96 157Q101 148 111 155M154 124Q150 118 142 123" stroke="#b4d27e" stroke-width="2" stroke-opacity="0.6" fill="none" stroke-linecap="round"/><path d="M124 155Q127 143 130 148M156 147Q156 132 156 138M16 125Q19 114 24 119M140 116Q139 104 137 109M9 164Q5 153 -1 159" stroke="#95be5e" stroke-width="2" stroke-opacity="1" fill="none" stroke-linecap="round"/><path d="M124 155Q123 134 121 142M88 138Q84 132 78 137M100 100Q97 93 92 97M106 127Q103 116 97 121M70 116Q70 105 70 109M115 102Q112 97 107 101M62 120Q64 115 69 119M172 128Q176 121 181 125M67 113Q68 100 71 106" stroke="#95be5e" stroke-width="2" stroke-opacity="0.6" fill="none" stroke-linecap="round"/><path d="M146 19Q146 16 146 17M9 36Q8 33 6 34M132 21Q132 18 132 19M82 25Q81 22 80 23M61 27Q60 24 59 25M62 34Q62 30 63 32M148 38Q147 34 145 36M122 28Q123 26 125 28" stroke="#c2da92" stroke-width="0.5" stroke-opacity="0.8" fill="none" stroke-linecap="round"/><path d="M146 19Q145 16 144 18M3 24Q2 23 -0 24M55 16Q55 14 55 15" stroke="#c2da92" stroke-width="0.5" stroke-opacity="1" fill="none" stroke-linecap="round"/><path d="M160 63Q159 58 158 61M86 57Q84 52 80 54M48 75Q46 69 43 72M67 64Q69 58 71 61M140 116Q136 106 129 112M133 103Q135 95 140 99" stroke="#95be5e" stroke-width="1.5" stroke-opacity="1" fill="none" stroke-linecap="round"/><path d="M130 140Q130 117 130 126M16 144Q13 138 6 142M70 93Q71 87 72 89M141 117Q138 109 133 114M141 117Q143 104 147 110" stroke="#b4d27e" stroke-width="2" stroke-opacity="1" fill="none" stroke-linecap="round"/><path d="M55 145Q51 136 43 142M84 148Q81 138 75 143M77 152Q73 142 66 148M133 164Q137 153 144 159M144 155Q143 136 140 143" stroke="#95be5e" stroke-width="2.5" stroke-opacity="0.6" fill="none" stroke-linecap="round"/><path d="M135 120Q134 112 133 115" stroke="#b4d27e" stroke-width="2.5" stroke-opacity="1" fill="none" stroke-linecap="round"/><path d="M174 16Q174 14 175 15M-4 24Q-4 20 -3 22" stroke="#b4d27e" stroke-width="0.5" stroke-opacity="1" fill="none" stroke-linecap="round"/><path d="M159 128Q160 110 162 117M49 90Q52 86 58 89M49 137Q49 125 50 130M48 165Q48 143 47 151M91 125Q93 112 97 117" stroke="#a6c86c" stroke-width="2" stroke-opacity="1" fill="none" stroke-linecap="round"/><path d="M118 122Q118 113 118 116M74 81Q75 73 76 76M99 53Q99 48 100 50" stroke="#a6c86c" stroke-width="1.5" stroke-opacity="1" fill="none" stroke-linecap="round"/><path d="M165 15Q164 14 163 14M51 38Q52 33 54 35M119 18Q118 16 117 17M122 28Q122 25 123 26M67 30Q68 28 69 29" stroke="#86b250" stroke-width="0.5" stroke-opacity="1" fill="none" stroke-linecap="round"/><path d="M167 55Q165 49 162 52M86 57Q87 53 90 55M118 45Q119 40 120 42M48 75Q46 68 42 71" stroke="#95be5e" stroke-width="1" stroke-opacity="1" fill="none" stroke-linecap="round"/><path d="M73 56Q71 52 68 54M68 78Q70 74 72 77M162 42Q163 39 165 41M132 77Q134 71 138 74" stroke="#86b250" stroke-width="1" stroke-opacity="1" fill="none" stroke-linecap="round"/><path d="M109 145Q108 132 105 137M73 137Q77 126 85 132M77 152Q74 139 68 145M22 128Q25 120 31 124" stroke="#a6c86c" stroke-width="2.5" stroke-opacity="0.6" fill="none" stroke-linecap="round"/><path d="M109 145Q110 134 111 138M110 139Q109 125 108 130M35 150Q32 138 27 144M105 154Q102 137 98 144M153 147Q158 140 166 146M9 164Q6 160 -0 164" stroke="#b4d27e" stroke-width="2.5" stroke-opacity="0.8" fill="none" stroke-linecap="round"/><path d="M1 95Q2 85 2 89M163 72Q161 67 157 70M38 121Q37 110 35 114M132 124Q135 115 139 119M144 155Q140 146 133 151" stroke="#c2da92" stroke-width="1.5" stroke-opacity="1" fill="none" stroke-linecap="round"/><path d="M130 139Q124 131 114 138M77 152Q82 143 92 150M162 121Q158 113 151 118M15 156Q14 143 13 148" stroke="#86b250" stroke-width="2.5" stroke-opacity="0.6" fill="none" stroke-linecap="round"/><path d="M88 138Q84 128 76 134M48 135Q50 127 54 131" stroke="#c2da92" stroke-width="2.5" stroke-opacity="1" fill="none" stroke-linecap="round"/><path d="M63 150Q62 141 61 144M68 144Q71 136 76 140" stroke="#86b250" stroke-width="2.5" stroke-opacity="1" fill="none" stroke-linecap="round"/><path d="M170 144Q175 134 185 141M118 143Q120 134 123 138M39 145Q42 135 48 140M48 135Q49 123 49 128M48 135Q44 130 37 134M108 165Q103 157 94 163" stroke="#b4d27e" stroke-width="2.5" stroke-opacity="0.6" fill="none" stroke-linecap="round"/><path d="M148 162Q153 153 161 159M162 121Q161 110 157 115" stroke="#c2da92" stroke-width="2" stroke-opacity="1" fill="none" stroke-linecap="round"/><path d="M82 157Q82 143 83 148M106 127Q110 115 116 121M15 156Q21 148 32 155M113 149Q113 138 112 142M17 155Q15 138 11 145" stroke="#a6c86c" stroke-width="2.5" stroke-opacity="0.8" fill="none" stroke-linecap="round"/><path d="M121 33Q121 29 121 30M36 26Q37 23 39 24" stroke="#95be5e" stroke-width="0.5" stroke-opacity="0.8" fill="none" stroke-linecap="round"/><path d="M119 18Q120 16 122 17" stroke="#95be5e" stroke-width="0.5" stroke-opacity="1" fill="none" stroke-linecap="round"/><path d="M60 165Q57 159 52 162M80 164Q84 150 92 157M144 155Q145 134 146 142" stroke="#86b250" stroke-width="3" stroke-opacity="0.6" fill="none" stroke-linecap="round"/><path d="M15 156Q11 139 5 147" stroke="#a6c86c" stroke-width="2.5" stroke-opacity="1" fill="none" stroke-linecap="round"/><path d="M17 155Q14 134 9 143" stroke="#95be5e" stroke-width="3" stroke-opacity="0.8" fill="none" stroke-linecap="round"/><path d="M17 155Q12 140 4 148" stroke="#b4d27e" stroke-width="3" stroke-opacity="0.8" fill="none" stroke-linecap="round"/>
<ellipse cx="20" cy="100" rx="4.800000000000001" ry="2.4000000000000004" fill="#d0cdb5" opacity="0.45"/>
<ellipse cx="140" cy="70" rx="4.0" ry="2.0" fill="#d0cdb5" opacity="0.45"/>
<ellipse cx="100" cy="80" rx="3.2" ry="1.6" fill="#d0cdb5" opacity="0.45"/>
<ellipse cx="150" cy="140" rx="4.0" ry="2.0" fill="#d0cdb5" opacity="0.45"/>
<ellipse cx="125" cy="112" rx="4.0" ry="2.0" fill="#d0cdb5" opacity="0.45"/>
</g></g>
<rect x="65.7" y="173.3" width="461.8" height="221.89999999999998" fill="none" stroke="#1a1a1a" stroke-width="1.3"/>
<path d="M65.7 367.46h3.5M65.7 339.73h3.5M65.7 311.99h3.5M65.7 284.25h3.5M65.7 256.51h3.5M65.7 228.78h3.5M65.7 201.04h3.5M80.60 395.2v-3.2M95.49 395.2v-3.2M110.39 395.2v-3.2M125.29 395.2v-3.2M140.18 395.2v-3.2M155.08 395.2v-3.2M169.98 395.2v-3.2M184.87 395.2v-3.2M199.77 395.2v-3.2M214.67 395.2v-3.2M229.56 395.2v-3.2M244.46 395.2v-3.2M259.36 395.2v-3.2M274.25 395.2v-3.2M289.15 395.2v-3.2M304.05 395.2v-3.2M318.95 395.2v-3.2M333.84 395.2v-3.2M348.74 395.2v-3.2M363.64 395.2v-3.2M378.53 395.2v-3.2M393.43 395.2v-3.2M408.33 395.2v-3.2M423.22 395.2v-3.2M438.12 395.2v-3.2M453.02 395.2v-3.2M467.91 395.2v-3.2M482.81 395.2v-3.2M497.71 395.2v-3.2M512.60 395.2v-3.2" stroke="#1a1a1a" stroke-width="1.2" fill="none"/>
<text transform="translate(56.70,399.00) scale(1,1.09)" text-anchor="end">0</text>
<text transform="translate(56.70,371.26) scale(1,1.09)" text-anchor="end">0.1</text>
<text transform="translate(56.70,343.53) scale(1,1.09)" text-anchor="end">0.2</text>
<text transform="translate(56.70,315.79) scale(1,1.09)" text-anchor="end">0.3</text>
<text transform="translate(56.70,288.05) scale(1,1.09)" text-anchor="end">0.4</text>
<text transform="translate(56.70,260.31) scale(1,1.09)" text-anchor="end">0.5</text>
<text transform="translate(56.70,232.58) scale(1,1.09)" text-anchor="end">0.6</text>
<text transform="translate(56.70,204.84) scale(1,1.09)" text-anchor="end">0.7</text>
<text transform="translate(56.70,177.10) scale(1,1.09)" text-anchor="end">0.8</text>
<text transform="translate(68.89,409.69) rotate(-45) scale(1,1.09)" text-anchor="end">2018-03-20</text>
<text transform="translate(83.78,409.69) rotate(-45) scale(1,1.09)" text-anchor="end">2018-03-25</text>
<text transform="translate(98.68,409.69) rotate(-45) scale(1,1.09)" text-anchor="end">2018-04-04</text>
<text transform="translate(113.58,409.69) rotate(-45) scale(1,1.09)" text-anchor="end">2018-04-09</text>
<text transform="translate(128.47,409.69) rotate(-45) scale(1,1.09)" text-anchor="end">2018-04-19</text>
<text transform="translate(143.37,409.69) rotate(-45) scale(1,1.09)" text-anchor="end">2018-04-24</text>
<text transform="translate(158.27,409.69) rotate(-45) scale(1,1.09)" text-anchor="end">2018-05-09</text>
<text transform="translate(173.16,409.69) rotate(-45) scale(1,1.09)" text-anchor="end">2018-05-19</text>
<text transform="translate(188.06,409.69) rotate(-45) scale(1,1.09)" text-anchor="end">2018-06-08</text>
<text transform="translate(202.96,409.69) rotate(-45) scale(1,1.09)" text-anchor="end">2018-06-13</text>
<text transform="translate(217.85,409.69) rotate(-45) scale(1,1.09)" text-anchor="end">2018-06-18</text>
<text transform="translate(232.75,409.69) rotate(-45) scale(1,1.09)" text-anchor="end">2018-06-23</text>
<text transform="translate(247.65,409.69) rotate(-45) scale(1,1.09)" text-anchor="end">2018-06-28</text>
<text transform="translate(262.54,409.69) rotate(-45) scale(1,1.09)" text-anchor="end">2018-07-03</text>
<text transform="translate(277.44,409.69) rotate(-45) scale(1,1.09)" text-anchor="end">2018-07-13</text>
<text transform="translate(292.34,409.69) rotate(-45) scale(1,1.09)" text-anchor="end">2018-07-18</text>
<text transform="translate(307.23,409.69) rotate(-45) scale(1,1.09)" text-anchor="end">2018-07-28</text>
<text transform="translate(322.13,409.69) rotate(-45) scale(1,1.09)" text-anchor="end">2018-08-02</text>
<text transform="translate(337.03,409.69) rotate(-45) scale(1,1.09)" text-anchor="end">2018-08-07</text>
<text transform="translate(351.93,409.69) rotate(-45) scale(1,1.09)" text-anchor="end">2018-08-17</text>
<text transform="translate(366.82,409.69) rotate(-45) scale(1,1.09)" text-anchor="end">2018-08-22</text>
<text transform="translate(381.72,409.69) rotate(-45) scale(1,1.09)" text-anchor="end">2018-08-27</text>
<text transform="translate(396.62,409.69) rotate(-45) scale(1,1.09)" text-anchor="end">2018-09-01</text>
<text transform="translate(411.51,409.69) rotate(-45) scale(1,1.09)" text-anchor="end">2018-09-06</text>
<text transform="translate(426.41,409.69) rotate(-45) scale(1,1.09)" text-anchor="end">2018-09-11</text>
<text transform="translate(441.31,409.69) rotate(-45) scale(1,1.09)" text-anchor="end">2018-09-16</text>
<text transform="translate(456.20,409.69) rotate(-45) scale(1,1.09)" text-anchor="end">2018-09-21</text>
<text transform="translate(471.10,409.69) rotate(-45) scale(1,1.09)" text-anchor="end">2018-09-26</text>
<text transform="translate(486.00,409.69) rotate(-45) scale(1,1.09)" text-anchor="end">2018-10-01</text>
<text transform="translate(500.89,409.69) rotate(-45) scale(1,1.09)" text-anchor="end">2018-10-11</text>
<text transform="translate(515.79,409.69) rotate(-45) scale(1,1.09)" text-anchor="end">2018-10-16</text>
<text transform="translate(530.69,409.69) rotate(-45) scale(1,1.09)" text-anchor="end">2018-10-21</text>
<polyline points="65.70,361.91 80.60,347.49 95.49,341.11 110.39,334.18 125.29,336.95 140.18,320.03 155.08,292.85 169.98,268.44 184.87,343.33 199.77,361.64 214.67,368.02 229.56,367.60 244.46,368.02 259.36,365.52 274.25,349.43 289.15,326.41 304.05,304.78 318.95,260.67 333.84,249.30 348.74,232.38 363.64,192.72 378.53,222.67 393.43,244.59 408.33,214.63 423.22,203.81 438.12,203.53 453.02,204.64 467.91,191.05 482.81,232.94 497.71,264.56 512.60,306.99 527.50,320.31" fill="none" stroke="#1572c8" stroke-width="1.4" stroke-linejoin="round"/>
<g fill="#1572c8"><circle cx="65.70" cy="361.91" r="2.6"/><circle cx="80.60" cy="347.49" r="2.6"/><circle cx="95.49" cy="341.11" r="2.6"/><circle cx="110.39" cy="334.18" r="2.6"/><circle cx="125.29" cy="336.95" r="2.6"/><circle cx="140.18" cy="320.03" r="2.6"/><circle cx="155.08" cy="292.85" r="2.6"/><circle cx="169.98" cy="268.44" r="2.6"/><circle cx="184.87" cy="343.33" r="2.6"/><circle cx="199.77" cy="361.64" r="2.6"/><circle cx="214.67" cy="368.02" r="2.6"/><circle cx="229.56" cy="367.60" r="2.6"/><circle cx="244.46" cy="368.02" r="2.6"/><circle cx="259.36" cy="365.52" r="2.6"/><circle cx="274.25" cy="349.43" r="2.6"/><circle cx="289.15" cy="326.41" r="2.6"/><circle cx="304.05" cy="304.78" r="2.6"/><circle cx="318.95" cy="260.67" r="2.6"/><circle cx="333.84" cy="249.30" r="2.6"/><circle cx="348.74" cy="232.38" r="2.6"/><circle cx="363.64" cy="192.72" r="2.6"/><circle cx="378.53" cy="222.67" r="2.6"/><circle cx="393.43" cy="244.59" r="2.6"/><circle cx="408.33" cy="214.63" r="2.6"/><circle cx="423.22" cy="203.81" r="2.6"/><circle cx="438.12" cy="203.53" r="2.6"/><circle cx="453.02" cy="204.64" r="2.6"/><circle cx="467.91" cy="191.05" r="2.6"/><circle cx="482.81" cy="232.94" r="2.6"/><circle cx="497.71" cy="264.56" r="2.6"/><circle cx="512.60" cy="306.99" r="2.6"/><circle cx="527.50" cy="320.31" r="2.6"/></g>
<polyline points="65.70,386.60 80.60,376.89 95.49,373.56 110.39,367.46 125.29,368.57 140.18,351.10 155.08,319.20 169.98,286.75 184.87,371.35 199.77,383.00 214.67,387.99 229.56,389.10 244.46,387.43 259.36,386.32 274.25,371.07 289.15,344.72 304.05,304.22 318.95,274.26 333.84,254.85 348.74,232.38 363.64,209.91 378.53,226.28 393.43,227.94 408.33,224.61 423.22,222.12 438.12,220.45 453.02,226.83 467.91,223.50 482.81,260.67 497.71,300.62 512.60,346.38 527.50,361.91" fill="none" stroke="#d20c18" stroke-width="1.4" stroke-linejoin="round"/>
<g fill="#d20c18"><circle cx="65.70" cy="386.60" r="2.6"/><circle cx="80.60" cy="376.89" r="2.6"/><circle cx="95.49" cy="373.56" r="2.6"/><circle cx="110.39" cy="367.46" r="2.6"/><circle cx="125.29" cy="368.57" r="2.6"/><circle cx="140.18" cy="351.10" r="2.6"/><circle cx="155.08" cy="319.20" r="2.6"/><circle cx="169.98" cy="286.75" r="2.6"/><circle cx="184.87" cy="371.35" r="2.6"/><circle cx="199.77" cy="383.00" r="2.6"/><circle cx="214.67" cy="387.99" r="2.6"/><circle cx="229.56" cy="389.10" r="2.6"/><circle cx="244.46" cy="387.43" r="2.6"/><circle cx="259.36" cy="386.32" r="2.6"/><circle cx="274.25" cy="371.07" r="2.6"/><circle cx="289.15" cy="344.72" r="2.6"/><circle cx="304.05" cy="304.22" r="2.6"/><circle cx="318.95" cy="274.26" r="2.6"/><circle cx="333.84" cy="254.85" r="2.6"/><circle cx="348.74" cy="232.38" r="2.6"/><circle cx="363.64" cy="209.91" r="2.6"/><circle cx="378.53" cy="226.28" r="2.6"/><circle cx="393.43" cy="227.94" r="2.6"/><circle cx="408.33" cy="224.61" r="2.6"/><circle cx="423.22" cy="222.12" r="2.6"/><circle cx="438.12" cy="220.45" r="2.6"/><circle cx="453.02" cy="226.83" r="2.6"/><circle cx="467.91" cy="223.50" r="2.6"/><circle cx="482.81" cy="260.67" r="2.6"/><circle cx="497.71" cy="300.62" r="2.6"/><circle cx="512.60" cy="346.38" r="2.6"/><circle cx="527.50" cy="361.91" r="2.6"/></g>
<line x1="91" y1="199.6" x2="113.6" y2="199.6" stroke="#1572c8" stroke-width="1.4"/><circle cx="102.4" cy="199.6" r="2.6" fill="#1572c8"/>
<text transform="translate(116.40,203.50) scale(1,1.09)">NDVI</text>
<line x1="152.1" y1="199.6" x2="174.4" y2="199.6" stroke="#d20c18" stroke-width="1.4"/><circle cx="163.5" cy="199.6" r="2.6" fill="#d20c18"/>
<text transform="translate(176.60,203.50) scale(1,1.09)">FVC</text>
<text transform="translate(21.50,284.50) rotate(-90) scale(1,1.09)" text-anchor="middle">NDVI, FVC</text>
<text transform="translate(297.00,457.70) scale(1,1.09)" text-anchor="middle">Date</text>
<text transform="translate(98.70,276.20) scale(1,1.09)">Plowing</text>
<text transform="translate(187.60,323.80) scale(1,1.09)">Sowing</text>
<text transform="translate(214.40,344.20) scale(1,1.09)">Emergence</text>
<text transform="translate(239.80,297.60) scale(1,1.09)">Establishment</text>
<text transform="translate(349.60,273.50) scale(1,1.09)" style="font-size:10px">Flowering</text>
<text transform="translate(411.50,250.60) scale(1,1.09)">Senescence</text>
<text transform="translate(413.20,299.20) scale(1,1.09)">Harvesting</text>
<text transform="translate(301.30,198.00) scale(1,1.09)" text-anchor="middle">End of vegetative</text>
<text transform="translate(301.30,211.10) scale(1,1.09)" text-anchor="middle">growth</text>
<path d="M141.2,272 L144,271.8 L169.5,268.4 M204.7,327.6 L200.1,359.4 M240.6,348.5 L258.4,365 M270.9,302.2 L274.4,348 M370,259 L378.1,225.9 M466,246.8 L471.3,246.8 L483.2,233.3 M466,295.5 L471.3,295.5 L497.9,264.9 M345.6,200 Q352,200 363.6,192.8" fill="none" stroke="#1a1a1a" stroke-width="1.25"/>
</svg>
</body></html>
